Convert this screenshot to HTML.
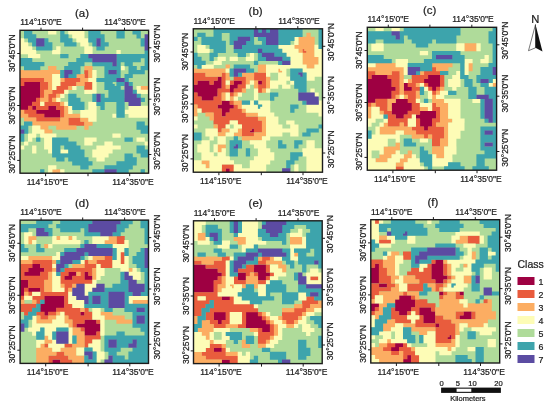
<!DOCTYPE html>
<html><head><meta charset="utf-8"><title>Class maps</title>
<style>html,body{margin:0;padding:0;background:#fff;}body{width:550px;height:406px;overflow:hidden;}svg{display:block;}text{fill:#1c1c1c;stroke:#1c1c1c;stroke-width:0.22px;}</style>
</head><body>
<svg width="550" height="406" viewBox="0 0 550 406" font-family="'Liberation Sans', Arial, sans-serif">
<defs><filter id="bl" x="-2%" y="-2%" width="104%" height="104%"><feGaussianBlur stdDeviation="0.7"/></filter></defs>
<rect width="550" height="406" fill="#fff"/>
<clipPath id="cpa"><rect x="20.00" y="30.30" width="128.60" height="142.90"/></clipPath>
<g clip-path="url(#cpa)"><g filter="url(#bl)">
<rect x="18.00" y="28.30" width="132.60" height="146.90" fill="#afdb9a"/>
<path fill="#9e0142" d="M24.0 81.9h16.3v2.2h-16.3zM24.0 83.9h16.3v2.2h-16.3zM20.0 85.9h20.3v2.2h-20.3zM20.0 87.9h20.3v2.2h-20.3zM20.0 89.8h20.3v2.2h-20.3zM20.0 91.8h20.3v2.2h-20.3zM20.0 93.8h20.3v2.2h-20.3zM20.0 95.8h20.3v2.2h-20.3zM20.0 97.8h16.3v2.2h-16.3zM20.0 99.8h16.3v2.2h-16.3zM20.0 101.7h12.3v2.2h-12.3zM20.0 103.7h12.3v2.2h-12.3zM20.0 105.7h8.3v2.2h-8.3zM32.1 105.7h4.3v2.2h-4.3zM48.1 105.7h8.3v2.2h-8.3zM20.0 107.7h8.3v2.2h-8.3zM32.1 107.7h4.3v2.2h-4.3zM48.1 107.7h8.3v2.2h-8.3zM36.1 109.7h24.4v2.2h-24.4zM36.1 111.7h24.4v2.2h-24.4zM44.1 113.7h16.3v2.2h-16.3zM44.1 115.6h16.3v2.2h-16.3z"/>
<path fill="#e95b3d" d="M84.3 70.0h4.3v2.2h-4.3zM84.3 72.0h4.3v2.2h-4.3zM84.3 74.0h4.3v2.2h-4.3zM84.3 75.9h4.3v2.2h-4.3zM20.0 77.9h24.4v2.2h-24.4zM64.2 77.9h16.3v2.2h-16.3zM20.0 79.9h24.4v2.2h-24.4zM64.2 79.9h16.3v2.2h-16.3zM20.0 81.9h4.3v2.2h-4.3zM40.1 81.9h8.3v2.2h-8.3zM60.2 81.9h16.3v2.2h-16.3zM84.3 81.9h8.3v2.2h-8.3zM20.0 83.9h4.3v2.2h-4.3zM40.1 83.9h8.3v2.2h-8.3zM60.2 83.9h16.3v2.2h-16.3zM84.3 83.9h8.3v2.2h-8.3zM40.1 85.9h8.3v2.2h-8.3zM56.2 85.9h12.3v2.2h-12.3zM84.3 85.9h8.3v2.2h-8.3zM40.1 87.9h8.3v2.2h-8.3zM56.2 87.9h12.3v2.2h-12.3zM84.3 87.9h8.3v2.2h-8.3zM40.1 89.8h4.3v2.2h-4.3zM52.1 89.8h12.3v2.2h-12.3zM40.1 91.8h4.3v2.2h-4.3zM52.1 91.8h12.3v2.2h-12.3zM40.1 93.8h4.3v2.2h-4.3zM48.1 93.8h8.3v2.2h-8.3zM40.1 95.8h4.3v2.2h-4.3zM48.1 95.8h8.3v2.2h-8.3zM36.1 97.8h4.3v2.2h-4.3zM48.1 97.8h4.3v2.2h-4.3zM36.1 99.8h4.3v2.2h-4.3zM48.1 99.8h4.3v2.2h-4.3zM32.1 101.7h8.3v2.2h-8.3zM44.1 101.7h16.3v2.2h-16.3zM32.1 103.7h8.3v2.2h-8.3zM44.1 103.7h16.3v2.2h-16.3zM28.0 105.7h4.3v2.2h-4.3zM36.1 105.7h12.3v2.2h-12.3zM56.2 105.7h8.3v2.2h-8.3zM28.0 107.7h4.3v2.2h-4.3zM36.1 107.7h12.3v2.2h-12.3zM56.2 107.7h8.3v2.2h-8.3zM24.0 109.7h12.3v2.2h-12.3zM60.2 109.7h4.3v2.2h-4.3zM24.0 111.7h12.3v2.2h-12.3zM60.2 111.7h4.3v2.2h-4.3zM28.0 113.7h16.3v2.2h-16.3zM60.2 113.7h4.3v2.2h-4.3zM28.0 115.6h16.3v2.2h-16.3zM60.2 115.6h4.3v2.2h-4.3zM36.1 117.6h24.4v2.2h-24.4zM68.2 117.6h12.3v2.2h-12.3zM36.1 119.6h24.4v2.2h-24.4zM68.2 119.6h12.3v2.2h-12.3zM68.2 121.6h16.3v2.2h-16.3zM68.2 123.6h16.3v2.2h-16.3z"/>
<path fill="#fcad62" d="M48.1 66.0h8.3v2.2h-8.3zM84.3 66.0h8.3v2.2h-8.3zM48.1 68.0h8.3v2.2h-8.3zM84.3 68.0h8.3v2.2h-8.3zM20.0 70.0h40.4v2.2h-40.4zM88.3 70.0h4.3v2.2h-4.3zM20.0 72.0h40.4v2.2h-40.4zM88.3 72.0h4.3v2.2h-4.3zM20.0 74.0h32.4v2.2h-32.4zM76.3 74.0h8.3v2.2h-8.3zM88.3 74.0h4.3v2.2h-4.3zM20.0 75.9h32.4v2.2h-32.4zM76.3 75.9h8.3v2.2h-8.3zM88.3 75.9h4.3v2.2h-4.3zM44.1 77.9h8.3v2.2h-8.3zM60.2 77.9h4.3v2.2h-4.3zM80.3 77.9h8.3v2.2h-8.3zM44.1 79.9h8.3v2.2h-8.3zM60.2 79.9h4.3v2.2h-4.3zM80.3 79.9h8.3v2.2h-8.3zM48.1 81.9h4.3v2.2h-4.3zM76.3 81.9h8.3v2.2h-8.3zM48.1 83.9h4.3v2.2h-4.3zM76.3 83.9h8.3v2.2h-8.3zM48.1 85.9h4.3v2.2h-4.3zM68.2 85.9h4.3v2.2h-4.3zM140.6 85.9h8.3v2.2h-8.3zM48.1 87.9h4.3v2.2h-4.3zM68.2 87.9h4.3v2.2h-4.3zM140.6 87.9h8.3v2.2h-8.3zM44.1 89.8h8.3v2.2h-8.3zM44.1 91.8h8.3v2.2h-8.3zM44.1 93.8h4.3v2.2h-4.3zM56.2 93.8h4.3v2.2h-4.3zM44.1 95.8h4.3v2.2h-4.3zM56.2 95.8h4.3v2.2h-4.3zM40.1 97.8h8.3v2.2h-8.3zM52.1 97.8h4.3v2.2h-4.3zM40.1 99.8h8.3v2.2h-8.3zM52.1 99.8h4.3v2.2h-4.3zM60.2 101.7h4.3v2.2h-4.3zM60.2 103.7h4.3v2.2h-4.3zM64.2 105.7h4.3v2.2h-4.3zM64.2 107.7h4.3v2.2h-4.3zM20.0 109.7h4.3v2.2h-4.3zM64.2 109.7h4.3v2.2h-4.3zM20.0 111.7h4.3v2.2h-4.3zM64.2 111.7h4.3v2.2h-4.3zM20.0 113.7h8.3v2.2h-8.3zM64.2 113.7h16.3v2.2h-16.3zM20.0 115.6h8.3v2.2h-8.3zM64.2 115.6h16.3v2.2h-16.3zM24.0 117.6h12.3v2.2h-12.3zM60.2 117.6h8.3v2.2h-8.3zM80.3 117.6h8.3v2.2h-8.3zM24.0 119.6h12.3v2.2h-12.3zM60.2 119.6h8.3v2.2h-8.3zM80.3 119.6h8.3v2.2h-8.3zM32.1 121.6h36.4v2.2h-36.4zM84.3 121.6h8.3v2.2h-8.3zM32.1 123.6h36.4v2.2h-36.4zM84.3 123.6h8.3v2.2h-8.3zM40.1 125.6h8.3v2.2h-8.3zM56.2 125.6h20.3v2.2h-20.3zM84.3 125.6h4.3v2.2h-4.3zM40.1 127.6h8.3v2.2h-8.3zM56.2 127.6h20.3v2.2h-20.3zM84.3 127.6h4.3v2.2h-4.3zM44.1 129.5h8.3v2.2h-8.3zM44.1 131.5h8.3v2.2h-8.3zM52.1 169.2h8.3v2.2h-8.3zM52.1 171.2h8.3v2.2h-8.3z"/>
<path fill="#fdfcb6" d="M48.1 30.3h8.3v2.2h-8.3zM68.2 30.3h16.3v2.2h-16.3zM48.1 32.3h8.3v2.2h-8.3zM68.2 32.3h16.3v2.2h-16.3zM72.2 34.3h12.3v2.2h-12.3zM72.2 36.3h12.3v2.2h-12.3zM20.0 38.2h4.3v2.2h-4.3zM76.3 38.2h12.3v2.2h-12.3zM20.0 40.2h4.3v2.2h-4.3zM76.3 40.2h12.3v2.2h-12.3zM20.0 42.2h8.3v2.2h-8.3zM80.3 42.2h8.3v2.2h-8.3zM20.0 44.2h8.3v2.2h-8.3zM80.3 44.2h8.3v2.2h-8.3zM20.0 46.2h12.3v2.2h-12.3zM56.2 46.2h4.3v2.2h-4.3zM84.3 46.2h8.3v2.2h-8.3zM20.0 48.2h12.3v2.2h-12.3zM56.2 48.2h4.3v2.2h-4.3zM84.3 48.2h8.3v2.2h-8.3zM20.0 50.1h16.3v2.2h-16.3zM52.1 50.1h8.3v2.2h-8.3zM84.3 50.1h8.3v2.2h-8.3zM116.4 50.1h4.3v2.2h-4.3zM20.0 52.1h16.3v2.2h-16.3zM52.1 52.1h8.3v2.2h-8.3zM84.3 52.1h8.3v2.2h-8.3zM116.4 52.1h4.3v2.2h-4.3zM28.0 54.1h12.3v2.2h-12.3zM28.0 56.1h12.3v2.2h-12.3zM120.5 66.0h4.3v2.2h-4.3zM120.5 68.0h4.3v2.2h-4.3zM92.3 70.0h4.3v2.2h-4.3zM92.3 72.0h4.3v2.2h-4.3zM52.1 74.0h8.3v2.2h-8.3zM92.3 74.0h4.3v2.2h-4.3zM52.1 75.9h8.3v2.2h-8.3zM92.3 75.9h4.3v2.2h-4.3zM52.1 77.9h8.3v2.2h-8.3zM88.3 77.9h8.3v2.2h-8.3zM52.1 79.9h8.3v2.2h-8.3zM88.3 79.9h8.3v2.2h-8.3zM52.1 81.9h8.3v2.2h-8.3zM92.3 81.9h4.3v2.2h-4.3zM52.1 83.9h8.3v2.2h-8.3zM92.3 83.9h4.3v2.2h-4.3zM52.1 85.9h4.3v2.2h-4.3zM72.2 85.9h4.3v2.2h-4.3zM92.3 85.9h4.3v2.2h-4.3zM136.5 85.9h4.3v2.2h-4.3zM52.1 87.9h4.3v2.2h-4.3zM72.2 87.9h4.3v2.2h-4.3zM92.3 87.9h4.3v2.2h-4.3zM136.5 87.9h4.3v2.2h-4.3zM64.2 89.8h4.3v2.2h-4.3zM84.3 89.8h12.3v2.2h-12.3zM136.5 89.8h12.3v2.2h-12.3zM64.2 91.8h4.3v2.2h-4.3zM84.3 91.8h12.3v2.2h-12.3zM136.5 91.8h12.3v2.2h-12.3zM60.2 93.8h4.3v2.2h-4.3zM60.2 95.8h4.3v2.2h-4.3zM56.2 97.8h4.3v2.2h-4.3zM56.2 99.8h4.3v2.2h-4.3zM40.1 101.7h4.3v2.2h-4.3zM64.2 101.7h4.3v2.2h-4.3zM88.3 101.7h8.3v2.2h-8.3zM40.1 103.7h4.3v2.2h-4.3zM64.2 103.7h4.3v2.2h-4.3zM88.3 103.7h8.3v2.2h-8.3zM68.2 105.7h4.3v2.2h-4.3zM88.3 105.7h8.3v2.2h-8.3zM128.5 105.7h20.3v2.2h-20.3zM68.2 107.7h4.3v2.2h-4.3zM88.3 107.7h8.3v2.2h-8.3zM128.5 107.7h20.3v2.2h-20.3zM68.2 109.7h4.3v2.2h-4.3zM80.3 109.7h16.3v2.2h-16.3zM124.5 109.7h24.4v2.2h-24.4zM68.2 111.7h4.3v2.2h-4.3zM80.3 111.7h16.3v2.2h-16.3zM124.5 111.7h24.4v2.2h-24.4zM80.3 113.7h16.3v2.2h-16.3zM112.4 113.7h4.3v2.2h-4.3zM128.5 113.7h20.3v2.2h-20.3zM80.3 115.6h16.3v2.2h-16.3zM112.4 115.6h4.3v2.2h-4.3zM128.5 115.6h20.3v2.2h-20.3zM88.3 117.6h8.3v2.2h-8.3zM88.3 119.6h8.3v2.2h-8.3zM32.1 125.6h8.3v2.2h-8.3zM32.1 127.6h8.3v2.2h-8.3zM32.1 129.5h12.3v2.2h-12.3zM32.1 131.5h12.3v2.2h-12.3zM28.0 133.5h8.3v2.2h-8.3zM40.1 133.5h16.3v2.2h-16.3zM112.4 133.5h8.3v2.2h-8.3zM28.0 135.5h8.3v2.2h-8.3zM40.1 135.5h16.3v2.2h-16.3zM112.4 135.5h8.3v2.2h-8.3zM28.0 137.5h4.3v2.2h-4.3zM44.1 137.5h8.3v2.2h-8.3zM84.3 137.5h12.3v2.2h-12.3zM136.5 137.5h8.3v2.2h-8.3zM28.0 139.5h4.3v2.2h-4.3zM44.1 139.5h8.3v2.2h-8.3zM84.3 139.5h12.3v2.2h-12.3zM136.5 139.5h8.3v2.2h-8.3zM24.0 141.4h4.3v2.2h-4.3zM44.1 141.4h8.3v2.2h-8.3zM84.3 141.4h8.3v2.2h-8.3zM104.4 141.4h8.3v2.2h-8.3zM144.6 141.4h4.3v2.2h-4.3zM24.0 143.4h4.3v2.2h-4.3zM44.1 143.4h8.3v2.2h-8.3zM84.3 143.4h8.3v2.2h-8.3zM104.4 143.4h8.3v2.2h-8.3zM144.6 143.4h4.3v2.2h-4.3zM20.0 145.4h4.3v2.2h-4.3zM32.1 145.4h4.3v2.2h-4.3zM44.1 145.4h8.3v2.2h-8.3zM96.4 145.4h24.4v2.2h-24.4zM20.0 147.4h4.3v2.2h-4.3zM32.1 147.4h4.3v2.2h-4.3zM44.1 147.4h8.3v2.2h-8.3zM96.4 147.4h24.4v2.2h-24.4zM32.1 149.4h4.3v2.2h-4.3zM48.1 149.4h4.3v2.2h-4.3zM60.2 149.4h8.3v2.2h-8.3zM92.3 149.4h20.3v2.2h-20.3zM32.1 151.4h4.3v2.2h-4.3zM48.1 151.4h4.3v2.2h-4.3zM60.2 151.4h8.3v2.2h-8.3zM92.3 151.4h20.3v2.2h-20.3zM92.3 153.4h16.3v2.2h-16.3zM92.3 155.3h16.3v2.2h-16.3zM96.4 157.3h8.3v2.2h-8.3zM96.4 159.3h8.3v2.2h-8.3zM48.1 165.3h8.3v2.2h-8.3zM48.1 167.2h8.3v2.2h-8.3zM48.1 169.2h4.3v2.2h-4.3zM60.2 169.2h4.3v2.2h-4.3zM48.1 171.2h4.3v2.2h-4.3zM60.2 171.2h4.3v2.2h-4.3z"/>
<path fill="#3ea4ac" d="M24.0 30.3h8.3v2.2h-8.3zM60.2 30.3h4.3v2.2h-4.3zM88.3 30.3h12.3v2.2h-12.3zM116.4 30.3h8.3v2.2h-8.3zM132.5 30.3h8.3v2.2h-8.3zM24.0 32.3h8.3v2.2h-8.3zM60.2 32.3h4.3v2.2h-4.3zM88.3 32.3h12.3v2.2h-12.3zM116.4 32.3h8.3v2.2h-8.3zM132.5 32.3h8.3v2.2h-8.3zM24.0 34.3h12.3v2.2h-12.3zM60.2 34.3h8.3v2.2h-8.3zM88.3 34.3h16.3v2.2h-16.3zM116.4 34.3h8.3v2.2h-8.3zM136.5 34.3h4.3v2.2h-4.3zM24.0 36.3h12.3v2.2h-12.3zM60.2 36.3h8.3v2.2h-8.3zM88.3 36.3h16.3v2.2h-16.3zM116.4 36.3h8.3v2.2h-8.3zM136.5 36.3h4.3v2.2h-4.3zM28.0 38.2h8.3v2.2h-8.3zM44.1 38.2h4.3v2.2h-4.3zM60.2 38.2h12.3v2.2h-12.3zM88.3 38.2h8.3v2.2h-8.3zM100.4 38.2h4.3v2.2h-4.3zM140.6 38.2h4.3v2.2h-4.3zM28.0 40.2h8.3v2.2h-8.3zM44.1 40.2h4.3v2.2h-4.3zM60.2 40.2h12.3v2.2h-12.3zM88.3 40.2h8.3v2.2h-8.3zM100.4 40.2h4.3v2.2h-4.3zM140.6 40.2h4.3v2.2h-4.3zM32.1 42.2h4.3v2.2h-4.3zM44.1 42.2h8.3v2.2h-8.3zM64.2 42.2h12.3v2.2h-12.3zM92.3 42.2h4.3v2.2h-4.3zM100.4 42.2h8.3v2.2h-8.3zM140.6 42.2h4.3v2.2h-4.3zM32.1 44.2h4.3v2.2h-4.3zM44.1 44.2h8.3v2.2h-8.3zM64.2 44.2h12.3v2.2h-12.3zM92.3 44.2h4.3v2.2h-4.3zM100.4 44.2h8.3v2.2h-8.3zM140.6 44.2h4.3v2.2h-4.3zM36.1 46.2h16.3v2.2h-16.3zM96.4 46.2h8.3v2.2h-8.3zM36.1 48.2h16.3v2.2h-16.3zM96.4 48.2h8.3v2.2h-8.3zM144.6 50.1h4.3v2.2h-4.3zM144.6 52.1h4.3v2.2h-4.3zM60.2 54.1h8.3v2.2h-8.3zM80.3 54.1h8.3v2.2h-8.3zM116.4 54.1h32.4v2.2h-32.4zM60.2 56.1h8.3v2.2h-8.3zM80.3 56.1h8.3v2.2h-8.3zM116.4 56.1h32.4v2.2h-32.4zM20.0 58.1h12.3v2.2h-12.3zM76.3 58.1h16.3v2.2h-16.3zM116.4 58.1h24.4v2.2h-24.4zM144.6 58.1h4.3v2.2h-4.3zM20.0 60.1h12.3v2.2h-12.3zM76.3 60.1h16.3v2.2h-16.3zM116.4 60.1h24.4v2.2h-24.4zM144.6 60.1h4.3v2.2h-4.3zM20.0 62.1h24.4v2.2h-24.4zM68.2 62.1h16.3v2.2h-16.3zM92.3 62.1h20.3v2.2h-20.3zM116.4 62.1h4.3v2.2h-4.3zM124.5 62.1h8.3v2.2h-8.3zM144.6 62.1h4.3v2.2h-4.3zM20.0 64.0h24.4v2.2h-24.4zM68.2 64.0h16.3v2.2h-16.3zM92.3 64.0h20.3v2.2h-20.3zM116.4 64.0h4.3v2.2h-4.3zM124.5 64.0h8.3v2.2h-8.3zM144.6 64.0h4.3v2.2h-4.3zM24.0 66.0h16.3v2.2h-16.3zM64.2 66.0h16.3v2.2h-16.3zM104.4 66.0h16.3v2.2h-16.3zM128.5 66.0h8.3v2.2h-8.3zM140.6 66.0h8.3v2.2h-8.3zM24.0 68.0h16.3v2.2h-16.3zM64.2 68.0h16.3v2.2h-16.3zM104.4 68.0h16.3v2.2h-16.3zM128.5 68.0h8.3v2.2h-8.3zM140.6 68.0h8.3v2.2h-8.3zM60.2 70.0h4.3v2.2h-4.3zM72.2 70.0h8.3v2.2h-8.3zM104.4 70.0h4.3v2.2h-4.3zM116.4 70.0h4.3v2.2h-4.3zM128.5 70.0h16.3v2.2h-16.3zM60.2 72.0h4.3v2.2h-4.3zM72.2 72.0h8.3v2.2h-8.3zM104.4 72.0h4.3v2.2h-4.3zM116.4 72.0h4.3v2.2h-4.3zM128.5 72.0h16.3v2.2h-16.3zM60.2 74.0h4.3v2.2h-4.3zM68.2 74.0h8.3v2.2h-8.3zM104.4 74.0h16.3v2.2h-16.3zM124.5 74.0h8.3v2.2h-8.3zM60.2 75.9h4.3v2.2h-4.3zM68.2 75.9h8.3v2.2h-8.3zM104.4 75.9h16.3v2.2h-16.3zM124.5 75.9h8.3v2.2h-8.3zM96.4 77.9h20.3v2.2h-20.3zM124.5 77.9h4.3v2.2h-4.3zM96.4 79.9h20.3v2.2h-20.3zM124.5 79.9h4.3v2.2h-4.3zM104.4 81.9h8.3v2.2h-8.3zM116.4 81.9h8.3v2.2h-8.3zM128.5 81.9h4.3v2.2h-4.3zM104.4 83.9h10.3v2.2h-10.3zM116.4 83.9h8.3v2.2h-8.3zM128.5 83.9h4.3v2.2h-4.3zM104.4 85.9h16.3v2.2h-16.3zM104.4 87.9h16.3v2.2h-16.3zM108.4 89.8h16.3v2.2h-16.3zM132.5 89.8h4.3v2.2h-4.3zM108.4 91.8h16.3v2.2h-16.3zM132.5 91.8h4.3v2.2h-4.3zM68.2 93.8h8.3v2.2h-8.3zM92.3 93.8h4.3v2.2h-4.3zM100.4 93.8h4.3v2.2h-4.3zM108.4 93.8h16.3v2.2h-16.3zM136.5 93.8h4.3v2.2h-4.3zM68.2 95.8h8.3v2.2h-8.3zM92.3 95.8h4.3v2.2h-4.3zM100.4 95.8h4.3v2.2h-4.3zM108.4 95.8h16.3v2.2h-16.3zM136.5 95.8h4.3v2.2h-4.3zM68.2 97.8h12.3v2.2h-12.3zM92.3 97.8h4.3v2.2h-4.3zM100.4 97.8h24.4v2.2h-24.4zM140.6 97.8h4.3v2.2h-4.3zM68.2 99.8h12.3v2.2h-12.3zM92.3 99.8h4.3v2.2h-4.3zM100.4 99.8h24.4v2.2h-24.4zM140.6 99.8h4.3v2.2h-4.3zM68.2 101.7h16.3v2.2h-16.3zM96.4 101.7h8.3v2.2h-8.3zM116.4 101.7h8.3v2.2h-8.3zM68.2 103.7h16.3v2.2h-16.3zM96.4 103.7h8.3v2.2h-8.3zM116.4 103.7h8.3v2.2h-8.3zM72.2 105.7h12.3v2.2h-12.3zM100.4 105.7h4.3v2.2h-4.3zM116.4 105.7h8.3v2.2h-8.3zM72.2 107.7h12.3v2.2h-12.3zM100.4 107.7h4.3v2.2h-4.3zM116.4 107.7h8.3v2.2h-8.3zM116.4 109.7h8.3v2.2h-8.3zM116.4 111.7h8.3v2.2h-8.3zM116.4 113.7h8.3v2.2h-8.3zM116.4 115.6h8.3v2.2h-8.3zM24.0 121.6h8.3v2.2h-8.3zM136.5 121.6h8.3v2.2h-8.3zM24.0 123.6h8.3v2.2h-8.3zM136.5 123.6h8.3v2.2h-8.3zM20.0 125.6h8.3v2.2h-8.3zM136.5 125.6h12.3v2.2h-12.3zM20.0 127.6h8.3v2.2h-8.3zM136.5 127.6h12.3v2.2h-12.3zM24.0 129.5h4.3v2.2h-4.3zM140.6 129.5h8.3v2.2h-8.3zM24.0 131.5h4.3v2.2h-4.3zM140.6 131.5h8.3v2.2h-8.3zM20.0 133.5h4.3v2.2h-4.3zM20.0 135.5h4.3v2.2h-4.3zM20.0 137.5h4.3v2.2h-4.3zM36.1 137.5h4.3v2.2h-4.3zM52.1 137.5h16.3v2.2h-16.3zM124.5 137.5h8.3v2.2h-8.3zM20.0 139.5h4.3v2.2h-4.3zM36.1 139.5h4.3v2.2h-4.3zM52.1 139.5h16.3v2.2h-16.3zM124.5 139.5h8.3v2.2h-8.3zM52.1 141.4h24.4v2.2h-24.4zM52.1 143.4h24.4v2.2h-24.4zM52.1 145.4h8.3v2.2h-8.3zM64.2 145.4h16.3v2.2h-16.3zM136.5 145.4h8.3v2.2h-8.3zM52.1 147.4h8.3v2.2h-8.3zM64.2 147.4h16.3v2.2h-16.3zM136.5 147.4h8.3v2.2h-8.3zM52.1 149.4h8.3v2.2h-8.3zM68.2 149.4h16.3v2.2h-16.3zM136.5 149.4h12.3v2.2h-12.3zM52.1 151.4h8.3v2.2h-8.3zM68.2 151.4h16.3v2.2h-16.3zM136.5 151.4h12.3v2.2h-12.3zM52.1 153.4h32.4v2.2h-32.4zM124.5 153.4h8.3v2.2h-8.3zM140.6 153.4h8.3v2.2h-8.3zM52.1 155.3h32.4v2.2h-32.4zM124.5 155.3h8.3v2.2h-8.3zM140.6 155.3h8.3v2.2h-8.3zM56.2 157.3h8.3v2.2h-8.3zM68.2 157.3h20.3v2.2h-20.3zM124.5 157.3h12.3v2.2h-12.3zM56.2 159.3h8.3v2.2h-8.3zM68.2 159.3h20.3v2.2h-20.3zM124.5 159.3h12.3v2.2h-12.3zM72.2 161.3h20.3v2.2h-20.3zM116.4 161.3h20.3v2.2h-20.3zM72.2 163.3h20.3v2.2h-20.3zM116.4 163.3h20.3v2.2h-20.3zM80.3 165.3h8.3v2.2h-8.3zM104.4 165.3h28.4v2.2h-28.4zM80.3 167.2h8.3v2.2h-8.3zM104.4 167.2h28.4v2.2h-28.4zM40.1 169.2h4.3v2.2h-4.3zM92.3 169.2h12.3v2.2h-12.3zM116.4 169.2h12.3v2.2h-12.3zM140.6 169.2h4.3v2.2h-4.3zM40.1 171.2h4.3v2.2h-4.3zM92.3 171.2h12.3v2.2h-12.3zM116.4 171.2h12.3v2.2h-12.3zM140.6 171.2h4.3v2.2h-4.3z"/>
<path fill="#5b4ca2" d="M144.6 34.3h4.3v2.2h-4.3zM144.6 36.3h4.3v2.2h-4.3zM36.1 38.2h8.3v2.2h-8.3zM96.4 38.2h4.3v2.2h-4.3zM144.6 38.2h4.3v2.2h-4.3zM36.1 40.2h8.3v2.2h-8.3zM96.4 40.2h4.3v2.2h-4.3zM144.6 40.2h4.3v2.2h-4.3zM36.1 42.2h8.3v2.2h-8.3zM96.4 42.2h4.3v2.2h-4.3zM144.6 42.2h4.3v2.2h-4.3zM36.1 44.2h8.3v2.2h-8.3zM96.4 44.2h4.3v2.2h-4.3zM144.6 44.2h4.3v2.2h-4.3zM144.6 46.2h4.3v2.2h-4.3zM144.6 48.2h4.3v2.2h-4.3zM88.3 54.1h28.4v2.2h-28.4zM88.3 56.1h28.4v2.2h-28.4zM92.3 58.1h24.4v2.2h-24.4zM92.3 60.1h24.4v2.2h-24.4zM112.4 62.1h4.3v2.2h-4.3zM112.4 64.0h4.3v2.2h-4.3zM64.2 70.0h8.3v2.2h-8.3zM108.4 70.0h8.3v2.2h-8.3zM64.2 72.0h8.3v2.2h-8.3zM108.4 72.0h8.3v2.2h-8.3zM64.2 74.0h4.3v2.2h-4.3zM64.2 75.9h4.3v2.2h-4.3zM116.4 77.9h8.3v2.2h-8.3zM116.4 79.9h8.3v2.2h-8.3zM124.5 81.9h4.3v2.2h-4.3zM124.5 83.9h4.3v2.2h-4.3zM124.5 85.9h8.3v2.2h-8.3zM124.5 87.9h8.3v2.2h-8.3zM124.5 89.8h8.3v2.2h-8.3zM124.5 91.8h8.3v2.2h-8.3zM96.4 93.8h4.3v2.2h-4.3zM124.5 93.8h12.3v2.2h-12.3zM96.4 95.8h4.3v2.2h-4.3zM124.5 95.8h12.3v2.2h-12.3zM96.4 97.8h4.3v2.2h-4.3zM124.5 97.8h16.3v2.2h-16.3zM96.4 99.8h4.3v2.2h-4.3zM124.5 99.8h16.3v2.2h-16.3zM128.5 101.7h12.3v2.2h-12.3zM128.5 103.7h12.3v2.2h-12.3zM20.0 129.5h4.3v2.2h-4.3zM20.0 131.5h4.3v2.2h-4.3zM104.4 169.2h12.3v2.2h-12.3zM104.4 171.2h12.3v2.2h-12.3z"/>
</g></g>
<rect x="20.00" y="30.30" width="128.60" height="142.90" fill="none" stroke="#1c1c1c" stroke-width="1.4"/>
<path d="M41.0 27.7V30.3 M82.6 27.7V30.3 M124.5 27.7V30.3 M45.6 173.2V176.2 M88.0 173.2V176.2 M129.7 173.2V176.2 M17.2 53.5H20.0 M17.2 105.5H20.0 M17.2 160.4H20.0 M148.6 47.8H151.4 M148.6 99.2H151.4 M148.6 154.5H151.4" stroke="#1c1c1c" stroke-width="1" fill="none"/>
<text x="40.9" y="25.4" font-size="8.5" text-anchor="middle">114°15'0&quot;E</text>
<text x="125.0" y="25.4" font-size="8.5" text-anchor="middle">114°35'0&quot;E</text>
<text x="47.5" y="184.7" font-size="8.5" text-anchor="middle">114°15'0&quot;E</text>
<text x="133.0" y="184.7" font-size="8.5" text-anchor="middle">114°35'0&quot;E</text>
<text x="0" y="0" font-size="8.5" text-anchor="middle" transform="translate(15.0,53.2) rotate(-90)">30°45'0&quot;N</text>
<text x="0" y="0" font-size="8.5" text-anchor="middle" transform="translate(15.0,105.5) rotate(-90)">30°35'0&quot;N</text>
<text x="0" y="0" font-size="8.5" text-anchor="middle" transform="translate(15.0,154.5) rotate(-90)">30°25'0&quot;N</text>
<text x="0" y="0" font-size="8.5" text-anchor="middle" transform="translate(159.8,43.6) rotate(-90)">30°45'0&quot;N</text>
<text x="0" y="0" font-size="8.5" text-anchor="middle" transform="translate(159.8,96.5) rotate(-90)">30°35'0&quot;N</text>
<text x="0" y="0" font-size="8.5" text-anchor="middle" transform="translate(159.8,150.8) rotate(-90)">30°25'0&quot;N</text>
<text x="82.0" y="16.9" font-size="11.5" text-anchor="middle">(a)</text>
<clipPath id="cpb"><rect x="193.30" y="28.80" width="129.20" height="143.40"/></clipPath>
<g clip-path="url(#cpb)"><g filter="url(#bl)">
<rect x="191.30" y="26.80" width="133.20" height="147.40" fill="#afdb9a"/>
<path fill="#9e0142" d="M217.5 76.6h4.3v2.2h-4.3zM217.5 78.6h4.3v2.2h-4.3zM197.3 80.6h12.4v2.2h-12.4zM213.5 80.6h8.3v2.2h-8.3zM233.7 80.6h8.3v2.2h-8.3zM257.9 80.6h4.3v2.2h-4.3zM197.3 82.6h12.4v2.2h-12.4zM213.5 82.6h8.3v2.2h-8.3zM233.7 82.6h8.3v2.2h-8.3zM257.9 82.6h4.3v2.2h-4.3zM193.3 84.6h28.5v2.2h-28.5zM229.6 84.6h8.3v2.2h-8.3zM193.3 86.6h28.5v2.2h-28.5zM229.6 86.6h8.3v2.2h-8.3zM193.3 88.5h24.5v2.2h-24.5zM229.6 88.5h4.3v2.2h-4.3zM193.3 90.5h24.5v2.2h-24.5zM229.6 90.5h4.3v2.2h-4.3zM197.3 92.5h20.4v2.2h-20.4zM197.3 94.5h20.4v2.2h-20.4zM201.4 96.5h12.4v2.2h-12.4zM201.4 98.5h12.4v2.2h-12.4zM221.6 100.5h8.3v2.2h-8.3zM221.6 102.5h8.3v2.2h-8.3zM217.5 104.5h16.4v2.2h-16.4zM217.5 106.5h16.4v2.2h-16.4zM221.6 108.5h8.3v2.2h-8.3zM221.6 110.5h8.3v2.2h-8.3zM221.6 112.4h4.3v2.2h-4.3zM221.6 114.4h4.3v2.2h-4.3zM251.8 128.4h2.3v2.2h-2.3zM249.8 130.4h4.3v2.2h-4.3zM225.6 168.2h4.3v2.2h-4.3zM225.6 170.2h4.3v2.2h-4.3z"/>
<path fill="#e95b3d" d="M302.3 48.7h2.3v2.2h-2.3zM302.3 50.7h4.3v2.2h-4.3zM193.3 72.6h12.4v2.2h-12.4zM221.6 72.6h4.3v2.2h-4.3zM253.9 72.6h12.4v2.2h-12.4zM193.3 74.6h12.4v2.2h-12.4zM221.6 74.6h4.3v2.2h-4.3zM253.9 74.6h12.4v2.2h-12.4zM193.3 76.6h24.5v2.2h-24.5zM221.6 76.6h4.3v2.2h-4.3zM233.7 76.6h12.4v2.2h-12.4zM253.9 76.6h12.4v2.2h-12.4zM193.3 78.6h24.5v2.2h-24.5zM221.6 78.6h4.3v2.2h-4.3zM233.7 78.6h12.4v2.2h-12.4zM253.9 78.6h12.4v2.2h-12.4zM193.3 80.6h4.3v2.2h-4.3zM209.5 80.6h4.3v2.2h-4.3zM221.6 80.6h4.3v2.2h-4.3zM229.6 80.6h4.3v2.2h-4.3zM241.8 80.6h4.3v2.2h-4.3zM261.9 80.6h4.3v2.2h-4.3zM193.3 82.6h4.3v2.2h-4.3zM209.5 82.6h4.3v2.2h-4.3zM221.6 82.6h4.3v2.2h-4.3zM229.6 82.6h4.3v2.2h-4.3zM241.8 82.6h4.3v2.2h-4.3zM261.9 82.6h4.3v2.2h-4.3zM221.6 84.6h4.3v2.2h-4.3zM237.7 84.6h8.3v2.2h-8.3zM257.9 84.6h8.3v2.2h-8.3zM221.6 86.6h4.3v2.2h-4.3zM237.7 86.6h8.3v2.2h-8.3zM257.9 86.6h8.3v2.2h-8.3zM217.5 88.5h12.4v2.2h-12.4zM233.7 88.5h8.3v2.2h-8.3zM257.9 88.5h4.3v2.2h-4.3zM217.5 90.5h12.4v2.2h-12.4zM233.7 90.5h8.3v2.2h-8.3zM257.9 90.5h4.3v2.2h-4.3zM193.3 92.5h4.3v2.2h-4.3zM217.5 92.5h4.3v2.2h-4.3zM229.6 92.5h4.3v2.2h-4.3zM193.3 94.5h4.3v2.2h-4.3zM217.5 94.5h4.3v2.2h-4.3zM229.6 94.5h4.3v2.2h-4.3zM193.3 96.5h8.3v2.2h-8.3zM213.5 96.5h8.3v2.2h-8.3zM193.3 98.5h8.3v2.2h-8.3zM213.5 98.5h8.3v2.2h-8.3zM193.3 100.5h28.5v2.2h-28.5zM229.6 100.5h4.3v2.2h-4.3zM193.3 102.5h28.5v2.2h-28.5zM229.6 102.5h4.3v2.2h-4.3zM197.3 104.5h20.4v2.2h-20.4zM233.7 104.5h4.3v2.2h-4.3zM197.3 106.5h20.4v2.2h-20.4zM233.7 106.5h4.3v2.2h-4.3zM201.4 108.5h20.4v2.2h-20.4zM229.6 108.5h12.4v2.2h-12.4zM201.4 110.5h20.4v2.2h-20.4zM229.6 110.5h12.4v2.2h-12.4zM213.5 112.4h8.3v2.2h-8.3zM225.6 112.4h20.4v2.2h-20.4zM213.5 114.4h8.3v2.2h-8.3zM225.6 114.4h20.4v2.2h-20.4zM213.5 116.4h44.7v2.2h-44.7zM213.5 118.4h44.7v2.2h-44.7zM213.5 120.4h16.4v2.2h-16.4zM237.7 120.4h24.5v2.2h-24.5zM213.5 122.4h16.4v2.2h-16.4zM237.7 122.4h24.5v2.2h-24.5zM217.5 124.4h8.3v2.2h-8.3zM241.8 124.4h20.4v2.2h-20.4zM217.5 126.4h8.3v2.2h-8.3zM241.8 126.4h20.4v2.2h-20.4zM217.5 128.4h4.3v2.2h-4.3zM241.8 128.4h10.3v2.2h-10.3zM253.9 128.4h8.3v2.2h-8.3zM217.5 130.4h4.3v2.2h-4.3zM241.8 130.4h8.3v2.2h-8.3zM253.9 130.4h8.3v2.2h-8.3zM241.8 132.4h12.4v2.2h-12.4zM241.8 134.4h12.4v2.2h-12.4zM221.6 164.2h12.4v2.2h-12.4zM221.6 166.2h12.4v2.2h-12.4zM221.6 168.2h4.3v2.2h-4.3zM229.6 168.2h4.3v2.2h-4.3zM221.6 170.2h4.3v2.2h-4.3zM229.6 170.2h4.3v2.2h-4.3z"/>
<path fill="#fcad62" d="M306.4 32.8h4.3v2.2h-4.3zM306.4 34.8h4.3v2.2h-4.3zM298.3 36.8h16.4v2.2h-16.4zM298.3 38.8h16.4v2.2h-16.4zM298.3 40.8h16.4v2.2h-16.4zM298.3 42.7h16.4v2.2h-16.4zM294.2 44.7h20.4v2.2h-20.4zM294.2 46.7h20.4v2.2h-20.4zM298.3 48.7h4.3v2.2h-4.3zM304.3 48.7h10.3v2.2h-10.3zM298.3 50.7h4.3v2.2h-4.3zM306.4 50.7h8.3v2.2h-8.3zM302.3 52.7h12.4v2.2h-12.4zM302.3 54.7h12.4v2.2h-12.4zM302.3 56.7h16.4v2.2h-16.4zM302.3 58.7h16.4v2.2h-16.4zM302.3 60.7h16.4v2.2h-16.4zM302.3 62.7h16.4v2.2h-16.4zM225.6 64.6h4.3v2.2h-4.3zM257.9 64.6h8.3v2.2h-8.3zM306.4 64.6h8.3v2.2h-8.3zM225.6 66.6h4.3v2.2h-4.3zM257.9 66.6h8.3v2.2h-8.3zM306.4 66.6h8.3v2.2h-8.3zM193.3 68.6h32.5v2.2h-32.5zM257.9 68.6h8.3v2.2h-8.3zM278.1 68.6h2.3v2.2h-2.3zM193.3 70.6h32.5v2.2h-32.5zM257.9 70.6h8.3v2.2h-8.3zM278.1 70.6h4.3v2.2h-4.3zM205.4 72.6h16.4v2.2h-16.4zM225.6 72.6h4.3v2.2h-4.3zM241.8 72.6h12.4v2.2h-12.4zM205.4 74.6h16.4v2.2h-16.4zM225.6 74.6h4.3v2.2h-4.3zM241.8 74.6h12.4v2.2h-12.4zM225.6 76.6h4.3v2.2h-4.3zM245.8 76.6h8.3v2.2h-8.3zM266.0 76.6h4.3v2.2h-4.3zM225.6 78.6h4.3v2.2h-4.3zM245.8 78.6h8.3v2.2h-8.3zM266.0 78.6h4.3v2.2h-4.3zM245.8 80.6h4.3v2.2h-4.3zM253.9 80.6h4.3v2.2h-4.3zM266.0 80.6h4.3v2.2h-4.3zM245.8 82.6h4.3v2.2h-4.3zM253.9 82.6h4.3v2.2h-4.3zM266.0 82.6h4.3v2.2h-4.3zM225.6 84.6h4.3v2.2h-4.3zM253.9 84.6h4.3v2.2h-4.3zM266.0 84.6h4.3v2.2h-4.3zM225.6 86.6h4.3v2.2h-4.3zM253.9 86.6h4.3v2.2h-4.3zM266.0 86.6h4.3v2.2h-4.3zM241.8 88.5h4.3v2.2h-4.3zM261.9 88.5h4.3v2.2h-4.3zM241.8 90.5h4.3v2.2h-4.3zM261.9 90.5h4.3v2.2h-4.3zM221.6 92.5h4.3v2.2h-4.3zM233.7 92.5h4.3v2.2h-4.3zM221.6 94.5h4.3v2.2h-4.3zM233.7 94.5h4.3v2.2h-4.3zM221.6 96.5h4.3v2.2h-4.3zM229.6 96.5h4.3v2.2h-4.3zM221.6 98.5h4.3v2.2h-4.3zM229.6 98.5h4.3v2.2h-4.3zM233.7 100.5h8.3v2.2h-8.3zM233.7 102.5h8.3v2.2h-8.3zM193.3 104.5h4.3v2.2h-4.3zM237.7 104.5h4.3v2.2h-4.3zM193.3 106.5h4.3v2.2h-4.3zM237.7 106.5h4.3v2.2h-4.3zM193.3 108.5h4.3v2.2h-4.3zM241.8 108.5h4.3v2.2h-4.3zM193.3 110.5h4.3v2.2h-4.3zM241.8 110.5h4.3v2.2h-4.3zM193.3 112.4h4.3v2.2h-4.3zM205.4 112.4h8.3v2.2h-8.3zM245.8 112.4h12.4v2.2h-12.4zM193.3 114.4h4.3v2.2h-4.3zM205.4 114.4h8.3v2.2h-8.3zM245.8 114.4h12.4v2.2h-12.4zM209.5 116.4h4.3v2.2h-4.3zM257.9 116.4h8.3v2.2h-8.3zM209.5 118.4h4.3v2.2h-4.3zM257.9 118.4h8.3v2.2h-8.3zM261.9 120.4h4.3v2.2h-4.3zM261.9 122.4h4.3v2.2h-4.3zM213.5 124.4h4.3v2.2h-4.3zM261.9 124.4h4.3v2.2h-4.3zM213.5 126.4h4.3v2.2h-4.3zM261.9 126.4h4.3v2.2h-4.3zM221.6 128.4h8.3v2.2h-8.3zM237.7 128.4h4.3v2.2h-4.3zM261.9 128.4h4.3v2.2h-4.3zM221.6 130.4h8.3v2.2h-8.3zM237.7 130.4h4.3v2.2h-4.3zM261.9 130.4h4.3v2.2h-4.3zM217.5 132.4h8.3v2.2h-8.3zM233.7 132.4h8.3v2.2h-8.3zM253.9 132.4h12.4v2.2h-12.4zM217.5 134.4h8.3v2.2h-8.3zM233.7 134.4h8.3v2.2h-8.3zM253.9 134.4h12.4v2.2h-12.4zM241.8 136.3h20.4v2.2h-20.4zM241.8 138.3h20.4v2.2h-20.4zM217.5 144.3h8.3v2.2h-8.3zM217.5 146.3h8.3v2.2h-8.3zM217.5 148.3h4.3v2.2h-4.3zM217.5 150.3h4.3v2.2h-4.3zM201.4 160.2h8.3v2.2h-8.3zM201.4 162.2h8.3v2.2h-8.3zM205.4 164.2h4.3v2.2h-4.3zM205.4 166.2h4.3v2.2h-4.3z"/>
<path fill="#fdfcb6" d="M294.2 36.8h4.3v2.2h-4.3zM294.2 38.8h4.3v2.2h-4.3zM294.2 40.8h4.3v2.2h-4.3zM294.2 42.7h4.3v2.2h-4.3zM197.3 44.7h8.3v2.2h-8.3zM278.1 44.7h16.4v2.2h-16.4zM314.4 44.7h4.3v2.2h-4.3zM197.3 46.7h8.3v2.2h-8.3zM278.1 46.7h16.4v2.2h-16.4zM314.4 46.7h4.3v2.2h-4.3zM197.3 48.7h12.4v2.2h-12.4zM282.1 48.7h16.4v2.2h-16.4zM314.4 48.7h8.3v2.2h-8.3zM197.3 50.7h12.4v2.2h-12.4zM282.1 50.7h16.4v2.2h-16.4zM314.4 50.7h8.3v2.2h-8.3zM249.8 52.7h4.3v2.2h-4.3zM286.2 52.7h16.4v2.2h-16.4zM314.4 52.7h8.3v2.2h-8.3zM249.8 54.7h4.3v2.2h-4.3zM286.2 54.7h16.4v2.2h-16.4zM314.4 54.7h8.3v2.2h-8.3zM217.5 56.7h8.3v2.2h-8.3zM229.6 56.7h8.3v2.2h-8.3zM245.8 56.7h8.3v2.2h-8.3zM290.2 56.7h12.4v2.2h-12.4zM318.5 56.7h4.3v2.2h-4.3zM217.5 58.7h8.3v2.2h-8.3zM229.6 58.7h8.3v2.2h-8.3zM245.8 58.7h8.3v2.2h-8.3zM290.2 58.7h12.4v2.2h-12.4zM318.5 58.7h4.3v2.2h-4.3zM213.5 60.7h8.3v2.2h-8.3zM290.2 60.7h12.4v2.2h-12.4zM318.5 60.7h4.3v2.2h-4.3zM213.5 62.7h8.3v2.2h-8.3zM290.2 62.7h12.4v2.2h-12.4zM318.5 62.7h4.3v2.2h-4.3zM201.4 64.6h12.4v2.2h-12.4zM266.0 64.6h40.6v2.2h-40.6zM314.4 64.6h8.3v2.2h-8.3zM201.4 66.6h12.4v2.2h-12.4zM266.0 66.6h40.6v2.2h-40.6zM314.4 66.6h8.3v2.2h-8.3zM225.6 68.6h4.3v2.2h-4.3zM266.0 68.6h12.4v2.2h-12.4zM280.1 68.6h6.3v2.2h-6.3zM302.3 68.6h20.4v2.2h-20.4zM225.6 70.6h4.3v2.2h-4.3zM266.0 70.6h12.4v2.2h-12.4zM282.1 70.6h4.3v2.2h-4.3zM302.3 70.6h20.4v2.2h-20.4zM266.0 72.6h4.3v2.2h-4.3zM278.1 72.6h8.3v2.2h-8.3zM306.4 72.6h16.4v2.2h-16.4zM266.0 74.6h4.3v2.2h-4.3zM278.1 74.6h8.3v2.2h-8.3zM306.4 74.6h16.4v2.2h-16.4zM278.1 76.6h12.4v2.2h-12.4zM306.4 76.6h8.3v2.2h-8.3zM278.1 78.6h12.4v2.2h-12.4zM306.4 78.6h8.3v2.2h-8.3zM225.6 80.6h4.3v2.2h-4.3zM249.8 80.6h4.3v2.2h-4.3zM270.0 80.6h16.4v2.2h-16.4zM290.2 80.6h4.3v2.2h-4.3zM225.6 82.6h4.3v2.2h-4.3zM249.8 82.6h4.3v2.2h-4.3zM270.0 82.6h16.4v2.2h-16.4zM290.2 82.6h4.3v2.2h-4.3zM245.8 84.6h4.3v2.2h-4.3zM270.0 84.6h8.3v2.2h-8.3zM282.1 84.6h8.3v2.2h-8.3zM245.8 86.6h4.3v2.2h-4.3zM270.0 86.6h8.3v2.2h-8.3zM282.1 86.6h8.3v2.2h-8.3zM253.9 88.5h4.3v2.2h-4.3zM266.0 88.5h4.3v2.2h-4.3zM310.4 88.5h4.3v2.2h-4.3zM253.9 90.5h4.3v2.2h-4.3zM266.0 90.5h4.3v2.2h-4.3zM310.4 90.5h4.3v2.2h-4.3zM225.6 92.5h4.3v2.2h-4.3zM237.7 92.5h4.3v2.2h-4.3zM253.9 92.5h4.3v2.2h-4.3zM314.4 92.5h4.3v2.2h-4.3zM225.6 94.5h4.3v2.2h-4.3zM237.7 94.5h4.3v2.2h-4.3zM253.9 94.5h4.3v2.2h-4.3zM314.4 94.5h4.3v2.2h-4.3zM225.6 96.5h4.3v2.2h-4.3zM233.7 96.5h4.3v2.2h-4.3zM253.9 96.5h4.3v2.2h-4.3zM225.6 98.5h4.3v2.2h-4.3zM233.7 98.5h4.3v2.2h-4.3zM253.9 98.5h4.3v2.2h-4.3zM249.8 100.5h4.3v2.2h-4.3zM257.9 100.5h12.4v2.2h-12.4zM318.5 100.5h4.3v2.2h-4.3zM249.8 102.5h4.3v2.2h-4.3zM257.9 102.5h12.4v2.2h-12.4zM318.5 102.5h4.3v2.2h-4.3zM241.8 104.5h16.4v2.2h-16.4zM261.9 104.5h8.3v2.2h-8.3zM306.4 104.5h16.4v2.2h-16.4zM241.8 106.5h16.4v2.2h-16.4zM259.9 106.5h10.3v2.2h-10.3zM306.4 106.5h16.4v2.2h-16.4zM197.3 108.5h4.3v2.2h-4.3zM245.8 108.5h24.5v2.2h-24.5zM306.4 108.5h16.4v2.2h-16.4zM197.3 110.5h4.3v2.2h-4.3zM245.8 110.5h24.5v2.2h-24.5zM306.4 110.5h16.4v2.2h-16.4zM257.9 112.4h16.4v2.2h-16.4zM318.5 112.4h4.3v2.2h-4.3zM257.9 114.4h16.4v2.2h-16.4zM318.5 114.4h4.3v2.2h-4.3zM193.3 116.4h4.3v2.2h-4.3zM266.0 116.4h12.4v2.2h-12.4zM193.3 118.4h4.3v2.2h-4.3zM266.0 118.4h12.4v2.2h-12.4zM229.6 120.4h8.3v2.2h-8.3zM266.0 120.4h12.4v2.2h-12.4zM286.2 120.4h8.3v2.2h-8.3zM229.6 122.4h8.3v2.2h-8.3zM266.0 122.4h12.4v2.2h-12.4zM286.2 122.4h8.3v2.2h-8.3zM193.3 124.4h4.3v2.2h-4.3zM225.6 124.4h4.3v2.2h-4.3zM233.7 124.4h8.3v2.2h-8.3zM266.0 124.4h16.4v2.2h-16.4zM290.2 124.4h8.3v2.2h-8.3zM193.3 126.4h4.3v2.2h-4.3zM225.6 126.4h4.3v2.2h-4.3zM233.7 126.4h8.3v2.2h-8.3zM266.0 126.4h16.4v2.2h-16.4zM290.2 126.4h8.3v2.2h-8.3zM205.4 128.4h12.4v2.2h-12.4zM229.6 128.4h8.3v2.2h-8.3zM266.0 128.4h32.5v2.2h-32.5zM205.4 130.4h12.4v2.2h-12.4zM229.6 130.4h8.3v2.2h-8.3zM266.0 130.4h32.5v2.2h-32.5zM205.4 132.4h12.4v2.2h-12.4zM225.6 132.4h8.3v2.2h-8.3zM266.0 132.4h16.4v2.2h-16.4zM290.2 132.4h8.3v2.2h-8.3zM205.4 134.4h12.4v2.2h-12.4zM225.6 134.4h8.3v2.2h-8.3zM266.0 134.4h16.4v2.2h-16.4zM290.2 134.4h8.3v2.2h-8.3zM209.5 136.3h4.3v2.2h-4.3zM217.5 136.3h8.3v2.2h-8.3zM261.9 136.3h8.3v2.2h-8.3zM209.5 138.3h4.3v2.2h-4.3zM217.5 138.3h8.3v2.2h-8.3zM261.9 138.3h8.3v2.2h-8.3zM201.4 140.3h8.3v2.2h-8.3zM217.5 140.3h8.3v2.2h-8.3zM249.8 140.3h16.4v2.2h-16.4zM306.4 140.3h8.3v2.2h-8.3zM201.4 142.3h8.3v2.2h-8.3zM217.5 142.3h8.3v2.2h-8.3zM249.8 142.3h16.4v2.2h-16.4zM306.4 142.3h8.3v2.2h-8.3zM197.3 144.3h12.4v2.2h-12.4zM213.5 144.3h4.3v2.2h-4.3zM253.9 144.3h12.4v2.2h-12.4zM306.4 144.3h8.3v2.2h-8.3zM197.3 146.3h12.4v2.2h-12.4zM213.5 146.3h4.3v2.2h-4.3zM253.9 146.3h12.4v2.2h-12.4zM306.4 146.3h8.3v2.2h-8.3zM197.3 148.3h12.4v2.2h-12.4zM213.5 148.3h4.3v2.2h-4.3zM221.6 148.3h4.3v2.2h-4.3zM257.9 148.3h12.4v2.2h-12.4zM302.3 148.3h20.4v2.2h-20.4zM197.3 150.3h12.4v2.2h-12.4zM213.5 150.3h4.3v2.2h-4.3zM221.6 150.3h4.3v2.2h-4.3zM257.9 150.3h12.4v2.2h-12.4zM302.3 150.3h20.4v2.2h-20.4zM201.4 152.3h12.4v2.2h-12.4zM217.5 152.3h8.3v2.2h-8.3zM257.9 152.3h16.4v2.2h-16.4zM302.3 152.3h20.4v2.2h-20.4zM201.4 154.3h12.4v2.2h-12.4zM217.5 154.3h8.3v2.2h-8.3zM257.9 154.3h16.4v2.2h-16.4zM302.3 154.3h20.4v2.2h-20.4zM201.4 156.3h28.5v2.2h-28.5zM253.9 156.3h20.4v2.2h-20.4zM306.4 156.3h16.4v2.2h-16.4zM201.4 158.3h28.5v2.2h-28.5zM253.9 158.3h20.4v2.2h-20.4zM306.4 158.3h16.4v2.2h-16.4zM193.3 160.2h8.3v2.2h-8.3zM209.5 160.2h24.5v2.2h-24.5zM249.8 160.2h20.4v2.2h-20.4zM306.4 160.2h16.4v2.2h-16.4zM193.3 162.2h8.3v2.2h-8.3zM209.5 162.2h24.5v2.2h-24.5zM249.8 162.2h20.4v2.2h-20.4zM306.4 162.2h16.4v2.2h-16.4zM193.3 164.2h12.4v2.2h-12.4zM209.5 164.2h12.4v2.2h-12.4zM233.7 164.2h8.3v2.2h-8.3zM249.8 164.2h16.4v2.2h-16.4zM294.2 164.2h4.3v2.2h-4.3zM306.4 164.2h16.4v2.2h-16.4zM193.3 166.2h12.4v2.2h-12.4zM209.5 166.2h12.4v2.2h-12.4zM233.7 166.2h8.3v2.2h-8.3zM249.8 166.2h16.4v2.2h-16.4zM294.2 166.2h4.3v2.2h-4.3zM306.4 166.2h16.4v2.2h-16.4zM193.3 168.2h28.5v2.2h-28.5zM233.7 168.2h32.5v2.2h-32.5zM294.2 168.2h4.3v2.2h-4.3zM306.4 168.2h16.4v2.2h-16.4zM193.3 170.2h28.5v2.2h-28.5zM233.7 170.2h32.5v2.2h-32.5zM294.2 170.2h4.3v2.2h-4.3zM306.4 170.2h16.4v2.2h-16.4z"/>
<path fill="#3ea4ac" d="M213.5 28.8h40.6v2.2h-40.6zM257.9 28.8h4.3v2.2h-4.3zM266.0 28.8h4.3v2.2h-4.3zM278.1 28.8h24.5v2.2h-24.5zM318.5 28.8h4.3v2.2h-4.3zM213.5 30.8h40.6v2.2h-40.6zM257.9 30.8h4.3v2.2h-4.3zM266.0 30.8h4.3v2.2h-4.3zM278.1 30.8h24.5v2.2h-24.5zM318.5 30.8h4.3v2.2h-4.3zM197.3 32.8h8.3v2.2h-8.3zM213.5 32.8h8.3v2.2h-8.3zM229.6 32.8h24.5v2.2h-24.5zM278.1 32.8h24.5v2.2h-24.5zM318.5 32.8h4.3v2.2h-4.3zM197.3 34.8h8.3v2.2h-8.3zM213.5 34.8h8.3v2.2h-8.3zM229.6 34.8h24.5v2.2h-24.5zM278.1 34.8h24.5v2.2h-24.5zM318.5 34.8h4.3v2.2h-4.3zM193.3 36.8h4.3v2.2h-4.3zM201.4 36.8h20.4v2.2h-20.4zM229.6 36.8h8.3v2.2h-8.3zM249.8 36.8h4.3v2.2h-4.3zM257.9 36.8h8.3v2.2h-8.3zM278.1 36.8h16.4v2.2h-16.4zM318.5 36.8h4.3v2.2h-4.3zM193.3 38.8h4.3v2.2h-4.3zM201.4 38.8h20.4v2.2h-20.4zM229.6 38.8h8.3v2.2h-8.3zM249.8 38.8h4.3v2.2h-4.3zM257.9 38.8h8.3v2.2h-8.3zM278.1 38.8h16.4v2.2h-16.4zM318.5 38.8h4.3v2.2h-4.3zM201.4 40.8h24.5v2.2h-24.5zM229.6 40.8h4.3v2.2h-4.3zM245.8 40.8h8.3v2.2h-8.3zM261.9 40.8h4.3v2.2h-4.3zM278.1 40.8h12.4v2.2h-12.4zM318.5 40.8h4.3v2.2h-4.3zM201.4 42.7h24.5v2.2h-24.5zM229.6 42.7h4.3v2.2h-4.3zM245.8 42.7h8.3v2.2h-8.3zM261.9 42.7h4.3v2.2h-4.3zM278.1 42.7h12.4v2.2h-12.4zM318.5 42.7h4.3v2.2h-4.3zM209.5 44.7h16.4v2.2h-16.4zM241.8 44.7h36.6v2.2h-36.6zM318.5 44.7h4.3v2.2h-4.3zM209.5 46.7h16.4v2.2h-16.4zM241.8 46.7h36.6v2.2h-36.6zM318.5 46.7h4.3v2.2h-4.3zM213.5 48.7h12.4v2.2h-12.4zM233.7 48.7h24.5v2.2h-24.5zM261.9 48.7h20.4v2.2h-20.4zM213.5 50.7h12.4v2.2h-12.4zM233.7 50.7h24.5v2.2h-24.5zM261.9 50.7h20.4v2.2h-20.4zM193.3 52.7h4.3v2.2h-4.3zM209.5 52.7h8.3v2.2h-8.3zM237.7 52.7h8.3v2.2h-8.3zM257.9 52.7h4.3v2.2h-4.3zM274.1 52.7h12.4v2.2h-12.4zM193.3 54.7h4.3v2.2h-4.3zM209.5 54.7h8.3v2.2h-8.3zM237.7 54.7h8.3v2.2h-8.3zM257.9 54.7h4.3v2.2h-4.3zM274.1 54.7h12.4v2.2h-12.4zM193.3 56.7h8.3v2.2h-8.3zM209.5 56.7h4.3v2.2h-4.3zM257.9 56.7h8.3v2.2h-8.3zM282.1 56.7h8.3v2.2h-8.3zM193.3 58.7h8.3v2.2h-8.3zM209.5 58.7h4.3v2.2h-4.3zM257.9 58.7h8.3v2.2h-8.3zM282.1 58.7h8.3v2.2h-8.3zM193.3 60.7h12.4v2.2h-12.4zM253.9 60.7h4.3v2.2h-4.3zM278.1 60.7h4.3v2.2h-4.3zM193.3 62.7h12.4v2.2h-12.4zM253.9 62.7h4.3v2.2h-4.3zM278.1 62.7h4.3v2.2h-4.3zM197.3 64.6h4.3v2.2h-4.3zM233.7 64.6h16.4v2.2h-16.4zM197.3 66.6h4.3v2.2h-4.3zM233.7 66.6h16.4v2.2h-16.4zM229.6 68.6h4.3v2.2h-4.3zM245.8 68.6h8.3v2.2h-8.3zM290.2 68.6h12.4v2.2h-12.4zM229.6 70.6h4.3v2.2h-4.3zM245.8 70.6h8.3v2.2h-8.3zM290.2 70.6h12.4v2.2h-12.4zM229.6 72.6h4.3v2.2h-4.3zM237.7 72.6h4.3v2.2h-4.3zM290.2 72.6h8.3v2.2h-8.3zM302.3 72.6h4.3v2.2h-4.3zM229.6 74.6h4.3v2.2h-4.3zM237.7 74.6h4.3v2.2h-4.3zM290.2 74.6h10.3v2.2h-10.3zM302.3 74.6h4.3v2.2h-4.3zM290.2 76.6h16.4v2.2h-16.4zM290.2 78.6h16.4v2.2h-16.4zM294.2 80.6h12.4v2.2h-12.4zM294.2 82.6h12.4v2.2h-12.4zM294.2 84.6h12.4v2.2h-12.4zM294.2 86.6h12.4v2.2h-12.4zM298.3 88.5h8.3v2.2h-8.3zM298.3 90.5h8.3v2.2h-8.3zM270.0 92.5h8.3v2.2h-8.3zM270.0 94.5h8.3v2.2h-8.3zM270.0 96.5h4.3v2.2h-4.3zM270.0 98.5h4.3v2.2h-4.3zM241.8 100.5h8.3v2.2h-8.3zM253.9 100.5h4.3v2.2h-4.3zM302.3 100.5h4.3v2.2h-4.3zM241.8 102.5h8.3v2.2h-8.3zM253.9 102.5h4.3v2.2h-4.3zM302.3 102.5h4.3v2.2h-4.3zM257.9 104.5h4.3v2.2h-4.3zM290.2 104.5h8.3v2.2h-8.3zM257.9 106.5h2.3v2.2h-2.3zM290.2 106.5h8.3v2.2h-8.3zM290.2 108.5h4.3v2.2h-4.3zM290.2 110.5h4.3v2.2h-4.3zM318.5 124.4h4.3v2.2h-4.3zM318.5 126.4h4.3v2.2h-4.3zM306.4 128.4h12.4v2.2h-12.4zM306.4 130.4h12.4v2.2h-12.4zM193.3 132.4h8.3v2.2h-8.3zM302.3 132.4h8.3v2.2h-8.3zM193.3 134.4h8.3v2.2h-8.3zM302.3 134.4h8.3v2.2h-8.3zM193.3 136.3h8.3v2.2h-8.3zM233.7 136.3h4.3v2.2h-4.3zM193.3 138.3h8.3v2.2h-8.3zM233.7 138.3h4.3v2.2h-4.3zM229.6 140.3h12.4v2.2h-12.4zM278.1 140.3h4.3v2.2h-4.3zM294.2 140.3h8.3v2.2h-8.3zM229.6 142.3h12.4v2.2h-12.4zM278.1 142.3h4.3v2.2h-4.3zM294.2 142.3h8.3v2.2h-8.3zM229.6 144.3h6.3v2.2h-6.3zM237.7 144.3h4.3v2.2h-4.3zM278.1 144.3h8.3v2.2h-8.3zM294.2 144.3h4.3v2.2h-4.3zM229.6 146.3h4.3v2.2h-4.3zM237.7 146.3h4.3v2.2h-4.3zM278.1 146.3h8.3v2.2h-8.3zM294.2 146.3h4.3v2.2h-4.3zM229.6 148.3h8.3v2.2h-8.3zM245.8 148.3h4.3v2.2h-4.3zM229.6 150.3h8.3v2.2h-8.3zM245.8 150.3h4.3v2.2h-4.3zM229.6 152.3h8.3v2.2h-8.3zM245.8 152.3h4.3v2.2h-4.3zM290.2 152.3h12.4v2.2h-12.4zM229.6 154.3h8.3v2.2h-8.3zM245.8 154.3h4.3v2.2h-4.3zM290.2 154.3h12.4v2.2h-12.4zM290.2 156.3h8.3v2.2h-8.3zM290.2 158.3h8.3v2.2h-8.3zM286.2 160.2h8.3v2.2h-8.3zM286.2 162.2h8.3v2.2h-8.3zM286.2 164.2h4.3v2.2h-4.3zM286.2 166.2h4.3v2.2h-4.3z"/>
<path fill="#5b4ca2" d="M253.9 28.8h4.3v2.2h-4.3zM261.9 28.8h4.3v2.2h-4.3zM270.0 28.8h8.3v2.2h-8.3zM253.9 30.8h4.3v2.2h-4.3zM261.9 30.8h4.3v2.2h-4.3zM270.0 30.8h8.3v2.2h-8.3zM253.9 32.8h24.5v2.2h-24.5zM253.9 34.8h24.5v2.2h-24.5zM237.7 36.8h12.4v2.2h-12.4zM266.0 36.8h12.4v2.2h-12.4zM237.7 38.8h12.4v2.2h-12.4zM266.0 38.8h12.4v2.2h-12.4zM233.7 40.8h12.4v2.2h-12.4zM266.0 40.8h12.4v2.2h-12.4zM233.7 42.7h12.4v2.2h-12.4zM266.0 42.7h12.4v2.2h-12.4zM233.7 44.7h8.3v2.2h-8.3zM233.7 46.7h8.3v2.2h-8.3zM257.9 48.7h4.3v2.2h-4.3zM257.9 50.7h4.3v2.2h-4.3zM261.9 52.7h12.4v2.2h-12.4zM261.9 54.7h12.4v2.2h-12.4zM266.0 56.7h16.4v2.2h-16.4zM266.0 58.7h16.4v2.2h-16.4zM282.1 60.7h8.3v2.2h-8.3zM282.1 62.7h8.3v2.2h-8.3zM233.7 68.6h12.4v2.2h-12.4zM233.7 70.6h12.4v2.2h-12.4zM233.7 72.6h4.3v2.2h-4.3zM298.3 72.6h4.3v2.2h-4.3zM233.7 74.6h4.3v2.2h-4.3zM300.3 74.6h2.3v2.2h-2.3zM298.3 92.5h16.4v2.2h-16.4zM298.3 94.5h16.4v2.2h-16.4zM298.3 96.5h20.4v2.2h-20.4zM298.3 98.5h20.4v2.2h-20.4zM306.4 100.5h12.4v2.2h-12.4zM306.4 102.5h12.4v2.2h-12.4zM235.7 144.3h2.3v2.2h-2.3zM233.7 146.3h4.3v2.2h-4.3zM282.1 168.2h8.3v2.2h-8.3zM282.1 170.2h8.3v2.2h-8.3z"/>
</g></g>
<rect x="193.30" y="28.80" width="129.20" height="143.40" fill="none" stroke="#1c1c1c" stroke-width="1.4"/>
<path d="M214.3 26.2V28.8 M255.9 26.2V28.8 M297.8 26.2V28.8 M218.9 172.2V175.2 M261.3 172.2V175.2 M303.0 172.2V175.2 M190.5 52.0H193.3 M190.5 104.0H193.3 M190.5 158.9H193.3 M322.5 46.3H325.3 M322.5 97.7H325.3 M322.5 153.0H325.3" stroke="#1c1c1c" stroke-width="1" fill="none"/>
<text x="214.2" y="23.9" font-size="8.5" text-anchor="middle">114°15'0&quot;E</text>
<text x="298.9" y="23.9" font-size="8.5" text-anchor="middle">114°35'0&quot;E</text>
<text x="220.8" y="183.7" font-size="8.5" text-anchor="middle">114°15'0&quot;E</text>
<text x="306.9" y="183.7" font-size="8.5" text-anchor="middle">114°35'0&quot;E</text>
<text x="0" y="0" font-size="8.5" text-anchor="middle" transform="translate(188.3,51.7) rotate(-90)">30°45'0&quot;N</text>
<text x="0" y="0" font-size="8.5" text-anchor="middle" transform="translate(188.3,104.0) rotate(-90)">30°35'0&quot;N</text>
<text x="0" y="0" font-size="8.5" text-anchor="middle" transform="translate(188.3,153.0) rotate(-90)">30°25'0&quot;N</text>
<text x="0" y="0" font-size="8.5" text-anchor="middle" transform="translate(333.7,42.1) rotate(-90)">30°45'0&quot;N</text>
<text x="0" y="0" font-size="8.5" text-anchor="middle" transform="translate(333.7,95.0) rotate(-90)">30°35'0&quot;N</text>
<text x="0" y="0" font-size="8.5" text-anchor="middle" transform="translate(333.7,149.3) rotate(-90)">30°25'0&quot;N</text>
<text x="255.6" y="15.4" font-size="11.5" text-anchor="middle">(b)</text>
<clipPath id="cpc"><rect x="367.30" y="27.30" width="129.30" height="142.90"/></clipPath>
<g clip-path="url(#cpc)"><g filter="url(#bl)">
<rect x="365.30" y="25.30" width="133.30" height="146.90" fill="#afdb9a"/>
<path fill="#9e0142" d="M371.3 74.9h16.4v2.2h-16.4zM427.9 74.9h12.4v2.2h-12.4zM371.3 76.9h16.4v2.2h-16.4zM427.9 76.9h12.4v2.2h-12.4zM367.3 78.9h24.5v2.2h-24.5zM423.9 78.9h16.4v2.2h-16.4zM367.3 80.9h24.5v2.2h-24.5zM423.9 80.9h16.4v2.2h-16.4zM367.3 82.9h24.5v2.2h-24.5zM403.7 82.9h4.3v2.2h-4.3zM427.9 82.9h12.4v2.2h-12.4zM367.3 84.9h24.5v2.2h-24.5zM403.7 84.9h4.3v2.2h-4.3zM427.9 84.9h12.4v2.2h-12.4zM367.3 86.8h28.5v2.2h-28.5zM403.7 86.8h8.3v2.2h-8.3zM432.0 86.8h4.3v2.2h-4.3zM367.3 88.8h28.5v2.2h-28.5zM403.7 88.8h8.3v2.2h-8.3zM432.0 88.8h4.3v2.2h-4.3zM367.3 90.8h24.5v2.2h-24.5zM367.3 92.8h24.5v2.2h-24.5zM367.3 94.8h24.5v2.2h-24.5zM367.3 96.8h24.5v2.2h-24.5zM367.3 98.7h8.3v2.2h-8.3zM395.6 98.7h12.4v2.2h-12.4zM367.3 100.7h8.3v2.2h-8.3zM395.6 100.7h12.4v2.2h-12.4zM391.5 102.7h20.5v2.2h-20.5zM391.5 104.7h20.5v2.2h-20.5zM391.5 106.7h20.5v2.2h-20.5zM391.5 108.7h20.5v2.2h-20.5zM391.5 110.7h16.4v2.2h-16.4zM419.8 110.7h16.4v2.2h-16.4zM391.5 112.6h16.4v2.2h-16.4zM419.8 112.6h16.4v2.2h-16.4zM395.6 114.6h8.3v2.2h-8.3zM415.8 114.6h20.5v2.2h-20.5zM395.6 116.6h8.3v2.2h-8.3zM415.8 116.6h20.5v2.2h-20.5zM419.8 118.6h12.4v2.2h-12.4zM419.8 120.6h12.4v2.2h-12.4zM419.8 122.6h12.4v2.2h-12.4zM419.8 124.6h12.4v2.2h-12.4zM423.9 126.5h4.3v2.2h-4.3zM423.9 128.5h4.3v2.2h-4.3z"/>
<path fill="#e95b3d" d="M432.0 67.0h4.3v2.2h-4.3zM432.0 69.0h4.3v2.2h-4.3zM367.3 71.0h8.3v2.2h-8.3zM391.5 71.0h8.3v2.2h-8.3zM423.9 71.0h16.4v2.2h-16.4zM367.3 72.9h8.3v2.2h-8.3zM391.5 72.9h8.3v2.2h-8.3zM423.9 72.9h16.4v2.2h-16.4zM367.3 74.9h4.3v2.2h-4.3zM387.5 74.9h12.4v2.2h-12.4zM411.7 74.9h16.4v2.2h-16.4zM440.0 74.9h4.3v2.2h-4.3zM367.3 76.9h4.3v2.2h-4.3zM387.5 76.9h12.4v2.2h-12.4zM411.7 76.9h16.4v2.2h-16.4zM440.0 76.9h4.3v2.2h-4.3zM391.5 78.9h8.3v2.2h-8.3zM411.7 78.9h12.4v2.2h-12.4zM440.0 78.9h4.3v2.2h-4.3zM391.5 80.9h8.3v2.2h-8.3zM411.7 80.9h12.4v2.2h-12.4zM440.0 80.9h4.3v2.2h-4.3zM391.5 82.9h8.3v2.2h-8.3zM407.7 82.9h8.3v2.2h-8.3zM423.9 82.9h4.3v2.2h-4.3zM440.0 82.9h4.3v2.2h-4.3zM391.5 84.9h8.3v2.2h-8.3zM407.7 84.9h8.3v2.2h-8.3zM423.9 84.9h4.3v2.2h-4.3zM440.0 84.9h4.3v2.2h-4.3zM395.6 86.8h4.3v2.2h-4.3zM411.7 86.8h8.3v2.2h-8.3zM427.9 86.8h4.3v2.2h-4.3zM436.0 86.8h4.3v2.2h-4.3zM395.6 88.8h4.3v2.2h-4.3zM411.7 88.8h8.3v2.2h-8.3zM427.9 88.8h4.3v2.2h-4.3zM436.0 88.8h4.3v2.2h-4.3zM391.5 90.8h8.3v2.2h-8.3zM403.7 90.8h12.4v2.2h-12.4zM432.0 90.8h4.3v2.2h-4.3zM391.5 92.8h8.3v2.2h-8.3zM403.7 92.8h12.4v2.2h-12.4zM432.0 92.8h4.3v2.2h-4.3zM391.5 94.8h4.3v2.2h-4.3zM407.7 94.8h8.3v2.2h-8.3zM391.5 96.8h4.3v2.2h-4.3zM407.7 96.8h8.3v2.2h-8.3zM375.4 98.7h12.4v2.2h-12.4zM407.7 98.7h8.3v2.2h-8.3zM375.4 100.7h12.4v2.2h-12.4zM407.7 100.7h8.3v2.2h-8.3zM367.3 102.7h4.3v2.2h-4.3zM375.4 102.7h12.4v2.2h-12.4zM411.7 102.7h8.3v2.2h-8.3zM432.0 102.7h4.3v2.2h-4.3zM367.3 104.7h4.3v2.2h-4.3zM375.4 104.7h12.4v2.2h-12.4zM411.7 104.7h8.3v2.2h-8.3zM432.0 104.7h4.3v2.2h-4.3zM379.4 106.7h8.3v2.2h-8.3zM411.7 106.7h8.3v2.2h-8.3zM432.0 106.7h8.3v2.2h-8.3zM379.4 108.7h8.3v2.2h-8.3zM411.7 108.7h8.3v2.2h-8.3zM432.0 108.7h8.3v2.2h-8.3zM383.5 110.7h8.3v2.2h-8.3zM407.7 110.7h12.4v2.2h-12.4zM436.0 110.7h4.3v2.2h-4.3zM383.5 112.6h8.3v2.2h-8.3zM407.7 112.6h12.4v2.2h-12.4zM436.0 112.6h4.3v2.2h-4.3zM387.5 114.6h8.3v2.2h-8.3zM403.7 114.6h8.3v2.2h-8.3zM436.0 114.6h4.3v2.2h-4.3zM387.5 116.6h8.3v2.2h-8.3zM403.7 116.6h8.3v2.2h-8.3zM436.0 116.6h4.3v2.2h-4.3zM387.5 118.6h20.5v2.2h-20.5zM415.8 118.6h4.3v2.2h-4.3zM432.0 118.6h8.3v2.2h-8.3zM387.5 120.6h20.5v2.2h-20.5zM415.8 120.6h4.3v2.2h-4.3zM432.0 120.6h8.3v2.2h-8.3zM387.5 122.6h12.4v2.2h-12.4zM403.7 122.6h4.3v2.2h-4.3zM415.8 122.6h4.3v2.2h-4.3zM432.0 122.6h4.3v2.2h-4.3zM387.5 124.6h12.4v2.2h-12.4zM403.7 124.6h4.3v2.2h-4.3zM415.8 124.6h4.3v2.2h-4.3zM432.0 124.6h4.3v2.2h-4.3zM411.7 126.5h12.4v2.2h-12.4zM427.9 126.5h16.4v2.2h-16.4zM411.7 128.5h12.4v2.2h-12.4zM427.9 128.5h16.4v2.2h-16.4zM415.8 130.5h28.5v2.2h-28.5zM415.8 132.5h28.5v2.2h-28.5zM423.9 134.5h4.3v2.2h-4.3zM432.0 134.5h12.4v2.2h-12.4zM423.9 136.5h4.3v2.2h-4.3zM432.0 136.5h12.4v2.2h-12.4zM432.0 138.4h8.3v2.2h-8.3zM432.0 140.4h8.3v2.2h-8.3zM432.0 142.4h8.3v2.2h-8.3zM432.0 144.4h8.3v2.2h-8.3zM395.6 166.2h8.3v2.2h-8.3zM395.6 168.2h8.3v2.2h-8.3z"/>
<path fill="#fcad62" d="M464.3 43.2h12.4v2.2h-12.4zM464.3 45.2h12.4v2.2h-12.4zM464.3 47.1h12.4v2.2h-12.4zM464.3 49.1h12.4v2.2h-12.4zM375.4 63.0h20.5v2.2h-20.5zM432.0 63.0h20.5v2.2h-20.5zM468.3 63.0h4.3v2.2h-4.3zM375.4 65.0h20.5v2.2h-20.5zM432.0 65.0h20.5v2.2h-20.5zM468.3 65.0h4.3v2.2h-4.3zM367.3 67.0h36.6v2.2h-36.6zM436.0 67.0h12.4v2.2h-12.4zM468.3 67.0h4.3v2.2h-4.3zM367.3 69.0h36.6v2.2h-36.6zM436.0 69.0h12.4v2.2h-12.4zM468.3 69.0h4.3v2.2h-4.3zM375.4 71.0h16.4v2.2h-16.4zM399.6 71.0h4.3v2.2h-4.3zM419.8 71.0h4.3v2.2h-4.3zM375.4 72.9h16.4v2.2h-16.4zM399.6 72.9h4.3v2.2h-4.3zM419.8 72.9h4.3v2.2h-4.3zM399.6 74.9h4.3v2.2h-4.3zM399.6 76.9h4.3v2.2h-4.3zM399.6 78.9h4.3v2.2h-4.3zM407.7 78.9h4.3v2.2h-4.3zM399.6 80.9h4.3v2.2h-4.3zM407.7 80.9h4.3v2.2h-4.3zM399.6 82.9h4.3v2.2h-4.3zM415.8 82.9h4.3v2.2h-4.3zM492.6 82.9h4.3v2.2h-4.3zM399.6 84.9h4.3v2.2h-4.3zM415.8 84.9h4.3v2.2h-4.3zM492.6 84.9h4.3v2.2h-4.3zM399.6 86.8h4.3v2.2h-4.3zM440.0 86.8h4.3v2.2h-4.3zM399.6 88.8h4.3v2.2h-4.3zM440.0 88.8h4.3v2.2h-4.3zM399.6 90.8h4.3v2.2h-4.3zM415.8 90.8h4.3v2.2h-4.3zM436.0 90.8h4.3v2.2h-4.3zM399.6 92.8h4.3v2.2h-4.3zM415.8 92.8h4.3v2.2h-4.3zM436.0 92.8h4.3v2.2h-4.3zM395.6 94.8h4.3v2.2h-4.3zM403.7 94.8h4.3v2.2h-4.3zM415.8 94.8h4.3v2.2h-4.3zM432.0 94.8h4.3v2.2h-4.3zM395.6 96.8h4.3v2.2h-4.3zM403.7 96.8h4.3v2.2h-4.3zM415.8 96.8h4.3v2.2h-4.3zM432.0 96.8h4.3v2.2h-4.3zM387.5 98.7h8.3v2.2h-8.3zM432.0 98.7h12.4v2.2h-12.4zM387.5 100.7h8.3v2.2h-8.3zM432.0 100.7h12.4v2.2h-12.4zM371.3 102.7h4.3v2.2h-4.3zM387.5 102.7h4.3v2.2h-4.3zM436.0 102.7h12.4v2.2h-12.4zM371.3 104.7h4.3v2.2h-4.3zM387.5 104.7h4.3v2.2h-4.3zM436.0 104.7h12.4v2.2h-12.4zM367.3 106.7h4.3v2.2h-4.3zM387.5 106.7h4.3v2.2h-4.3zM419.8 106.7h8.3v2.2h-8.3zM440.0 106.7h8.3v2.2h-8.3zM367.3 108.7h4.3v2.2h-4.3zM387.5 108.7h4.3v2.2h-4.3zM419.8 108.7h8.3v2.2h-8.3zM440.0 108.7h8.3v2.2h-8.3zM367.3 110.7h4.3v2.2h-4.3zM379.4 110.7h4.3v2.2h-4.3zM440.0 110.7h8.3v2.2h-8.3zM367.3 112.6h4.3v2.2h-4.3zM379.4 112.6h4.3v2.2h-4.3zM440.0 112.6h8.3v2.2h-8.3zM367.3 114.6h4.3v2.2h-4.3zM440.0 114.6h8.3v2.2h-8.3zM367.3 116.6h4.3v2.2h-4.3zM440.0 116.6h8.3v2.2h-8.3zM440.0 118.6h12.4v2.2h-12.4zM440.0 120.6h12.4v2.2h-12.4zM383.5 122.6h4.3v2.2h-4.3zM399.6 122.6h4.3v2.2h-4.3zM436.0 122.6h12.4v2.2h-12.4zM383.5 124.6h4.3v2.2h-4.3zM399.6 124.6h4.3v2.2h-4.3zM436.0 124.6h12.4v2.2h-12.4zM379.4 126.5h32.6v2.2h-32.6zM444.1 126.5h4.3v2.2h-4.3zM379.4 128.5h32.6v2.2h-32.6zM444.1 128.5h4.3v2.2h-4.3zM379.4 130.5h16.4v2.2h-16.4zM403.7 130.5h12.4v2.2h-12.4zM444.1 130.5h4.3v2.2h-4.3zM379.4 132.5h16.4v2.2h-16.4zM403.7 132.5h12.4v2.2h-12.4zM444.1 132.5h4.3v2.2h-4.3zM411.7 134.5h12.4v2.2h-12.4zM427.9 134.5h4.3v2.2h-4.3zM444.1 134.5h4.3v2.2h-4.3zM411.7 136.5h12.4v2.2h-12.4zM427.9 136.5h4.3v2.2h-4.3zM444.1 136.5h4.3v2.2h-4.3zM440.0 138.4h8.3v2.2h-8.3zM440.0 140.4h8.3v2.2h-8.3zM395.6 142.4h4.3v2.2h-4.3zM440.0 142.4h8.3v2.2h-8.3zM395.6 144.4h4.3v2.2h-4.3zM440.0 144.4h8.3v2.2h-8.3zM383.5 146.4h16.4v2.2h-16.4zM432.0 146.4h12.4v2.2h-12.4zM383.5 148.4h16.4v2.2h-16.4zM432.0 148.4h12.4v2.2h-12.4zM383.5 150.4h12.4v2.2h-12.4zM407.7 150.4h4.3v2.2h-4.3zM432.0 150.4h12.4v2.2h-12.4zM383.5 152.3h12.4v2.2h-12.4zM407.7 152.3h4.3v2.2h-4.3zM432.0 152.3h12.4v2.2h-12.4zM379.4 154.3h12.4v2.2h-12.4zM403.7 154.3h8.3v2.2h-8.3zM436.0 154.3h8.3v2.2h-8.3zM379.4 156.3h12.4v2.2h-12.4zM403.7 156.3h8.3v2.2h-8.3zM436.0 156.3h8.3v2.2h-8.3zM375.4 158.3h12.4v2.2h-12.4zM399.6 158.3h8.3v2.2h-8.3zM375.4 160.3h12.4v2.2h-12.4zM399.6 160.3h8.3v2.2h-8.3zM395.6 162.3h8.3v2.2h-8.3zM395.6 164.2h8.3v2.2h-8.3z"/>
<path fill="#fdfcb6" d="M375.4 27.3h8.3v2.2h-8.3zM391.5 27.3h8.3v2.2h-8.3zM375.4 29.3h8.3v2.2h-8.3zM391.5 29.3h8.3v2.2h-8.3zM371.3 43.2h12.4v2.2h-12.4zM456.2 43.2h8.3v2.2h-8.3zM476.4 43.2h4.3v2.2h-4.3zM371.3 45.2h12.4v2.2h-12.4zM456.2 45.2h8.3v2.2h-8.3zM476.4 45.2h4.3v2.2h-4.3zM371.3 47.1h12.4v2.2h-12.4zM456.2 47.1h8.3v2.2h-8.3zM476.4 47.1h4.3v2.2h-4.3zM371.3 49.1h12.4v2.2h-12.4zM456.2 49.1h8.3v2.2h-8.3zM476.4 49.1h4.3v2.2h-4.3zM419.8 51.1h8.3v2.2h-8.3zM419.8 53.1h8.3v2.2h-8.3zM484.5 55.1h4.3v2.2h-4.3zM484.5 57.1h4.3v2.2h-4.3zM395.6 59.1h12.4v2.2h-12.4zM464.3 59.1h8.3v2.2h-8.3zM480.4 59.1h8.3v2.2h-8.3zM395.6 61.0h12.4v2.2h-12.4zM464.3 61.0h8.3v2.2h-8.3zM480.4 61.0h8.3v2.2h-8.3zM367.3 63.0h8.3v2.2h-8.3zM395.6 63.0h12.4v2.2h-12.4zM464.3 63.0h4.3v2.2h-4.3zM367.3 65.0h8.3v2.2h-8.3zM395.6 65.0h12.4v2.2h-12.4zM464.3 65.0h4.3v2.2h-4.3zM403.7 67.0h4.3v2.2h-4.3zM464.3 67.0h4.3v2.2h-4.3zM403.7 69.0h4.3v2.2h-4.3zM464.3 69.0h4.3v2.2h-4.3zM403.7 71.0h4.3v2.2h-4.3zM456.2 71.0h4.3v2.2h-4.3zM464.3 71.0h4.3v2.2h-4.3zM403.7 72.9h4.3v2.2h-4.3zM456.2 72.9h4.3v2.2h-4.3zM464.3 72.9h4.3v2.2h-4.3zM452.2 74.9h8.3v2.2h-8.3zM452.2 76.9h8.3v2.2h-8.3zM403.7 78.9h4.3v2.2h-4.3zM448.1 78.9h12.4v2.2h-12.4zM492.6 78.9h4.3v2.2h-4.3zM403.7 80.9h4.3v2.2h-4.3zM448.1 80.9h12.4v2.2h-12.4zM492.6 80.9h4.3v2.2h-4.3zM419.8 82.9h4.3v2.2h-4.3zM448.1 82.9h12.4v2.2h-12.4zM488.5 82.9h4.3v2.2h-4.3zM419.8 84.9h4.3v2.2h-4.3zM448.1 84.9h12.4v2.2h-12.4zM488.5 84.9h4.3v2.2h-4.3zM423.9 86.8h4.3v2.2h-4.3zM452.2 86.8h4.3v2.2h-4.3zM423.9 88.8h4.3v2.2h-4.3zM452.2 88.8h4.3v2.2h-4.3zM427.9 90.8h4.3v2.2h-4.3zM440.0 90.8h8.3v2.2h-8.3zM427.9 92.8h4.3v2.2h-4.3zM440.0 92.8h8.3v2.2h-8.3zM399.6 94.8h4.3v2.2h-4.3zM427.9 94.8h4.3v2.2h-4.3zM436.0 94.8h8.3v2.2h-8.3zM399.6 96.8h4.3v2.2h-4.3zM427.9 96.8h4.3v2.2h-4.3zM436.0 96.8h8.3v2.2h-8.3zM415.8 98.7h4.3v2.2h-4.3zM444.1 98.7h16.4v2.2h-16.4zM472.4 98.7h8.3v2.2h-8.3zM415.8 100.7h4.3v2.2h-4.3zM444.1 100.7h16.4v2.2h-16.4zM472.4 100.7h8.3v2.2h-8.3zM419.8 102.7h12.4v2.2h-12.4zM448.1 102.7h12.4v2.2h-12.4zM419.8 104.7h12.4v2.2h-12.4zM448.1 104.7h12.4v2.2h-12.4zM371.3 106.7h8.3v2.2h-8.3zM427.9 106.7h4.3v2.2h-4.3zM448.1 106.7h12.4v2.2h-12.4zM371.3 108.7h8.3v2.2h-8.3zM427.9 108.7h4.3v2.2h-4.3zM448.1 108.7h12.4v2.2h-12.4zM371.3 110.7h8.3v2.2h-8.3zM448.1 110.7h12.4v2.2h-12.4zM371.3 112.6h8.3v2.2h-8.3zM448.1 112.6h12.4v2.2h-12.4zM371.3 114.6h12.4v2.2h-12.4zM411.7 114.6h4.3v2.2h-4.3zM448.1 114.6h12.4v2.2h-12.4zM371.3 116.6h12.4v2.2h-12.4zM411.7 116.6h4.3v2.2h-4.3zM448.1 116.6h12.4v2.2h-12.4zM367.3 118.6h8.3v2.2h-8.3zM383.5 118.6h4.3v2.2h-4.3zM407.7 118.6h8.3v2.2h-8.3zM452.2 118.6h12.4v2.2h-12.4zM367.3 120.6h8.3v2.2h-8.3zM383.5 120.6h4.3v2.2h-4.3zM407.7 120.6h8.3v2.2h-8.3zM452.2 120.6h12.4v2.2h-12.4zM367.3 122.6h4.3v2.2h-4.3zM379.4 122.6h4.3v2.2h-4.3zM407.7 122.6h8.3v2.2h-8.3zM448.1 122.6h16.4v2.2h-16.4zM367.3 124.6h4.3v2.2h-4.3zM379.4 124.6h4.3v2.2h-4.3zM407.7 124.6h8.3v2.2h-8.3zM448.1 124.6h16.4v2.2h-16.4zM375.4 126.5h4.3v2.2h-4.3zM448.1 126.5h16.4v2.2h-16.4zM375.4 128.5h4.3v2.2h-4.3zM448.1 128.5h16.4v2.2h-16.4zM375.4 130.5h4.3v2.2h-4.3zM395.6 130.5h8.3v2.2h-8.3zM448.1 130.5h12.4v2.2h-12.4zM375.4 132.5h4.3v2.2h-4.3zM395.6 132.5h8.3v2.2h-8.3zM448.1 132.5h12.4v2.2h-12.4zM371.3 134.5h28.5v2.2h-28.5zM448.1 134.5h12.4v2.2h-12.4zM371.3 136.5h28.5v2.2h-28.5zM448.1 136.5h12.4v2.2h-12.4zM367.3 138.4h20.5v2.2h-20.5zM395.6 138.4h4.3v2.2h-4.3zM419.8 138.4h8.3v2.2h-8.3zM448.1 138.4h8.3v2.2h-8.3zM367.3 140.4h20.5v2.2h-20.5zM395.6 140.4h4.3v2.2h-4.3zM419.8 140.4h8.3v2.2h-8.3zM448.1 140.4h8.3v2.2h-8.3zM367.3 142.4h20.5v2.2h-20.5zM448.1 142.4h8.3v2.2h-8.3zM367.3 144.4h20.5v2.2h-20.5zM448.1 144.4h8.3v2.2h-8.3zM367.3 146.4h16.4v2.2h-16.4zM444.1 146.4h12.4v2.2h-12.4zM367.3 148.4h16.4v2.2h-16.4zM444.1 148.4h12.4v2.2h-12.4zM367.3 150.4h4.3v2.2h-4.3zM379.4 150.4h4.3v2.2h-4.3zM395.6 150.4h4.3v2.2h-4.3zM444.1 150.4h12.4v2.2h-12.4zM367.3 152.3h4.3v2.2h-4.3zM379.4 152.3h4.3v2.2h-4.3zM395.6 152.3h4.3v2.2h-4.3zM444.1 152.3h12.4v2.2h-12.4zM367.3 154.3h4.3v2.2h-4.3zM391.5 154.3h12.4v2.2h-12.4zM411.7 154.3h4.3v2.2h-4.3zM432.0 154.3h4.3v2.2h-4.3zM444.1 154.3h8.3v2.2h-8.3zM367.3 156.3h4.3v2.2h-4.3zM391.5 156.3h12.4v2.2h-12.4zM411.7 156.3h4.3v2.2h-4.3zM432.0 156.3h4.3v2.2h-4.3zM444.1 156.3h8.3v2.2h-8.3zM367.3 158.3h8.3v2.2h-8.3zM387.5 158.3h12.4v2.2h-12.4zM407.7 158.3h12.4v2.2h-12.4zM432.0 158.3h20.5v2.2h-20.5zM367.3 160.3h8.3v2.2h-8.3zM387.5 160.3h12.4v2.2h-12.4zM407.7 160.3h12.4v2.2h-12.4zM432.0 160.3h20.5v2.2h-20.5zM367.3 162.3h28.5v2.2h-28.5zM403.7 162.3h16.4v2.2h-16.4zM432.0 162.3h16.4v2.2h-16.4zM367.3 164.2h28.5v2.2h-28.5zM403.7 164.2h16.4v2.2h-16.4zM432.0 164.2h16.4v2.2h-16.4zM367.3 166.2h28.5v2.2h-28.5zM403.7 166.2h20.5v2.2h-20.5zM367.3 168.2h28.5v2.2h-28.5zM403.7 168.2h20.5v2.2h-20.5z"/>
<path fill="#3ea4ac" d="M403.7 27.3h56.8v2.2h-56.8zM492.6 27.3h4.3v2.2h-4.3zM403.7 29.3h56.8v2.2h-56.8zM492.6 29.3h4.3v2.2h-4.3zM367.3 31.3h24.5v2.2h-24.5zM399.6 31.3h60.9v2.2h-60.9zM488.5 31.3h8.3v2.2h-8.3zM367.3 33.3h24.5v2.2h-24.5zM399.6 33.3h60.9v2.2h-60.9zM488.5 33.3h8.3v2.2h-8.3zM367.3 35.2h28.5v2.2h-28.5zM399.6 35.2h4.3v2.2h-4.3zM407.7 35.2h48.7v2.2h-48.7zM488.5 35.2h8.3v2.2h-8.3zM367.3 37.2h28.5v2.2h-28.5zM399.6 37.2h4.3v2.2h-4.3zM407.7 37.2h48.7v2.2h-48.7zM488.5 37.2h8.3v2.2h-8.3zM367.3 39.2h8.3v2.2h-8.3zM383.5 39.2h20.5v2.2h-20.5zM411.7 39.2h20.5v2.2h-20.5zM436.0 39.2h20.5v2.2h-20.5zM488.5 39.2h8.3v2.2h-8.3zM367.3 41.2h8.3v2.2h-8.3zM383.5 41.2h20.5v2.2h-20.5zM411.7 41.2h20.5v2.2h-20.5zM436.0 41.2h20.5v2.2h-20.5zM488.5 41.2h8.3v2.2h-8.3zM415.8 43.2h12.4v2.2h-12.4zM492.6 43.2h4.3v2.2h-4.3zM415.8 45.2h12.4v2.2h-12.4zM492.6 45.2h4.3v2.2h-4.3zM492.6 47.1h4.3v2.2h-4.3zM492.6 49.1h4.3v2.2h-4.3zM432.0 51.1h28.5v2.2h-28.5zM492.6 51.1h4.3v2.2h-4.3zM432.0 53.1h28.5v2.2h-28.5zM492.6 53.1h4.3v2.2h-4.3zM367.3 55.1h16.4v2.2h-16.4zM432.0 55.1h4.3v2.2h-4.3zM452.2 55.1h12.4v2.2h-12.4zM492.6 55.1h4.3v2.2h-4.3zM367.3 57.1h16.4v2.2h-16.4zM432.0 57.1h4.3v2.2h-4.3zM452.2 57.1h12.4v2.2h-12.4zM492.6 57.1h4.3v2.2h-4.3zM367.3 59.1h24.5v2.2h-24.5zM423.9 59.1h40.7v2.2h-40.7zM492.6 59.1h4.3v2.2h-4.3zM367.3 61.0h24.5v2.2h-24.5zM423.9 61.0h40.7v2.2h-40.7zM492.6 61.0h4.3v2.2h-4.3zM407.7 63.0h24.5v2.2h-24.5zM460.2 63.0h4.3v2.2h-4.3zM488.5 63.0h8.3v2.2h-8.3zM407.7 65.0h24.5v2.2h-24.5zM460.2 65.0h4.3v2.2h-4.3zM488.5 65.0h8.3v2.2h-8.3zM419.8 67.0h12.4v2.2h-12.4zM460.2 67.0h4.3v2.2h-4.3zM480.4 67.0h12.4v2.2h-12.4zM419.8 69.0h12.4v2.2h-12.4zM460.2 69.0h4.3v2.2h-4.3zM480.4 69.0h12.4v2.2h-12.4zM415.8 71.0h4.3v2.2h-4.3zM440.0 71.0h8.3v2.2h-8.3zM460.2 71.0h4.3v2.2h-4.3zM480.4 71.0h12.4v2.2h-12.4zM415.8 72.9h4.3v2.2h-4.3zM440.0 72.9h8.3v2.2h-8.3zM460.2 72.9h4.3v2.2h-4.3zM480.4 72.9h12.4v2.2h-12.4zM460.2 74.9h8.3v2.2h-8.3zM476.4 74.9h20.5v2.2h-20.5zM460.2 76.9h8.3v2.2h-8.3zM476.4 76.9h20.5v2.2h-20.5zM464.3 78.9h8.3v2.2h-8.3zM476.4 78.9h4.3v2.2h-4.3zM488.5 78.9h4.3v2.2h-4.3zM464.3 80.9h8.3v2.2h-8.3zM476.4 80.9h4.3v2.2h-4.3zM488.5 80.9h4.3v2.2h-4.3zM464.3 82.9h8.3v2.2h-8.3zM480.4 82.9h8.3v2.2h-8.3zM464.3 84.9h8.3v2.2h-8.3zM480.4 84.9h8.3v2.2h-8.3zM419.8 86.8h4.3v2.2h-4.3zM468.3 86.8h8.3v2.2h-8.3zM484.5 86.8h12.4v2.2h-12.4zM419.8 88.8h4.3v2.2h-4.3zM468.3 88.8h8.3v2.2h-8.3zM484.5 88.8h12.4v2.2h-12.4zM419.8 90.8h4.3v2.2h-4.3zM448.1 90.8h8.3v2.2h-8.3zM468.3 90.8h8.3v2.2h-8.3zM484.5 90.8h12.4v2.2h-12.4zM419.8 92.8h4.3v2.2h-4.3zM448.1 92.8h8.3v2.2h-8.3zM468.3 92.8h8.3v2.2h-8.3zM484.5 92.8h12.4v2.2h-12.4zM468.3 94.8h8.3v2.2h-8.3zM488.5 94.8h8.3v2.2h-8.3zM468.3 96.8h8.3v2.2h-8.3zM488.5 96.8h8.3v2.2h-8.3zM423.9 98.7h4.3v2.2h-4.3zM480.4 98.7h4.3v2.2h-4.3zM492.6 98.7h4.3v2.2h-4.3zM423.9 100.7h4.3v2.2h-4.3zM480.4 100.7h4.3v2.2h-4.3zM492.6 100.7h4.3v2.2h-4.3zM480.4 102.7h4.3v2.2h-4.3zM492.6 102.7h4.3v2.2h-4.3zM480.4 104.7h4.3v2.2h-4.3zM492.6 104.7h4.3v2.2h-4.3zM480.4 106.7h4.3v2.2h-4.3zM492.6 106.7h4.3v2.2h-4.3zM480.4 108.7h4.3v2.2h-4.3zM492.6 108.7h4.3v2.2h-4.3zM480.4 110.7h4.3v2.2h-4.3zM492.6 110.7h4.3v2.2h-4.3zM480.4 112.6h4.3v2.2h-4.3zM492.6 112.6h4.3v2.2h-4.3zM383.5 114.6h4.3v2.2h-4.3zM480.4 114.6h4.3v2.2h-4.3zM492.6 114.6h4.3v2.2h-4.3zM383.5 116.6h4.3v2.2h-4.3zM480.4 116.6h4.3v2.2h-4.3zM492.6 116.6h4.3v2.2h-4.3zM484.5 118.6h4.3v2.2h-4.3zM492.6 118.6h4.3v2.2h-4.3zM484.5 120.6h4.3v2.2h-4.3zM492.6 120.6h4.3v2.2h-4.3zM480.4 126.5h16.4v2.2h-16.4zM480.4 128.5h16.4v2.2h-16.4zM367.3 130.5h4.3v2.2h-4.3zM480.4 130.5h4.3v2.2h-4.3zM492.6 130.5h4.3v2.2h-4.3zM367.3 132.5h4.3v2.2h-4.3zM480.4 132.5h4.3v2.2h-4.3zM492.6 132.5h4.3v2.2h-4.3zM367.3 134.5h4.3v2.2h-4.3zM480.4 134.5h16.4v2.2h-16.4zM367.3 136.5h4.3v2.2h-4.3zM480.4 136.5h16.4v2.2h-16.4zM403.7 138.4h8.3v2.2h-8.3zM480.4 138.4h16.4v2.2h-16.4zM403.7 140.4h8.3v2.2h-8.3zM480.4 140.4h16.4v2.2h-16.4zM403.7 142.4h12.4v2.2h-12.4zM480.4 142.4h4.3v2.2h-4.3zM492.6 142.4h4.3v2.2h-4.3zM403.7 144.4h12.4v2.2h-12.4zM480.4 144.4h4.3v2.2h-4.3zM492.6 144.4h4.3v2.2h-4.3zM419.8 146.4h4.3v2.2h-4.3zM480.4 146.4h16.4v2.2h-16.4zM419.8 148.4h4.3v2.2h-4.3zM480.4 148.4h16.4v2.2h-16.4zM419.8 150.4h8.3v2.2h-8.3zM484.5 150.4h12.4v2.2h-12.4zM419.8 152.3h8.3v2.2h-8.3zM484.5 152.3h12.4v2.2h-12.4zM419.8 154.3h12.4v2.2h-12.4zM476.4 154.3h20.5v2.2h-20.5zM419.8 156.3h12.4v2.2h-12.4zM476.4 156.3h20.5v2.2h-20.5zM419.8 158.3h12.4v2.2h-12.4zM476.4 158.3h8.3v2.2h-8.3zM419.8 160.3h12.4v2.2h-12.4zM476.4 160.3h8.3v2.2h-8.3zM423.9 162.3h8.3v2.2h-8.3zM448.1 162.3h12.4v2.2h-12.4zM476.4 162.3h8.3v2.2h-8.3zM423.9 164.2h8.3v2.2h-8.3zM448.1 164.2h12.4v2.2h-12.4zM476.4 164.2h8.3v2.2h-8.3zM427.9 166.2h4.3v2.2h-4.3zM444.1 166.2h20.5v2.2h-20.5zM472.4 166.2h16.4v2.2h-16.4zM427.9 168.2h4.3v2.2h-4.3zM444.1 168.2h20.5v2.2h-20.5zM472.4 168.2h16.4v2.2h-16.4z"/>
<path fill="#5b4ca2" d="M391.5 31.3h8.3v2.2h-8.3zM391.5 33.3h8.3v2.2h-8.3zM395.6 35.2h4.3v2.2h-4.3zM395.6 37.2h4.3v2.2h-4.3zM436.0 55.1h16.4v2.2h-16.4zM436.0 57.1h16.4v2.2h-16.4zM407.7 67.0h12.4v2.2h-12.4zM492.6 67.0h4.3v2.2h-4.3zM407.7 69.0h12.4v2.2h-12.4zM492.6 69.0h4.3v2.2h-4.3zM407.7 71.0h8.3v2.2h-8.3zM492.6 71.0h4.3v2.2h-4.3zM407.7 72.9h8.3v2.2h-8.3zM492.6 72.9h4.3v2.2h-4.3zM480.4 78.9h8.3v2.2h-8.3zM480.4 80.9h8.3v2.2h-8.3zM476.4 94.8h12.4v2.2h-12.4zM476.4 96.8h12.4v2.2h-12.4zM484.5 98.7h8.3v2.2h-8.3zM484.5 100.7h8.3v2.2h-8.3zM484.5 102.7h8.3v2.2h-8.3zM484.5 104.7h8.3v2.2h-8.3zM484.5 106.7h8.3v2.2h-8.3zM484.5 108.7h8.3v2.2h-8.3zM484.5 110.7h8.3v2.2h-8.3zM484.5 112.6h8.3v2.2h-8.3zM484.5 114.6h8.3v2.2h-8.3zM484.5 116.6h8.3v2.2h-8.3zM488.5 118.6h4.3v2.2h-4.3zM488.5 120.6h4.3v2.2h-4.3zM484.5 130.5h8.3v2.2h-8.3zM484.5 132.5h8.3v2.2h-8.3zM484.5 142.4h8.3v2.2h-8.3zM484.5 144.4h8.3v2.2h-8.3z"/>
</g></g>
<rect x="367.30" y="27.30" width="129.30" height="142.90" fill="none" stroke="#1c1c1c" stroke-width="1.4"/>
<path d="M388.3 24.7V27.3 M429.9 24.7V27.3 M471.8 24.7V27.3 M392.9 170.2V173.2 M435.3 170.2V173.2 M477.0 170.2V173.2 M364.5 50.5H367.3 M364.5 102.5H367.3 M364.5 157.4H367.3 M496.6 44.8H499.4 M496.6 96.2H499.4 M496.6 151.5H499.4" stroke="#1c1c1c" stroke-width="1" fill="none"/>
<text x="388.2" y="22.4" font-size="8.5" text-anchor="middle">114°15'0&quot;E</text>
<text x="473.0" y="22.4" font-size="8.5" text-anchor="middle">114°35'0&quot;E</text>
<text x="394.8" y="181.7" font-size="8.5" text-anchor="middle">114°15'0&quot;E</text>
<text x="481.0" y="181.7" font-size="8.5" text-anchor="middle">114°35'0&quot;E</text>
<text x="0" y="0" font-size="8.5" text-anchor="middle" transform="translate(362.3,50.2) rotate(-90)">30°45'0&quot;N</text>
<text x="0" y="0" font-size="8.5" text-anchor="middle" transform="translate(362.3,102.5) rotate(-90)">30°35'0&quot;N</text>
<text x="0" y="0" font-size="8.5" text-anchor="middle" transform="translate(362.3,151.5) rotate(-90)">30°25'0&quot;N</text>
<text x="0" y="0" font-size="8.5" text-anchor="middle" transform="translate(507.8,40.6) rotate(-90)">30°45'0&quot;N</text>
<text x="0" y="0" font-size="8.5" text-anchor="middle" transform="translate(507.8,93.5) rotate(-90)">30°35'0&quot;N</text>
<text x="0" y="0" font-size="8.5" text-anchor="middle" transform="translate(507.8,147.8) rotate(-90)">30°25'0&quot;N</text>
<text x="429.7" y="13.9" font-size="11.5" text-anchor="middle">(c)</text>
<clipPath id="cpd"><rect x="20.10" y="220.10" width="128.40" height="143.30"/></clipPath>
<g clip-path="url(#cpd)"><g filter="url(#bl)">
<rect x="18.10" y="218.10" width="132.40" height="147.30" fill="#afdb9a"/>
<path fill="#9e0142" d="M32.1 263.9h8.3v2.2h-8.3zM32.1 265.9h8.3v2.2h-8.3zM28.1 267.9h16.3v2.2h-16.3zM28.1 269.9h16.3v2.2h-16.3zM24.1 271.8h16.3v2.2h-16.3zM68.2 271.8h8.3v2.2h-8.3zM84.3 271.8h4.3v2.2h-4.3zM24.1 273.8h16.3v2.2h-16.3zM68.2 273.8h8.3v2.2h-8.3zM84.3 273.8h4.3v2.2h-4.3zM64.2 275.8h8.3v2.2h-8.3zM84.3 275.8h8.3v2.2h-8.3zM64.2 277.8h8.3v2.2h-8.3zM84.3 277.8h8.3v2.2h-8.3zM20.1 279.8h8.3v2.2h-8.3zM20.1 281.8h8.3v2.2h-8.3zM20.1 283.8h8.3v2.2h-8.3zM20.1 285.8h8.3v2.2h-8.3zM20.1 287.8h4.3v2.2h-4.3zM28.1 287.8h12.3v2.2h-12.3zM20.1 289.8h4.3v2.2h-4.3zM28.1 289.8h12.3v2.2h-12.3zM20.1 291.8h4.3v2.2h-4.3zM20.1 293.7h4.3v2.2h-4.3zM44.2 295.7h20.3v2.2h-20.3zM44.2 297.7h20.3v2.2h-20.3zM44.2 299.7h20.3v2.2h-20.3zM44.2 301.7h20.3v2.2h-20.3zM40.2 303.7h24.3v2.2h-24.3zM40.2 305.7h24.3v2.2h-24.3zM40.2 307.7h16.3v2.2h-16.3zM40.2 309.7h16.3v2.2h-16.3zM44.2 311.7h4.3v2.2h-4.3zM80.3 311.7h4.3v2.2h-4.3zM44.2 313.6h4.3v2.2h-4.3zM80.3 313.6h4.3v2.2h-4.3zM84.3 319.6h12.3v2.2h-12.3zM84.3 321.6h12.3v2.2h-12.3zM76.3 323.6h24.3v2.2h-24.3zM76.3 325.6h24.3v2.2h-24.3zM84.3 327.6h16.3v2.2h-16.3zM84.3 329.6h16.3v2.2h-16.3zM84.3 331.6h12.3v2.2h-12.3zM84.3 333.5h12.3v2.2h-12.3zM52.2 359.4h8.3v2.2h-8.3zM52.2 361.4h8.3v2.2h-8.3z"/>
<path fill="#e95b3d" d="M116.4 236.0h8.3v2.2h-8.3zM116.4 238.0h8.3v2.2h-8.3zM116.4 240.0h8.3v2.2h-8.3zM116.4 242.0h8.3v2.2h-8.3zM120.4 251.9h4.3v2.2h-4.3zM120.4 253.9h4.3v2.2h-4.3zM104.4 255.9h8.3v2.2h-8.3zM120.4 255.9h4.3v2.2h-4.3zM104.4 257.9h8.3v2.2h-8.3zM120.4 257.9h4.3v2.2h-4.3zM32.1 259.9h20.3v2.2h-20.3zM84.3 259.9h4.3v2.2h-4.3zM96.3 259.9h16.3v2.2h-16.3zM120.4 259.9h4.3v2.2h-4.3zM32.1 261.9h20.3v2.2h-20.3zM84.3 261.9h4.3v2.2h-4.3zM96.3 261.9h16.3v2.2h-16.3zM120.4 261.9h4.3v2.2h-4.3zM20.1 263.9h12.3v2.2h-12.3zM40.2 263.9h12.3v2.2h-12.3zM84.3 263.9h12.3v2.2h-12.3zM100.3 263.9h12.3v2.2h-12.3zM20.1 265.9h12.3v2.2h-12.3zM40.2 265.9h12.3v2.2h-12.3zM84.3 265.9h12.3v2.2h-12.3zM100.3 265.9h12.3v2.2h-12.3zM20.1 267.9h8.3v2.2h-8.3zM44.2 267.9h8.3v2.2h-8.3zM64.2 267.9h28.3v2.2h-28.3zM20.1 269.9h8.3v2.2h-8.3zM44.2 269.9h8.3v2.2h-8.3zM64.2 269.9h28.3v2.2h-28.3zM20.1 271.8h4.3v2.2h-4.3zM40.2 271.8h8.3v2.2h-8.3zM60.2 271.8h8.3v2.2h-8.3zM80.3 271.8h4.3v2.2h-4.3zM88.3 271.8h4.3v2.2h-4.3zM20.1 273.8h4.3v2.2h-4.3zM40.2 273.8h8.3v2.2h-8.3zM60.2 273.8h8.3v2.2h-8.3zM80.3 273.8h4.3v2.2h-4.3zM88.3 273.8h4.3v2.2h-4.3zM20.1 275.8h28.3v2.2h-28.3zM60.2 275.8h4.3v2.2h-4.3zM72.3 275.8h12.3v2.2h-12.3zM20.1 277.8h28.3v2.2h-28.3zM60.2 277.8h4.3v2.2h-4.3zM72.3 277.8h12.3v2.2h-12.3zM28.1 279.8h16.3v2.2h-16.3zM60.2 279.8h32.4v2.2h-32.4zM28.1 281.8h16.3v2.2h-16.3zM60.2 281.8h32.4v2.2h-32.4zM28.1 283.8h16.3v2.2h-16.3zM64.2 283.8h8.3v2.2h-8.3zM28.1 285.8h16.3v2.2h-16.3zM64.2 285.8h8.3v2.2h-8.3zM24.1 287.8h4.3v2.2h-4.3zM40.2 287.8h4.3v2.2h-4.3zM64.2 287.8h4.3v2.2h-4.3zM24.1 289.8h4.3v2.2h-4.3zM40.2 289.8h4.3v2.2h-4.3zM64.2 289.8h4.3v2.2h-4.3zM28.1 291.8h4.3v2.2h-4.3zM40.2 291.8h28.3v2.2h-28.3zM28.1 293.7h4.3v2.2h-4.3zM40.2 293.7h28.3v2.2h-28.3zM20.1 295.7h4.3v2.2h-4.3zM32.1 295.7h12.3v2.2h-12.3zM64.2 295.7h4.3v2.2h-4.3zM20.1 297.7h4.3v2.2h-4.3zM32.1 297.7h12.3v2.2h-12.3zM64.2 297.7h4.3v2.2h-4.3zM36.2 299.7h4.3v2.2h-4.3zM64.2 299.7h4.3v2.2h-4.3zM36.2 301.7h4.3v2.2h-4.3zM64.2 301.7h4.3v2.2h-4.3zM20.1 303.7h16.3v2.2h-16.3zM64.2 303.7h8.3v2.2h-8.3zM20.1 305.7h16.3v2.2h-16.3zM64.2 305.7h8.3v2.2h-8.3zM20.1 307.7h12.3v2.2h-12.3zM56.2 307.7h24.3v2.2h-24.3zM84.3 307.7h4.3v2.2h-4.3zM20.1 309.7h12.3v2.2h-12.3zM56.2 309.7h24.3v2.2h-24.3zM84.3 309.7h4.3v2.2h-4.3zM24.1 311.7h4.3v2.2h-4.3zM36.2 311.7h8.3v2.2h-8.3zM48.2 311.7h8.3v2.2h-8.3zM64.2 311.7h16.3v2.2h-16.3zM84.3 311.7h8.3v2.2h-8.3zM24.1 313.6h4.3v2.2h-4.3zM36.2 313.6h8.3v2.2h-8.3zM48.2 313.6h8.3v2.2h-8.3zM64.2 313.6h16.3v2.2h-16.3zM84.3 313.6h8.3v2.2h-8.3zM40.2 315.6h8.3v2.2h-8.3zM68.2 315.6h24.3v2.2h-24.3zM40.2 317.6h8.3v2.2h-8.3zM68.2 317.6h24.3v2.2h-24.3zM72.3 319.6h12.3v2.2h-12.3zM96.3 319.6h4.3v2.2h-4.3zM72.3 321.6h12.3v2.2h-12.3zM96.3 321.6h4.3v2.2h-4.3zM72.3 323.6h4.3v2.2h-4.3zM72.3 325.6h4.3v2.2h-4.3zM80.3 327.6h4.3v2.2h-4.3zM80.3 329.6h4.3v2.2h-4.3zM96.3 331.6h4.3v2.2h-4.3zM96.3 333.5h4.3v2.2h-4.3zM84.3 335.5h16.3v2.2h-16.3zM84.3 337.5h16.3v2.2h-16.3zM84.3 339.5h8.3v2.2h-8.3zM84.3 341.5h8.3v2.2h-8.3zM44.2 343.5h4.3v2.2h-4.3zM64.2 343.5h8.3v2.2h-8.3zM84.3 343.5h4.3v2.2h-4.3zM44.2 345.5h4.3v2.2h-4.3zM64.2 345.5h8.3v2.2h-8.3zM84.3 345.5h4.3v2.2h-4.3zM56.2 351.5h8.3v2.2h-8.3zM56.2 353.4h8.3v2.2h-8.3zM48.2 355.4h20.3v2.2h-20.3zM48.2 357.4h20.3v2.2h-20.3zM48.2 359.4h4.3v2.2h-4.3zM60.2 359.4h12.3v2.2h-12.3zM48.2 361.4h4.3v2.2h-4.3zM60.2 361.4h12.3v2.2h-12.3z"/>
<path fill="#fcad62" d="M28.1 236.0h8.3v2.2h-8.3zM56.2 236.0h4.3v2.2h-4.3zM68.2 236.0h4.3v2.2h-4.3zM108.4 236.0h8.3v2.2h-8.3zM28.1 238.0h8.3v2.2h-8.3zM56.2 238.0h4.3v2.2h-4.3zM68.2 238.0h4.3v2.2h-4.3zM108.4 238.0h8.3v2.2h-8.3zM28.1 240.0h4.3v2.2h-4.3zM104.4 240.0h12.3v2.2h-12.3zM28.1 242.0h4.3v2.2h-4.3zM104.4 242.0h12.3v2.2h-12.3zM44.2 244.0h4.3v2.2h-4.3zM44.2 246.0h4.3v2.2h-4.3zM28.1 255.9h24.3v2.2h-24.3zM92.3 255.9h12.3v2.2h-12.3zM28.1 257.9h24.3v2.2h-24.3zM92.3 257.9h12.3v2.2h-12.3zM20.1 259.9h12.3v2.2h-12.3zM52.2 259.9h4.3v2.2h-4.3zM88.3 259.9h8.3v2.2h-8.3zM20.1 261.9h12.3v2.2h-12.3zM52.2 261.9h4.3v2.2h-4.3zM88.3 261.9h8.3v2.2h-8.3zM72.3 263.9h12.3v2.2h-12.3zM72.3 265.9h12.3v2.2h-12.3zM52.2 267.9h4.3v2.2h-4.3zM92.3 267.9h4.3v2.2h-4.3zM128.4 267.9h4.3v2.2h-4.3zM52.2 269.9h4.3v2.2h-4.3zM92.3 269.9h4.3v2.2h-4.3zM128.4 269.9h4.3v2.2h-4.3zM48.2 271.8h4.3v2.2h-4.3zM76.3 271.8h4.3v2.2h-4.3zM92.3 271.8h4.3v2.2h-4.3zM48.2 273.8h4.3v2.2h-4.3zM76.3 273.8h4.3v2.2h-4.3zM92.3 273.8h4.3v2.2h-4.3zM48.2 275.8h4.3v2.2h-4.3zM92.3 275.8h4.3v2.2h-4.3zM48.2 277.8h4.3v2.2h-4.3zM92.3 277.8h4.3v2.2h-4.3zM44.2 279.8h8.3v2.2h-8.3zM44.2 281.8h8.3v2.2h-8.3zM44.2 283.8h8.3v2.2h-8.3zM60.2 283.8h4.3v2.2h-4.3zM72.3 283.8h4.3v2.2h-4.3zM44.2 285.8h8.3v2.2h-8.3zM60.2 285.8h4.3v2.2h-4.3zM72.3 285.8h4.3v2.2h-4.3zM44.2 287.8h8.3v2.2h-8.3zM68.2 287.8h4.3v2.2h-4.3zM44.2 289.8h8.3v2.2h-8.3zM68.2 289.8h4.3v2.2h-4.3zM24.1 291.8h4.3v2.2h-4.3zM24.1 293.7h4.3v2.2h-4.3zM20.1 299.7h4.3v2.2h-4.3zM32.1 299.7h4.3v2.2h-4.3zM132.5 299.7h16.3v2.2h-16.3zM20.1 301.7h4.3v2.2h-4.3zM32.1 301.7h4.3v2.2h-4.3zM132.5 301.7h16.3v2.2h-16.3zM80.3 307.7h4.3v2.2h-4.3zM80.3 309.7h4.3v2.2h-4.3zM56.2 311.7h4.3v2.2h-4.3zM100.3 311.7h12.3v2.2h-12.3zM56.2 313.6h4.3v2.2h-4.3zM100.3 313.6h12.3v2.2h-12.3zM36.2 315.6h4.3v2.2h-4.3zM48.2 315.6h8.3v2.2h-8.3zM64.2 315.6h4.3v2.2h-4.3zM104.4 315.6h20.3v2.2h-20.3zM36.2 317.6h4.3v2.2h-4.3zM48.2 317.6h8.3v2.2h-8.3zM64.2 317.6h4.3v2.2h-4.3zM104.4 317.6h20.3v2.2h-20.3zM36.2 319.6h16.3v2.2h-16.3zM64.2 319.6h8.3v2.2h-8.3zM116.4 319.6h16.3v2.2h-16.3zM36.2 321.6h16.3v2.2h-16.3zM64.2 321.6h8.3v2.2h-8.3zM116.4 321.6h16.3v2.2h-16.3zM68.2 323.6h4.3v2.2h-4.3zM68.2 325.6h4.3v2.2h-4.3zM72.3 327.6h8.3v2.2h-8.3zM72.3 329.6h8.3v2.2h-8.3zM72.3 331.6h12.3v2.2h-12.3zM72.3 333.5h12.3v2.2h-12.3zM44.2 335.5h4.3v2.2h-4.3zM76.3 335.5h8.3v2.2h-8.3zM44.2 337.5h4.3v2.2h-4.3zM76.3 337.5h8.3v2.2h-8.3zM44.2 339.5h8.3v2.2h-8.3zM76.3 339.5h8.3v2.2h-8.3zM44.2 341.5h8.3v2.2h-8.3zM76.3 341.5h8.3v2.2h-8.3zM40.2 343.5h4.3v2.2h-4.3zM72.3 343.5h12.3v2.2h-12.3zM40.2 345.5h4.3v2.2h-4.3zM72.3 345.5h12.3v2.2h-12.3zM36.2 347.5h16.3v2.2h-16.3zM60.2 347.5h16.3v2.2h-16.3zM36.2 349.5h16.3v2.2h-16.3zM60.2 349.5h16.3v2.2h-16.3zM36.2 351.5h20.3v2.2h-20.3zM64.2 351.5h12.3v2.2h-12.3zM36.2 353.4h20.3v2.2h-20.3zM64.2 353.4h12.3v2.2h-12.3zM36.2 355.4h12.3v2.2h-12.3zM68.2 355.4h16.3v2.2h-16.3zM36.2 357.4h12.3v2.2h-12.3zM68.2 357.4h16.3v2.2h-16.3zM36.2 359.4h12.3v2.2h-12.3zM72.3 359.4h12.3v2.2h-12.3zM36.2 361.4h12.3v2.2h-12.3zM72.3 361.4h12.3v2.2h-12.3z"/>
<path fill="#fdfcb6" d="M24.1 232.0h8.3v2.2h-8.3zM24.1 234.0h8.3v2.2h-8.3zM24.1 236.0h4.3v2.2h-4.3zM52.2 236.0h4.3v2.2h-4.3zM60.2 236.0h8.3v2.2h-8.3zM72.3 236.0h4.3v2.2h-4.3zM92.3 236.0h16.3v2.2h-16.3zM24.1 238.0h4.3v2.2h-4.3zM52.2 238.0h4.3v2.2h-4.3zM60.2 238.0h8.3v2.2h-8.3zM72.3 238.0h4.3v2.2h-4.3zM92.3 238.0h16.3v2.2h-16.3zM24.1 240.0h4.3v2.2h-4.3zM32.1 240.0h4.3v2.2h-4.3zM52.2 240.0h28.3v2.2h-28.3zM92.3 240.0h12.3v2.2h-12.3zM124.4 240.0h4.3v2.2h-4.3zM24.1 242.0h4.3v2.2h-4.3zM32.1 242.0h4.3v2.2h-4.3zM52.2 242.0h28.3v2.2h-28.3zM92.3 242.0h12.3v2.2h-12.3zM124.4 242.0h4.3v2.2h-4.3zM48.2 244.0h4.3v2.2h-4.3zM112.4 244.0h16.3v2.2h-16.3zM48.2 246.0h4.3v2.2h-4.3zM112.4 246.0h16.3v2.2h-16.3zM116.4 248.0h8.3v2.2h-8.3zM116.4 250.0h8.3v2.2h-8.3zM56.2 251.9h4.3v2.2h-4.3zM116.4 251.9h4.3v2.2h-4.3zM56.2 253.9h4.3v2.2h-4.3zM116.4 253.9h4.3v2.2h-4.3zM20.1 255.9h8.3v2.2h-8.3zM52.2 255.9h8.3v2.2h-8.3zM88.3 255.9h4.3v2.2h-4.3zM116.4 255.9h4.3v2.2h-4.3zM124.4 255.9h4.3v2.2h-4.3zM20.1 257.9h8.3v2.2h-8.3zM52.2 257.9h8.3v2.2h-8.3zM88.3 257.9h4.3v2.2h-4.3zM116.4 257.9h4.3v2.2h-4.3zM124.4 257.9h4.3v2.2h-4.3zM80.3 259.9h4.3v2.2h-4.3zM112.4 259.9h8.3v2.2h-8.3zM124.4 259.9h4.3v2.2h-4.3zM80.3 261.9h4.3v2.2h-4.3zM112.4 261.9h8.3v2.2h-8.3zM124.4 261.9h4.3v2.2h-4.3zM52.2 263.9h4.3v2.2h-4.3zM96.3 263.9h4.3v2.2h-4.3zM112.4 263.9h16.3v2.2h-16.3zM52.2 265.9h4.3v2.2h-4.3zM96.3 265.9h4.3v2.2h-4.3zM112.4 265.9h16.3v2.2h-16.3zM96.3 267.9h8.3v2.2h-8.3zM120.4 267.9h8.3v2.2h-8.3zM132.5 267.9h4.3v2.2h-4.3zM96.3 269.9h8.3v2.2h-8.3zM120.4 269.9h8.3v2.2h-8.3zM132.5 269.9h4.3v2.2h-4.3zM52.2 271.8h4.3v2.2h-4.3zM96.3 271.8h8.3v2.2h-8.3zM128.4 271.8h12.3v2.2h-12.3zM52.2 273.8h4.3v2.2h-4.3zM96.3 273.8h8.3v2.2h-8.3zM128.4 273.8h12.3v2.2h-12.3zM52.2 275.8h8.3v2.2h-8.3zM96.3 275.8h4.3v2.2h-4.3zM132.5 275.8h8.3v2.2h-8.3zM52.2 277.8h8.3v2.2h-8.3zM96.3 277.8h4.3v2.2h-4.3zM132.5 277.8h8.3v2.2h-8.3zM52.2 279.8h8.3v2.2h-8.3zM92.3 279.8h4.3v2.2h-4.3zM52.2 281.8h8.3v2.2h-8.3zM92.3 281.8h4.3v2.2h-4.3zM52.2 283.8h8.3v2.2h-8.3zM84.3 283.8h12.3v2.2h-12.3zM52.2 285.8h8.3v2.2h-8.3zM84.3 285.8h12.3v2.2h-12.3zM52.2 287.8h12.3v2.2h-12.3zM84.3 287.8h8.3v2.2h-8.3zM52.2 289.8h12.3v2.2h-12.3zM84.3 289.8h8.3v2.2h-8.3zM32.1 291.8h8.3v2.2h-8.3zM68.2 291.8h4.3v2.2h-4.3zM84.3 291.8h4.3v2.2h-4.3zM32.1 293.7h8.3v2.2h-8.3zM68.2 293.7h4.3v2.2h-4.3zM84.3 293.7h4.3v2.2h-4.3zM24.1 295.7h8.3v2.2h-8.3zM68.2 295.7h8.3v2.2h-8.3zM128.4 295.7h20.3v2.2h-20.3zM24.1 297.7h8.3v2.2h-8.3zM68.2 297.7h8.3v2.2h-8.3zM128.4 297.7h20.3v2.2h-20.3zM68.2 299.7h16.3v2.2h-16.3zM128.4 299.7h4.3v2.2h-4.3zM68.2 301.7h16.3v2.2h-16.3zM128.4 301.7h4.3v2.2h-4.3zM72.3 303.7h12.3v2.2h-12.3zM72.3 305.7h12.3v2.2h-12.3zM92.3 307.7h8.3v2.2h-8.3zM92.3 309.7h8.3v2.2h-8.3zM60.2 311.7h4.3v2.2h-4.3zM92.3 311.7h8.3v2.2h-8.3zM60.2 313.6h4.3v2.2h-4.3zM92.3 313.6h8.3v2.2h-8.3zM32.1 315.6h4.3v2.2h-4.3zM56.2 315.6h8.3v2.2h-8.3zM92.3 315.6h12.3v2.2h-12.3zM32.1 317.6h4.3v2.2h-4.3zM56.2 317.6h8.3v2.2h-8.3zM92.3 317.6h12.3v2.2h-12.3zM32.1 319.6h4.3v2.2h-4.3zM52.2 319.6h12.3v2.2h-12.3zM100.3 319.6h4.3v2.2h-4.3zM32.1 321.6h4.3v2.2h-4.3zM52.2 321.6h12.3v2.2h-12.3zM100.3 321.6h4.3v2.2h-4.3zM32.1 323.6h36.4v2.2h-36.4zM100.3 323.6h4.3v2.2h-4.3zM32.1 325.6h36.4v2.2h-36.4zM100.3 325.6h4.3v2.2h-4.3zM28.1 327.6h12.3v2.2h-12.3zM44.2 327.6h12.3v2.2h-12.3zM68.2 327.6h4.3v2.2h-4.3zM100.3 327.6h4.3v2.2h-4.3zM28.1 329.6h12.3v2.2h-12.3zM44.2 329.6h12.3v2.2h-12.3zM68.2 329.6h4.3v2.2h-4.3zM100.3 329.6h4.3v2.2h-4.3zM32.1 331.6h4.3v2.2h-4.3zM44.2 331.6h8.3v2.2h-8.3zM68.2 331.6h4.3v2.2h-4.3zM100.3 331.6h4.3v2.2h-4.3zM32.1 333.5h4.3v2.2h-4.3zM44.2 333.5h8.3v2.2h-8.3zM68.2 333.5h4.3v2.2h-4.3zM100.3 333.5h4.3v2.2h-4.3zM48.2 335.5h4.3v2.2h-4.3zM68.2 335.5h4.3v2.2h-4.3zM48.2 337.5h4.3v2.2h-4.3zM68.2 337.5h4.3v2.2h-4.3zM36.2 339.5h8.3v2.2h-8.3zM52.2 339.5h4.3v2.2h-4.3zM68.2 339.5h4.3v2.2h-4.3zM92.3 339.5h8.3v2.2h-8.3zM36.2 341.5h8.3v2.2h-8.3zM52.2 341.5h4.3v2.2h-4.3zM68.2 341.5h4.3v2.2h-4.3zM92.3 341.5h8.3v2.2h-8.3zM36.2 343.5h4.3v2.2h-4.3zM48.2 343.5h16.3v2.2h-16.3zM88.3 343.5h12.3v2.2h-12.3zM36.2 345.5h4.3v2.2h-4.3zM48.2 345.5h16.3v2.2h-16.3zM88.3 345.5h12.3v2.2h-12.3zM52.2 347.5h8.3v2.2h-8.3zM76.3 347.5h8.3v2.2h-8.3zM92.3 347.5h8.3v2.2h-8.3zM52.2 349.5h8.3v2.2h-8.3zM76.3 349.5h8.3v2.2h-8.3zM92.3 349.5h8.3v2.2h-8.3zM76.3 351.5h8.3v2.2h-8.3zM96.3 351.5h8.3v2.2h-8.3zM76.3 353.4h8.3v2.2h-8.3zM96.3 353.4h8.3v2.2h-8.3zM96.3 355.4h8.3v2.2h-8.3zM96.3 357.4h8.3v2.2h-8.3zM96.3 359.4h4.3v2.2h-4.3zM96.3 361.4h4.3v2.2h-4.3z"/>
<path fill="#3ea4ac" d="M36.2 220.1h16.3v2.2h-16.3zM60.2 220.1h32.4v2.2h-32.4zM120.4 220.1h12.3v2.2h-12.3zM140.5 220.1h8.3v2.2h-8.3zM36.2 222.1h16.3v2.2h-16.3zM60.2 222.1h32.4v2.2h-32.4zM120.4 222.1h12.3v2.2h-12.3zM140.5 222.1h8.3v2.2h-8.3zM20.1 224.1h28.3v2.2h-28.3zM56.2 224.1h32.4v2.2h-32.4zM116.4 224.1h12.3v2.2h-12.3zM140.5 224.1h8.3v2.2h-8.3zM20.1 226.1h28.3v2.2h-28.3zM56.2 226.1h32.4v2.2h-32.4zM116.4 226.1h12.3v2.2h-12.3zM140.5 226.1h8.3v2.2h-8.3zM20.1 228.1h8.3v2.2h-8.3zM44.2 228.1h8.3v2.2h-8.3zM60.2 228.1h20.3v2.2h-20.3zM84.3 228.1h4.3v2.2h-4.3zM116.4 228.1h8.3v2.2h-8.3zM144.5 228.1h4.3v2.2h-4.3zM20.1 230.1h8.3v2.2h-8.3zM44.2 230.1h8.3v2.2h-8.3zM60.2 230.1h20.3v2.2h-20.3zM84.3 230.1h4.3v2.2h-4.3zM116.4 230.1h8.3v2.2h-8.3zM144.5 230.1h4.3v2.2h-4.3zM48.2 232.0h4.3v2.2h-4.3zM84.3 232.0h16.3v2.2h-16.3zM112.4 232.0h8.3v2.2h-8.3zM144.5 232.0h4.3v2.2h-4.3zM48.2 234.0h4.3v2.2h-4.3zM84.3 234.0h16.3v2.2h-16.3zM112.4 234.0h8.3v2.2h-8.3zM144.5 234.0h4.3v2.2h-4.3zM144.5 236.0h4.3v2.2h-4.3zM144.5 238.0h4.3v2.2h-4.3zM84.3 240.0h4.3v2.2h-4.3zM144.5 240.0h4.3v2.2h-4.3zM84.3 242.0h4.3v2.2h-4.3zM144.5 242.0h4.3v2.2h-4.3zM20.1 244.0h4.3v2.2h-4.3zM36.2 244.0h4.3v2.2h-4.3zM80.3 244.0h4.3v2.2h-4.3zM96.3 244.0h16.3v2.2h-16.3zM20.1 246.0h4.3v2.2h-4.3zM36.2 246.0h4.3v2.2h-4.3zM80.3 246.0h4.3v2.2h-4.3zM96.3 246.0h16.3v2.2h-16.3zM20.1 248.0h8.3v2.2h-8.3zM36.2 248.0h8.3v2.2h-8.3zM64.2 248.0h12.3v2.2h-12.3zM112.4 248.0h4.3v2.2h-4.3zM124.4 248.0h4.3v2.2h-4.3zM140.5 248.0h4.3v2.2h-4.3zM20.1 250.0h8.3v2.2h-8.3zM36.2 250.0h8.3v2.2h-8.3zM64.2 250.0h12.3v2.2h-12.3zM112.4 250.0h4.3v2.2h-4.3zM124.4 250.0h4.3v2.2h-4.3zM140.5 250.0h4.3v2.2h-4.3zM60.2 251.9h4.3v2.2h-4.3zM84.3 251.9h4.3v2.2h-4.3zM112.4 251.9h4.3v2.2h-4.3zM124.4 251.9h4.3v2.2h-4.3zM136.5 251.9h8.3v2.2h-8.3zM60.2 253.9h4.3v2.2h-4.3zM84.3 253.9h4.3v2.2h-4.3zM112.4 253.9h4.3v2.2h-4.3zM124.4 253.9h4.3v2.2h-4.3zM136.5 253.9h8.3v2.2h-8.3zM80.3 255.9h4.3v2.2h-4.3zM112.4 255.9h4.3v2.2h-4.3zM132.5 255.9h12.3v2.2h-12.3zM80.3 257.9h4.3v2.2h-4.3zM112.4 257.9h4.3v2.2h-4.3zM132.5 257.9h12.3v2.2h-12.3zM56.2 259.9h4.3v2.2h-4.3zM72.3 259.9h8.3v2.2h-8.3zM132.5 259.9h12.3v2.2h-12.3zM56.2 261.9h4.3v2.2h-4.3zM72.3 261.9h8.3v2.2h-8.3zM132.5 261.9h12.3v2.2h-12.3zM64.2 263.9h4.3v2.2h-4.3zM136.5 263.9h8.3v2.2h-8.3zM64.2 265.9h4.3v2.2h-4.3zM136.5 265.9h8.3v2.2h-8.3zM60.2 267.9h4.3v2.2h-4.3zM140.5 267.9h8.3v2.2h-8.3zM60.2 269.9h4.3v2.2h-4.3zM140.5 269.9h8.3v2.2h-8.3zM56.2 271.8h4.3v2.2h-4.3zM120.4 271.8h4.3v2.2h-4.3zM144.5 271.8h4.3v2.2h-4.3zM56.2 273.8h4.3v2.2h-4.3zM120.4 273.8h4.3v2.2h-4.3zM144.5 273.8h4.3v2.2h-4.3zM120.4 275.8h4.3v2.2h-4.3zM144.5 275.8h4.3v2.2h-4.3zM120.4 277.8h4.3v2.2h-4.3zM144.5 277.8h4.3v2.2h-4.3zM120.4 279.8h8.3v2.2h-8.3zM144.5 279.8h4.3v2.2h-4.3zM120.4 281.8h8.3v2.2h-8.3zM144.5 281.8h4.3v2.2h-4.3zM112.4 283.8h16.3v2.2h-16.3zM144.5 283.8h4.3v2.2h-4.3zM112.4 285.8h16.3v2.2h-16.3zM144.5 285.8h4.3v2.2h-4.3zM104.4 287.8h24.3v2.2h-24.3zM144.5 287.8h4.3v2.2h-4.3zM104.4 289.8h24.3v2.2h-24.3zM144.5 289.8h4.3v2.2h-4.3zM88.3 291.8h20.3v2.2h-20.3zM124.4 291.8h8.3v2.2h-8.3zM140.5 291.8h8.3v2.2h-8.3zM88.3 293.7h20.3v2.2h-20.3zM124.4 293.7h8.3v2.2h-8.3zM140.5 293.7h8.3v2.2h-8.3zM88.3 295.7h4.3v2.2h-4.3zM100.3 295.7h8.3v2.2h-8.3zM124.4 295.7h4.3v2.2h-4.3zM88.3 297.7h4.3v2.2h-4.3zM100.3 297.7h8.3v2.2h-8.3zM124.4 297.7h4.3v2.2h-4.3zM40.2 299.7h4.3v2.2h-4.3zM88.3 299.7h4.3v2.2h-4.3zM100.3 299.7h8.3v2.2h-8.3zM124.4 299.7h4.3v2.2h-4.3zM40.2 301.7h4.3v2.2h-4.3zM88.3 301.7h4.3v2.2h-4.3zM100.3 301.7h8.3v2.2h-8.3zM124.4 301.7h4.3v2.2h-4.3zM36.2 303.7h4.3v2.2h-4.3zM84.3 303.7h24.3v2.2h-24.3zM124.4 303.7h24.3v2.2h-24.3zM36.2 305.7h4.3v2.2h-4.3zM84.3 305.7h24.3v2.2h-24.3zM124.4 305.7h24.3v2.2h-24.3zM32.1 307.7h8.3v2.2h-8.3zM104.4 307.7h8.3v2.2h-8.3zM124.4 307.7h12.3v2.2h-12.3zM144.5 307.7h4.3v2.2h-4.3zM32.1 309.7h8.3v2.2h-8.3zM104.4 309.7h8.3v2.2h-8.3zM124.4 309.7h12.3v2.2h-12.3zM144.5 309.7h4.3v2.2h-4.3zM28.1 311.7h8.3v2.2h-8.3zM132.5 311.7h16.3v2.2h-16.3zM28.1 313.6h8.3v2.2h-8.3zM132.5 313.6h16.3v2.2h-16.3zM24.1 315.6h8.3v2.2h-8.3zM132.5 315.6h4.3v2.2h-4.3zM144.5 315.6h4.3v2.2h-4.3zM24.1 317.6h8.3v2.2h-8.3zM132.5 317.6h4.3v2.2h-4.3zM144.5 317.6h4.3v2.2h-4.3zM20.1 319.6h8.3v2.2h-8.3zM132.5 319.6h4.3v2.2h-4.3zM144.5 319.6h4.3v2.2h-4.3zM20.1 321.6h8.3v2.2h-8.3zM132.5 321.6h4.3v2.2h-4.3zM144.5 321.6h4.3v2.2h-4.3zM24.1 323.6h4.3v2.2h-4.3zM132.5 323.6h16.3v2.2h-16.3zM24.1 325.6h4.3v2.2h-4.3zM132.5 325.6h16.3v2.2h-16.3zM40.2 327.6h4.3v2.2h-4.3zM56.2 327.6h12.3v2.2h-12.3zM140.5 327.6h8.3v2.2h-8.3zM40.2 329.6h4.3v2.2h-4.3zM56.2 329.6h12.3v2.2h-12.3zM140.5 329.6h8.3v2.2h-8.3zM36.2 331.6h8.3v2.2h-8.3zM52.2 331.6h4.3v2.2h-4.3zM116.4 331.6h8.3v2.2h-8.3zM144.5 331.6h4.3v2.2h-4.3zM36.2 333.5h8.3v2.2h-8.3zM52.2 333.5h4.3v2.2h-4.3zM116.4 333.5h8.3v2.2h-8.3zM144.5 333.5h4.3v2.2h-4.3zM36.2 335.5h8.3v2.2h-8.3zM52.2 335.5h4.3v2.2h-4.3zM72.3 335.5h4.3v2.2h-4.3zM104.4 335.5h44.4v2.2h-44.4zM36.2 337.5h8.3v2.2h-8.3zM52.2 337.5h4.3v2.2h-4.3zM72.3 337.5h4.3v2.2h-4.3zM104.4 337.5h44.4v2.2h-44.4zM72.3 339.5h4.3v2.2h-4.3zM104.4 339.5h4.3v2.2h-4.3zM116.4 339.5h16.3v2.2h-16.3zM136.5 339.5h12.3v2.2h-12.3zM72.3 341.5h4.3v2.2h-4.3zM104.4 341.5h4.3v2.2h-4.3zM116.4 341.5h16.3v2.2h-16.3zM136.5 341.5h12.3v2.2h-12.3zM104.4 343.5h4.3v2.2h-4.3zM116.4 343.5h12.3v2.2h-12.3zM136.5 343.5h12.3v2.2h-12.3zM104.4 345.5h4.3v2.2h-4.3zM116.4 345.5h12.3v2.2h-12.3zM136.5 345.5h12.3v2.2h-12.3zM84.3 347.5h8.3v2.2h-8.3zM104.4 347.5h16.3v2.2h-16.3zM132.5 347.5h16.3v2.2h-16.3zM84.3 349.5h8.3v2.2h-8.3zM104.4 349.5h16.3v2.2h-16.3zM132.5 349.5h16.3v2.2h-16.3zM92.3 351.5h4.3v2.2h-4.3zM108.4 351.5h8.3v2.2h-8.3zM128.4 351.5h20.3v2.2h-20.3zM92.3 353.4h4.3v2.2h-4.3zM108.4 353.4h8.3v2.2h-8.3zM128.4 353.4h20.3v2.2h-20.3zM84.3 355.4h4.3v2.2h-4.3zM92.3 355.4h4.3v2.2h-4.3zM112.4 355.4h12.3v2.2h-12.3zM128.4 355.4h20.3v2.2h-20.3zM84.3 357.4h4.3v2.2h-4.3zM92.3 357.4h4.3v2.2h-4.3zM112.4 357.4h12.3v2.2h-12.3zM128.4 357.4h20.3v2.2h-20.3zM84.3 359.4h12.3v2.2h-12.3zM112.4 359.4h36.4v2.2h-36.4zM84.3 361.4h12.3v2.2h-12.3zM112.4 361.4h36.4v2.2h-36.4z"/>
<path fill="#5b4ca2" d="M92.3 220.1h28.3v2.2h-28.3zM92.3 222.1h28.3v2.2h-28.3zM88.3 224.1h28.3v2.2h-28.3zM88.3 226.1h28.3v2.2h-28.3zM36.2 228.1h8.3v2.2h-8.3zM88.3 228.1h28.3v2.2h-28.3zM36.2 230.1h8.3v2.2h-8.3zM88.3 230.1h28.3v2.2h-28.3zM36.2 232.0h12.3v2.2h-12.3zM100.3 232.0h12.3v2.2h-12.3zM36.2 234.0h12.3v2.2h-12.3zM100.3 234.0h12.3v2.2h-12.3zM84.3 244.0h12.3v2.2h-12.3zM84.3 246.0h12.3v2.2h-12.3zM76.3 248.0h36.4v2.2h-36.4zM144.5 248.0h4.3v2.2h-4.3zM76.3 250.0h36.4v2.2h-36.4zM144.5 250.0h4.3v2.2h-4.3zM64.2 251.9h20.3v2.2h-20.3zM88.3 251.9h24.3v2.2h-24.3zM144.5 251.9h4.3v2.2h-4.3zM64.2 253.9h20.3v2.2h-20.3zM88.3 253.9h24.3v2.2h-24.3zM144.5 253.9h4.3v2.2h-4.3zM60.2 255.9h20.3v2.2h-20.3zM144.5 255.9h4.3v2.2h-4.3zM60.2 257.9h20.3v2.2h-20.3zM144.5 257.9h4.3v2.2h-4.3zM60.2 259.9h12.3v2.2h-12.3zM144.5 259.9h4.3v2.2h-4.3zM60.2 261.9h12.3v2.2h-12.3zM144.5 261.9h4.3v2.2h-4.3zM56.2 263.9h8.3v2.2h-8.3zM144.5 263.9h4.3v2.2h-4.3zM56.2 265.9h8.3v2.2h-8.3zM144.5 265.9h4.3v2.2h-4.3zM56.2 267.9h4.3v2.2h-4.3zM56.2 269.9h4.3v2.2h-4.3zM124.4 271.8h4.3v2.2h-4.3zM124.4 273.8h4.3v2.2h-4.3zM124.4 275.8h8.3v2.2h-8.3zM124.4 277.8h8.3v2.2h-8.3zM128.4 279.8h8.3v2.2h-8.3zM128.4 281.8h8.3v2.2h-8.3zM76.3 283.8h8.3v2.2h-8.3zM96.3 283.8h8.3v2.2h-8.3zM128.4 283.8h16.3v2.2h-16.3zM76.3 285.8h8.3v2.2h-8.3zM96.3 285.8h8.3v2.2h-8.3zM128.4 285.8h16.3v2.2h-16.3zM72.3 287.8h12.3v2.2h-12.3zM92.3 287.8h12.3v2.2h-12.3zM128.4 287.8h16.3v2.2h-16.3zM72.3 289.8h12.3v2.2h-12.3zM92.3 289.8h12.3v2.2h-12.3zM128.4 289.8h16.3v2.2h-16.3zM72.3 291.8h12.3v2.2h-12.3zM108.4 291.8h16.3v2.2h-16.3zM132.5 291.8h8.3v2.2h-8.3zM72.3 293.7h12.3v2.2h-12.3zM108.4 293.7h16.3v2.2h-16.3zM132.5 293.7h8.3v2.2h-8.3zM76.3 295.7h12.3v2.2h-12.3zM92.3 295.7h8.3v2.2h-8.3zM108.4 295.7h16.3v2.2h-16.3zM76.3 297.7h12.3v2.2h-12.3zM92.3 297.7h8.3v2.2h-8.3zM108.4 297.7h16.3v2.2h-16.3zM84.3 299.7h4.3v2.2h-4.3zM92.3 299.7h8.3v2.2h-8.3zM108.4 299.7h16.3v2.2h-16.3zM84.3 301.7h4.3v2.2h-4.3zM92.3 301.7h8.3v2.2h-8.3zM108.4 301.7h16.3v2.2h-16.3zM108.4 303.7h16.3v2.2h-16.3zM108.4 305.7h16.3v2.2h-16.3zM136.5 307.7h8.3v2.2h-8.3zM136.5 309.7h8.3v2.2h-8.3zM136.5 315.6h8.3v2.2h-8.3zM136.5 317.6h8.3v2.2h-8.3zM136.5 319.6h8.3v2.2h-8.3zM136.5 321.6h8.3v2.2h-8.3zM20.1 323.6h4.3v2.2h-4.3zM20.1 325.6h4.3v2.2h-4.3zM20.1 327.6h4.3v2.2h-4.3zM20.1 329.6h4.3v2.2h-4.3zM56.2 331.6h12.3v2.2h-12.3zM56.2 333.5h12.3v2.2h-12.3zM56.2 335.5h12.3v2.2h-12.3zM56.2 337.5h12.3v2.2h-12.3zM56.2 339.5h12.3v2.2h-12.3zM108.4 339.5h8.3v2.2h-8.3zM132.5 339.5h4.3v2.2h-4.3zM56.2 341.5h12.3v2.2h-12.3zM108.4 341.5h8.3v2.2h-8.3zM132.5 341.5h4.3v2.2h-4.3zM108.4 343.5h8.3v2.2h-8.3zM128.4 343.5h8.3v2.2h-8.3zM108.4 345.5h8.3v2.2h-8.3zM128.4 345.5h8.3v2.2h-8.3zM84.3 351.5h8.3v2.2h-8.3zM84.3 353.4h8.3v2.2h-8.3zM88.3 355.4h4.3v2.2h-4.3zM108.4 355.4h4.3v2.2h-4.3zM88.3 357.4h4.3v2.2h-4.3zM108.4 357.4h4.3v2.2h-4.3zM104.4 359.4h8.3v2.2h-8.3zM104.4 361.4h8.3v2.2h-8.3z"/>
</g></g>
<rect x="20.10" y="220.10" width="128.40" height="143.30" fill="none" stroke="#1c1c1c" stroke-width="1.4"/>
<path d="M41.1 217.5V220.1 M82.7 217.5V220.1 M124.6 217.5V220.1 M45.7 363.4V366.4 M88.1 363.4V366.4 M129.8 363.4V366.4 M17.3 243.3H20.1 M17.3 295.3H20.1 M17.3 350.2H20.1 M148.5 237.6H151.3 M148.5 289.0H151.3 M148.5 344.3H151.3" stroke="#1c1c1c" stroke-width="1" fill="none"/>
<text x="41.0" y="215.2" font-size="8.5" text-anchor="middle">114°15'0&quot;E</text>
<text x="124.9" y="215.2" font-size="8.5" text-anchor="middle">114°35'0&quot;E</text>
<text x="47.6" y="374.9" font-size="8.5" text-anchor="middle">114°15'0&quot;E</text>
<text x="132.9" y="374.9" font-size="8.5" text-anchor="middle">114°35'0&quot;E</text>
<text x="0" y="0" font-size="8.5" text-anchor="middle" transform="translate(15.1,243.0) rotate(-90)">30°45'0&quot;N</text>
<text x="0" y="0" font-size="8.5" text-anchor="middle" transform="translate(15.1,295.3) rotate(-90)">30°35'0&quot;N</text>
<text x="0" y="0" font-size="8.5" text-anchor="middle" transform="translate(15.1,344.3) rotate(-90)">30°25'0&quot;N</text>
<text x="0" y="0" font-size="8.5" text-anchor="middle" transform="translate(159.7,233.4) rotate(-90)">30°45'0&quot;N</text>
<text x="0" y="0" font-size="8.5" text-anchor="middle" transform="translate(159.7,286.3) rotate(-90)">30°35'0&quot;N</text>
<text x="0" y="0" font-size="8.5" text-anchor="middle" transform="translate(159.7,340.6) rotate(-90)">30°25'0&quot;N</text>
<text x="82.0" y="206.7" font-size="11.5" text-anchor="middle">(d)</text>
<clipPath id="cpe"><rect x="193.50" y="220.80" width="128.70" height="142.80"/></clipPath>
<g clip-path="url(#cpe)"><g filter="url(#bl)">
<rect x="191.50" y="218.80" width="132.70" height="146.80" fill="#afdb9a"/>
<path fill="#9e0142" d="M193.5 264.4h12.3v2.2h-12.3zM253.8 264.4h12.3v2.2h-12.3zM193.5 266.4h12.3v2.2h-12.3zM253.8 266.4h12.3v2.2h-12.3zM193.5 268.4h24.4v2.2h-24.4zM253.8 268.4h12.3v2.2h-12.3zM193.5 270.4h24.4v2.2h-24.4zM253.8 270.4h12.3v2.2h-12.3zM193.5 272.4h28.4v2.2h-28.4zM237.7 272.4h8.3v2.2h-8.3zM257.9 272.4h12.3v2.2h-12.3zM193.5 274.4h28.4v2.2h-28.4zM237.7 274.4h8.3v2.2h-8.3zM257.9 274.4h12.3v2.2h-12.3zM193.5 276.3h24.4v2.2h-24.4zM237.7 276.3h8.3v2.2h-8.3zM257.9 276.3h8.3v2.2h-8.3zM193.5 278.3h24.4v2.2h-24.4zM237.7 278.3h8.3v2.2h-8.3zM257.9 278.3h8.3v2.2h-8.3zM193.5 280.3h20.4v2.2h-20.4zM193.5 282.3h20.4v2.2h-20.4zM193.5 284.3h20.4v2.2h-20.4zM193.5 286.2h20.4v2.2h-20.4zM193.5 288.2h20.4v2.2h-20.4zM193.5 290.2h20.4v2.2h-20.4zM221.7 296.2h8.3v2.2h-8.3zM221.7 298.2h8.3v2.2h-8.3zM213.6 312.0h12.3v2.2h-12.3zM245.8 312.0h12.3v2.2h-12.3zM213.6 314.0h12.3v2.2h-12.3zM245.8 314.0h12.3v2.2h-12.3zM213.6 316.0h12.3v2.2h-12.3zM245.8 316.0h16.3v2.2h-16.3zM213.6 318.0h12.3v2.2h-12.3zM245.8 318.0h16.3v2.2h-16.3zM217.6 320.0h4.3v2.2h-4.3zM245.8 320.0h20.4v2.2h-20.4zM217.6 322.0h4.3v2.2h-4.3zM245.8 322.0h20.4v2.2h-20.4zM245.8 323.9h24.4v2.2h-24.4zM245.8 325.9h24.4v2.2h-24.4zM261.9 327.9h8.3v2.2h-8.3zM261.9 329.9h8.3v2.2h-8.3zM213.6 347.7h8.3v2.2h-8.3zM213.6 349.7h8.3v2.2h-8.3zM221.7 359.6h8.3v2.2h-8.3zM221.7 361.6h8.3v2.2h-8.3z"/>
<path fill="#e95b3d" d="M221.7 256.5h8.3v2.2h-8.3zM261.9 256.5h8.3v2.2h-8.3zM221.7 258.5h8.3v2.2h-8.3zM261.9 258.5h8.3v2.2h-8.3zM193.5 260.5h8.3v2.2h-8.3zM213.6 260.5h12.3v2.2h-12.3zM257.9 260.5h8.3v2.2h-8.3zM193.5 262.4h8.3v2.2h-8.3zM213.6 262.4h12.3v2.2h-12.3zM257.9 262.4h8.3v2.2h-8.3zM205.6 264.4h20.4v2.2h-20.4zM245.8 264.4h8.3v2.2h-8.3zM265.9 264.4h4.3v2.2h-4.3zM205.6 266.4h20.4v2.2h-20.4zM245.8 266.4h8.3v2.2h-8.3zM265.9 266.4h4.3v2.2h-4.3zM217.6 268.4h8.3v2.2h-8.3zM237.7 268.4h16.3v2.2h-16.3zM265.9 268.4h4.3v2.2h-4.3zM217.6 270.4h8.3v2.2h-8.3zM237.7 270.4h16.3v2.2h-16.3zM265.9 270.4h4.3v2.2h-4.3zM221.7 272.4h4.3v2.2h-4.3zM245.8 272.4h4.3v2.2h-4.3zM253.8 272.4h4.3v2.2h-4.3zM269.9 272.4h4.3v2.2h-4.3zM221.7 274.4h4.3v2.2h-4.3zM245.8 274.4h4.3v2.2h-4.3zM253.8 274.4h4.3v2.2h-4.3zM269.9 274.4h4.3v2.2h-4.3zM217.6 276.3h4.3v2.2h-4.3zM233.7 276.3h4.3v2.2h-4.3zM265.9 276.3h4.3v2.2h-4.3zM310.1 276.3h8.3v2.2h-8.3zM217.6 278.3h4.3v2.2h-4.3zM233.7 278.3h4.3v2.2h-4.3zM265.9 278.3h4.3v2.2h-4.3zM310.1 278.3h8.3v2.2h-8.3zM213.6 280.3h8.3v2.2h-8.3zM233.7 280.3h12.3v2.2h-12.3zM257.9 280.3h8.3v2.2h-8.3zM213.6 282.3h8.3v2.2h-8.3zM233.7 282.3h12.3v2.2h-12.3zM257.9 282.3h8.3v2.2h-8.3zM213.6 284.3h4.3v2.2h-4.3zM213.6 286.2h4.3v2.2h-4.3zM213.6 288.2h4.3v2.2h-4.3zM213.6 290.2h4.3v2.2h-4.3zM193.5 292.2h24.4v2.2h-24.4zM193.5 294.2h24.4v2.2h-24.4zM193.5 296.2h4.3v2.2h-4.3zM205.6 296.2h16.3v2.2h-16.3zM229.7 296.2h4.3v2.2h-4.3zM306.1 296.2h8.3v2.2h-8.3zM193.5 298.2h4.3v2.2h-4.3zM205.6 298.2h16.3v2.2h-16.3zM229.7 298.2h4.3v2.2h-4.3zM306.1 298.2h8.3v2.2h-8.3zM193.5 300.1h16.3v2.2h-16.3zM213.6 300.1h20.4v2.2h-20.4zM302.1 300.1h16.3v2.2h-16.3zM193.5 302.1h16.3v2.2h-16.3zM213.6 302.1h20.4v2.2h-20.4zM302.1 302.1h16.3v2.2h-16.3zM193.5 304.1h12.3v2.2h-12.3zM213.6 304.1h40.5v2.2h-40.5zM302.1 304.1h8.3v2.2h-8.3zM193.5 306.1h12.3v2.2h-12.3zM213.6 306.1h40.5v2.2h-40.5zM302.1 306.1h8.3v2.2h-8.3zM193.5 308.1h8.3v2.2h-8.3zM209.6 308.1h48.5v2.2h-48.5zM294.0 308.1h12.3v2.2h-12.3zM193.5 310.1h8.3v2.2h-8.3zM209.6 310.1h48.5v2.2h-48.5zM294.0 310.1h12.3v2.2h-12.3zM193.5 312.0h8.3v2.2h-8.3zM205.6 312.0h8.3v2.2h-8.3zM225.7 312.0h4.3v2.2h-4.3zM241.8 312.0h4.3v2.2h-4.3zM257.9 312.0h4.3v2.2h-4.3zM282.0 312.0h20.4v2.2h-20.4zM193.5 314.0h8.3v2.2h-8.3zM205.6 314.0h8.3v2.2h-8.3zM225.7 314.0h4.3v2.2h-4.3zM241.8 314.0h4.3v2.2h-4.3zM257.9 314.0h4.3v2.2h-4.3zM282.0 314.0h20.4v2.2h-20.4zM205.6 316.0h8.3v2.2h-8.3zM225.7 316.0h4.3v2.2h-4.3zM241.8 316.0h4.3v2.2h-4.3zM261.9 316.0h4.3v2.2h-4.3zM282.0 316.0h16.3v2.2h-16.3zM205.6 318.0h8.3v2.2h-8.3zM225.7 318.0h4.3v2.2h-4.3zM241.8 318.0h4.3v2.2h-4.3zM261.9 318.0h4.3v2.2h-4.3zM282.0 318.0h16.3v2.2h-16.3zM209.6 320.0h8.3v2.2h-8.3zM221.7 320.0h8.3v2.2h-8.3zM241.8 320.0h4.3v2.2h-4.3zM265.9 320.0h4.3v2.2h-4.3zM286.0 320.0h8.3v2.2h-8.3zM209.6 322.0h8.3v2.2h-8.3zM221.7 322.0h8.3v2.2h-8.3zM241.8 322.0h4.3v2.2h-4.3zM265.9 322.0h4.3v2.2h-4.3zM286.0 322.0h8.3v2.2h-8.3zM213.6 323.9h12.3v2.2h-12.3zM237.7 323.9h8.3v2.2h-8.3zM269.9 323.9h4.3v2.2h-4.3zM213.6 325.9h12.3v2.2h-12.3zM237.7 325.9h8.3v2.2h-8.3zM269.9 325.9h4.3v2.2h-4.3zM257.9 327.9h4.3v2.2h-4.3zM269.9 327.9h4.3v2.2h-4.3zM257.9 329.9h4.3v2.2h-4.3zM269.9 329.9h4.3v2.2h-4.3zM257.9 331.9h16.3v2.2h-16.3zM257.9 333.9h16.3v2.2h-16.3zM257.9 335.8h12.3v2.2h-12.3zM257.9 337.8h12.3v2.2h-12.3zM257.9 339.8h8.3v2.2h-8.3zM257.9 341.8h8.3v2.2h-8.3zM209.6 343.8h12.3v2.2h-12.3zM209.6 345.8h12.3v2.2h-12.3zM205.6 347.7h8.3v2.2h-8.3zM221.7 347.7h4.3v2.2h-4.3zM205.6 349.7h8.3v2.2h-8.3zM221.7 349.7h4.3v2.2h-4.3zM201.5 351.7h24.4v2.2h-24.4zM201.5 353.7h24.4v2.2h-24.4zM205.6 355.7h32.4v2.2h-32.4zM205.6 357.6h32.4v2.2h-32.4zM229.7 359.6h8.3v2.2h-8.3zM229.7 361.6h8.3v2.2h-8.3z"/>
<path fill="#fcad62" d="M197.5 232.7h8.3v2.2h-8.3zM197.5 234.7h8.3v2.2h-8.3zM197.5 236.7h8.3v2.2h-8.3zM233.7 236.7h12.3v2.2h-12.3zM290.0 236.7h12.3v2.2h-12.3zM197.5 238.7h8.3v2.2h-8.3zM233.7 238.7h12.3v2.2h-12.3zM290.0 238.7h12.3v2.2h-12.3zM237.7 240.6h8.3v2.2h-8.3zM290.0 240.6h12.3v2.2h-12.3zM237.7 242.6h8.3v2.2h-8.3zM290.0 242.6h12.3v2.2h-12.3zM294.0 252.5h4.3v2.2h-4.3zM294.0 254.5h4.3v2.2h-4.3zM193.5 256.5h28.4v2.2h-28.4zM257.9 256.5h4.3v2.2h-4.3zM269.9 256.5h4.3v2.2h-4.3zM193.5 258.5h28.4v2.2h-28.4zM257.9 258.5h4.3v2.2h-4.3zM269.9 258.5h4.3v2.2h-4.3zM201.5 260.5h12.3v2.2h-12.3zM265.9 260.5h16.3v2.2h-16.3zM201.5 262.4h12.3v2.2h-12.3zM265.9 262.4h16.3v2.2h-16.3zM278.0 264.4h8.3v2.2h-8.3zM278.0 266.4h8.3v2.2h-8.3zM282.0 268.4h4.3v2.2h-4.3zM282.0 270.4h4.3v2.2h-4.3zM249.8 272.4h4.3v2.2h-4.3zM249.8 274.4h4.3v2.2h-4.3zM221.7 276.3h4.3v2.2h-4.3zM245.8 276.3h12.3v2.2h-12.3zM221.7 278.3h4.3v2.2h-4.3zM245.8 278.3h12.3v2.2h-12.3zM221.7 280.3h4.3v2.2h-4.3zM245.8 280.3h12.3v2.2h-12.3zM221.7 282.3h4.3v2.2h-4.3zM245.8 282.3h12.3v2.2h-12.3zM217.6 284.3h8.3v2.2h-8.3zM229.7 284.3h4.3v2.2h-4.3zM241.8 284.3h4.3v2.2h-4.3zM253.8 284.3h4.3v2.2h-4.3zM217.6 286.2h8.3v2.2h-8.3zM231.7 286.2h2.3v2.2h-2.3zM241.8 286.2h4.3v2.2h-4.3zM253.8 286.2h4.3v2.2h-4.3zM217.6 288.2h4.3v2.2h-4.3zM217.6 290.2h4.3v2.2h-4.3zM318.2 300.1h4.3v2.2h-4.3zM318.2 302.1h4.3v2.2h-4.3zM294.0 304.1h8.3v2.2h-8.3zM310.1 304.1h12.3v2.2h-12.3zM294.0 306.1h8.3v2.2h-8.3zM310.1 306.1h12.3v2.2h-12.3zM282.0 308.1h12.3v2.2h-12.3zM306.1 308.1h8.3v2.2h-8.3zM282.0 310.1h12.3v2.2h-12.3zM306.1 310.1h8.3v2.2h-8.3zM261.9 312.0h4.3v2.2h-4.3zM302.1 312.0h4.3v2.2h-4.3zM261.9 314.0h4.3v2.2h-4.3zM302.1 314.0h4.3v2.2h-4.3zM193.5 316.0h4.3v2.2h-4.3zM265.9 316.0h4.3v2.2h-4.3zM278.0 316.0h4.3v2.2h-4.3zM298.1 316.0h4.3v2.2h-4.3zM193.5 318.0h4.3v2.2h-4.3zM265.9 318.0h4.3v2.2h-4.3zM278.0 318.0h4.3v2.2h-4.3zM298.1 318.0h4.3v2.2h-4.3zM193.5 320.0h4.3v2.2h-4.3zM201.5 320.0h8.3v2.2h-8.3zM269.9 320.0h4.3v2.2h-4.3zM282.0 320.0h4.3v2.2h-4.3zM294.0 320.0h4.3v2.2h-4.3zM193.5 322.0h4.3v2.2h-4.3zM201.5 322.0h8.3v2.2h-8.3zM269.9 322.0h4.3v2.2h-4.3zM282.0 322.0h4.3v2.2h-4.3zM294.0 322.0h4.3v2.2h-4.3zM201.5 323.9h12.3v2.2h-12.3zM225.7 323.9h12.3v2.2h-12.3zM273.9 323.9h4.3v2.2h-4.3zM286.0 323.9h8.3v2.2h-8.3zM201.5 325.9h12.3v2.2h-12.3zM225.7 325.9h12.3v2.2h-12.3zM273.9 325.9h4.3v2.2h-4.3zM286.0 325.9h8.3v2.2h-8.3zM197.5 327.9h16.3v2.2h-16.3zM249.8 327.9h8.3v2.2h-8.3zM273.9 327.9h4.3v2.2h-4.3zM197.5 329.9h16.3v2.2h-16.3zM249.8 329.9h8.3v2.2h-8.3zM273.9 329.9h4.3v2.2h-4.3zM201.5 331.9h8.3v2.2h-8.3zM273.9 331.9h4.3v2.2h-4.3zM201.5 333.9h8.3v2.2h-8.3zM273.9 333.9h4.3v2.2h-4.3zM205.6 335.8h4.3v2.2h-4.3zM269.9 335.8h4.3v2.2h-4.3zM205.6 337.8h4.3v2.2h-4.3zM269.9 337.8h4.3v2.2h-4.3zM209.6 339.8h4.3v2.2h-4.3zM241.8 339.8h4.3v2.2h-4.3zM265.9 339.8h4.3v2.2h-4.3zM209.6 341.8h4.3v2.2h-4.3zM241.8 341.8h4.3v2.2h-4.3zM265.9 341.8h4.3v2.2h-4.3zM221.7 343.8h4.3v2.2h-4.3zM241.8 343.8h8.3v2.2h-8.3zM257.9 343.8h8.3v2.2h-8.3zM221.7 345.8h4.3v2.2h-4.3zM241.8 345.8h8.3v2.2h-8.3zM257.9 345.8h8.3v2.2h-8.3zM193.5 351.7h8.3v2.2h-8.3zM225.7 351.7h12.3v2.2h-12.3zM193.5 353.7h8.3v2.2h-8.3zM225.7 353.7h12.3v2.2h-12.3zM193.5 355.7h12.3v2.2h-12.3zM193.5 357.6h12.3v2.2h-12.3zM193.5 359.6h28.4v2.2h-28.4zM193.5 361.6h28.4v2.2h-28.4z"/>
<path fill="#fdfcb6" d="M193.5 220.8h12.3v2.2h-12.3zM241.8 220.8h16.3v2.2h-16.3zM193.5 222.8h12.3v2.2h-12.3zM241.8 222.8h16.3v2.2h-16.3zM193.5 224.8h8.3v2.2h-8.3zM241.8 224.8h16.3v2.2h-16.3zM193.5 226.8h8.3v2.2h-8.3zM241.8 226.8h16.3v2.2h-16.3zM193.5 228.7h8.3v2.2h-8.3zM241.8 228.7h16.3v2.2h-16.3zM298.1 228.7h4.3v2.2h-4.3zM193.5 230.7h8.3v2.2h-8.3zM241.8 230.7h16.3v2.2h-16.3zM298.1 230.7h4.3v2.2h-4.3zM193.5 232.7h4.3v2.2h-4.3zM237.7 232.7h20.4v2.2h-20.4zM290.0 232.7h12.3v2.2h-12.3zM193.5 234.7h4.3v2.2h-4.3zM237.7 234.7h20.4v2.2h-20.4zM290.0 234.7h12.3v2.2h-12.3zM193.5 236.7h4.3v2.2h-4.3zM205.6 236.7h4.3v2.2h-4.3zM245.8 236.7h12.3v2.2h-12.3zM302.1 236.7h4.3v2.2h-4.3zM193.5 238.7h4.3v2.2h-4.3zM205.6 238.7h4.3v2.2h-4.3zM245.8 238.7h12.3v2.2h-12.3zM302.1 238.7h4.3v2.2h-4.3zM197.5 240.6h12.3v2.2h-12.3zM221.7 240.6h8.3v2.2h-8.3zM245.8 240.6h20.4v2.2h-20.4zM302.1 240.6h4.3v2.2h-4.3zM197.5 242.6h12.3v2.2h-12.3zM221.7 242.6h8.3v2.2h-8.3zM245.8 242.6h20.4v2.2h-20.4zM302.1 242.6h4.3v2.2h-4.3zM217.6 244.6h12.3v2.2h-12.3zM241.8 244.6h12.3v2.2h-12.3zM290.0 244.6h16.3v2.2h-16.3zM217.6 246.6h12.3v2.2h-12.3zM241.8 246.6h12.3v2.2h-12.3zM290.0 246.6h16.3v2.2h-16.3zM241.8 248.6h4.3v2.2h-4.3zM290.0 248.6h4.3v2.2h-4.3zM241.8 250.6h4.3v2.2h-4.3zM290.0 250.6h4.3v2.2h-4.3zM290.0 252.5h4.3v2.2h-4.3zM290.0 254.5h4.3v2.2h-4.3zM229.7 256.5h4.3v2.2h-4.3zM273.9 256.5h8.3v2.2h-8.3zM290.0 256.5h8.3v2.2h-8.3zM229.7 258.5h4.3v2.2h-4.3zM273.9 258.5h8.3v2.2h-8.3zM290.0 258.5h8.3v2.2h-8.3zM225.7 260.5h4.3v2.2h-4.3zM225.7 262.4h4.3v2.2h-4.3zM225.7 264.4h4.3v2.2h-4.3zM269.9 264.4h8.3v2.2h-8.3zM225.7 266.4h4.3v2.2h-4.3zM269.9 266.4h8.3v2.2h-8.3zM225.7 268.4h4.3v2.2h-4.3zM269.9 268.4h12.3v2.2h-12.3zM310.1 268.4h8.3v2.2h-8.3zM225.7 270.4h4.3v2.2h-4.3zM269.9 270.4h12.3v2.2h-12.3zM310.1 270.4h8.3v2.2h-8.3zM225.7 272.4h4.3v2.2h-4.3zM273.9 272.4h12.3v2.2h-12.3zM306.1 272.4h16.3v2.2h-16.3zM225.7 274.4h4.3v2.2h-4.3zM273.9 274.4h12.3v2.2h-12.3zM306.1 274.4h16.3v2.2h-16.3zM225.7 276.3h8.3v2.2h-8.3zM269.9 276.3h8.3v2.2h-8.3zM306.1 276.3h4.3v2.2h-4.3zM318.2 276.3h4.3v2.2h-4.3zM225.7 278.3h8.3v2.2h-8.3zM269.9 278.3h8.3v2.2h-8.3zM306.1 278.3h4.3v2.2h-4.3zM318.2 278.3h4.3v2.2h-4.3zM225.7 280.3h8.3v2.2h-8.3zM265.9 280.3h4.3v2.2h-4.3zM306.1 280.3h16.3v2.2h-16.3zM225.7 282.3h8.3v2.2h-8.3zM265.9 282.3h4.3v2.2h-4.3zM306.1 282.3h16.3v2.2h-16.3zM225.7 284.3h4.3v2.2h-4.3zM233.7 284.3h8.3v2.2h-8.3zM257.9 284.3h8.3v2.2h-8.3zM225.7 286.2h6.3v2.2h-6.3zM233.7 286.2h8.3v2.2h-8.3zM257.9 286.2h8.3v2.2h-8.3zM221.7 288.2h20.4v2.2h-20.4zM257.9 288.2h8.3v2.2h-8.3zM221.7 290.2h20.4v2.2h-20.4zM257.9 290.2h8.3v2.2h-8.3zM217.6 292.2h20.4v2.2h-20.4zM257.9 292.2h8.3v2.2h-8.3zM298.1 292.2h8.3v2.2h-8.3zM217.6 294.2h20.4v2.2h-20.4zM257.9 294.2h8.3v2.2h-8.3zM298.1 294.2h8.3v2.2h-8.3zM197.5 296.2h8.3v2.2h-8.3zM233.7 296.2h8.3v2.2h-8.3zM298.1 296.2h8.3v2.2h-8.3zM197.5 298.2h8.3v2.2h-8.3zM233.7 298.2h8.3v2.2h-8.3zM298.1 298.2h8.3v2.2h-8.3zM233.7 300.1h16.3v2.2h-16.3zM233.7 302.1h16.3v2.2h-16.3zM253.8 304.1h4.3v2.2h-4.3zM253.8 306.1h4.3v2.2h-4.3zM314.2 308.1h8.3v2.2h-8.3zM314.2 310.1h8.3v2.2h-8.3zM229.7 312.0h12.3v2.2h-12.3zM265.9 312.0h4.3v2.2h-4.3zM306.1 312.0h8.3v2.2h-8.3zM229.7 314.0h12.3v2.2h-12.3zM265.9 314.0h4.3v2.2h-4.3zM306.1 314.0h8.3v2.2h-8.3zM229.7 316.0h12.3v2.2h-12.3zM269.9 316.0h8.3v2.2h-8.3zM302.1 316.0h4.3v2.2h-4.3zM229.7 318.0h12.3v2.2h-12.3zM269.9 318.0h8.3v2.2h-8.3zM302.1 318.0h4.3v2.2h-4.3zM229.7 320.0h12.3v2.2h-12.3zM273.9 320.0h8.3v2.2h-8.3zM298.1 320.0h8.3v2.2h-8.3zM229.7 322.0h12.3v2.2h-12.3zM273.9 322.0h8.3v2.2h-8.3zM298.1 322.0h8.3v2.2h-8.3zM278.0 323.9h8.3v2.2h-8.3zM294.0 323.9h4.3v2.2h-4.3zM302.1 323.9h8.3v2.2h-8.3zM278.0 325.9h8.3v2.2h-8.3zM294.0 325.9h4.3v2.2h-4.3zM302.1 325.9h8.3v2.2h-8.3zM213.6 327.9h16.3v2.2h-16.3zM278.0 327.9h4.3v2.2h-4.3zM302.1 327.9h12.3v2.2h-12.3zM213.6 329.9h16.3v2.2h-16.3zM278.0 329.9h4.3v2.2h-4.3zM302.1 329.9h12.3v2.2h-12.3zM193.5 331.9h8.3v2.2h-8.3zM209.6 331.9h4.3v2.2h-4.3zM221.7 331.9h4.3v2.2h-4.3zM253.8 331.9h4.3v2.2h-4.3zM278.0 331.9h4.3v2.2h-4.3zM306.1 331.9h4.3v2.2h-4.3zM193.5 333.9h8.3v2.2h-8.3zM209.6 333.9h4.3v2.2h-4.3zM221.7 333.9h4.3v2.2h-4.3zM253.8 333.9h4.3v2.2h-4.3zM278.0 333.9h4.3v2.2h-4.3zM306.1 333.9h4.3v2.2h-4.3zM193.5 335.8h12.3v2.2h-12.3zM209.6 335.8h4.3v2.2h-4.3zM221.7 335.8h8.3v2.2h-8.3zM273.9 335.8h8.3v2.2h-8.3zM193.5 337.8h12.3v2.2h-12.3zM209.6 337.8h4.3v2.2h-4.3zM221.7 337.8h8.3v2.2h-8.3zM273.9 337.8h8.3v2.2h-8.3zM193.5 339.8h16.3v2.2h-16.3zM213.6 339.8h12.3v2.2h-12.3zM269.9 339.8h8.3v2.2h-8.3zM193.5 341.8h16.3v2.2h-16.3zM213.6 341.8h12.3v2.2h-12.3zM269.9 341.8h8.3v2.2h-8.3zM193.5 343.8h16.3v2.2h-16.3zM265.9 343.8h8.3v2.2h-8.3zM193.5 345.8h16.3v2.2h-16.3zM265.9 345.8h8.3v2.2h-8.3zM193.5 347.7h12.3v2.2h-12.3zM225.7 347.7h4.3v2.2h-4.3zM193.5 349.7h12.3v2.2h-12.3zM225.7 349.7h4.3v2.2h-4.3zM237.7 351.7h4.3v2.2h-4.3zM245.8 351.7h4.3v2.2h-4.3zM237.7 353.7h4.3v2.2h-4.3zM245.8 353.7h4.3v2.2h-4.3zM237.7 355.7h12.3v2.2h-12.3zM237.7 357.6h12.3v2.2h-12.3zM237.7 359.6h12.3v2.2h-12.3zM237.7 361.6h12.3v2.2h-12.3z"/>
<path fill="#3ea4ac" d="M229.7 220.8h4.3v2.2h-4.3zM237.7 220.8h4.3v2.2h-4.3zM261.9 220.8h4.3v2.2h-4.3zM286.0 220.8h36.4v2.2h-36.4zM229.7 222.8h4.3v2.2h-4.3zM237.7 222.8h4.3v2.2h-4.3zM261.9 222.8h4.3v2.2h-4.3zM286.0 222.8h36.4v2.2h-36.4zM205.6 224.8h12.3v2.2h-12.3zM229.7 224.8h4.3v2.2h-4.3zM237.7 224.8h4.3v2.2h-4.3zM282.0 224.8h12.3v2.2h-12.3zM306.1 224.8h16.3v2.2h-16.3zM205.6 226.8h12.3v2.2h-12.3zM229.7 226.8h4.3v2.2h-4.3zM237.7 226.8h4.3v2.2h-4.3zM282.0 226.8h12.3v2.2h-12.3zM306.1 226.8h16.3v2.2h-16.3zM205.6 228.7h16.3v2.2h-16.3zM229.7 228.7h4.3v2.2h-4.3zM237.7 228.7h4.3v2.2h-4.3zM257.9 228.7h8.3v2.2h-8.3zM282.0 228.7h8.3v2.2h-8.3zM310.1 228.7h12.3v2.2h-12.3zM205.6 230.7h16.3v2.2h-16.3zM229.7 230.7h4.3v2.2h-4.3zM237.7 230.7h4.3v2.2h-4.3zM257.9 230.7h8.3v2.2h-8.3zM282.0 230.7h8.3v2.2h-8.3zM310.1 230.7h12.3v2.2h-12.3zM205.6 232.7h4.3v2.2h-4.3zM217.6 232.7h4.3v2.2h-4.3zM233.7 232.7h4.3v2.2h-4.3zM257.9 232.7h12.3v2.2h-12.3zM278.0 232.7h8.3v2.2h-8.3zM306.1 232.7h16.3v2.2h-16.3zM205.6 234.7h4.3v2.2h-4.3zM217.6 234.7h4.3v2.2h-4.3zM233.7 234.7h4.3v2.2h-4.3zM257.9 234.7h12.3v2.2h-12.3zM278.0 234.7h8.3v2.2h-8.3zM306.1 234.7h16.3v2.2h-16.3zM209.6 236.7h4.3v2.2h-4.3zM217.6 236.7h4.3v2.2h-4.3zM261.9 236.7h24.4v2.2h-24.4zM306.1 236.7h16.3v2.2h-16.3zM209.6 238.7h4.3v2.2h-4.3zM217.6 238.7h4.3v2.2h-4.3zM261.9 238.7h24.4v2.2h-24.4zM306.1 238.7h16.3v2.2h-16.3zM213.6 240.6h8.3v2.2h-8.3zM282.0 240.6h4.3v2.2h-4.3zM306.1 240.6h16.3v2.2h-16.3zM213.6 242.6h8.3v2.2h-8.3zM282.0 242.6h4.3v2.2h-4.3zM306.1 242.6h16.3v2.2h-16.3zM229.7 244.6h8.3v2.2h-8.3zM253.8 244.6h4.3v2.2h-4.3zM306.1 244.6h16.3v2.2h-16.3zM229.7 246.6h8.3v2.2h-8.3zM253.8 246.6h4.3v2.2h-4.3zM306.1 246.6h16.3v2.2h-16.3zM213.6 248.6h8.3v2.2h-8.3zM245.8 248.6h12.3v2.2h-12.3zM282.0 248.6h8.3v2.2h-8.3zM294.0 248.6h16.3v2.2h-16.3zM314.2 248.6h8.3v2.2h-8.3zM213.6 250.6h8.3v2.2h-8.3zM245.8 250.6h12.3v2.2h-12.3zM282.0 250.6h8.3v2.2h-8.3zM294.0 250.6h16.3v2.2h-16.3zM314.2 250.6h8.3v2.2h-8.3zM197.5 252.5h8.3v2.2h-8.3zM217.6 252.5h8.3v2.2h-8.3zM233.7 252.5h12.3v2.2h-12.3zM257.9 252.5h4.3v2.2h-4.3zM286.0 252.5h4.3v2.2h-4.3zM298.1 252.5h8.3v2.2h-8.3zM314.2 252.5h8.3v2.2h-8.3zM197.5 254.5h8.3v2.2h-8.3zM217.6 254.5h8.3v2.2h-8.3zM233.7 254.5h12.3v2.2h-12.3zM257.9 254.5h4.3v2.2h-4.3zM286.0 254.5h4.3v2.2h-4.3zM298.1 254.5h8.3v2.2h-8.3zM314.2 254.5h8.3v2.2h-8.3zM233.7 256.5h4.3v2.2h-4.3zM253.8 256.5h4.3v2.2h-4.3zM282.0 256.5h8.3v2.2h-8.3zM298.1 256.5h24.4v2.2h-24.4zM233.7 258.5h4.3v2.2h-4.3zM253.8 258.5h4.3v2.2h-4.3zM282.0 258.5h8.3v2.2h-8.3zM298.1 258.5h24.4v2.2h-24.4zM229.7 260.5h4.3v2.2h-4.3zM245.8 260.5h12.3v2.2h-12.3zM286.0 260.5h8.3v2.2h-8.3zM298.1 260.5h16.3v2.2h-16.3zM318.2 260.5h4.3v2.2h-4.3zM229.7 262.4h4.3v2.2h-4.3zM245.8 262.4h12.3v2.2h-12.3zM286.0 262.4h8.3v2.2h-8.3zM298.1 262.4h16.3v2.2h-16.3zM318.2 262.4h4.3v2.2h-4.3zM229.7 264.4h4.3v2.2h-4.3zM241.8 264.4h4.3v2.2h-4.3zM290.0 264.4h4.3v2.2h-4.3zM302.1 264.4h4.3v2.2h-4.3zM318.2 264.4h4.3v2.2h-4.3zM229.7 266.4h4.3v2.2h-4.3zM241.8 266.4h4.3v2.2h-4.3zM290.0 266.4h4.3v2.2h-4.3zM302.1 266.4h4.3v2.2h-4.3zM318.2 266.4h4.3v2.2h-4.3zM229.7 268.4h4.3v2.2h-4.3zM302.1 268.4h4.3v2.2h-4.3zM229.7 270.4h4.3v2.2h-4.3zM302.1 270.4h4.3v2.2h-4.3zM229.7 272.4h8.3v2.2h-8.3zM294.0 272.4h4.3v2.2h-4.3zM229.7 274.4h8.3v2.2h-8.3zM294.0 274.4h4.3v2.2h-4.3zM294.0 276.3h4.3v2.2h-4.3zM294.0 278.3h4.3v2.2h-4.3zM269.9 280.3h12.3v2.2h-12.3zM269.9 282.3h12.3v2.2h-12.3zM245.8 284.3h8.3v2.2h-8.3zM265.9 284.3h20.4v2.2h-20.4zM298.1 284.3h8.3v2.2h-8.3zM245.8 286.2h8.3v2.2h-8.3zM265.9 286.2h20.4v2.2h-20.4zM298.1 286.2h8.3v2.2h-8.3zM241.8 288.2h12.3v2.2h-12.3zM265.9 288.2h20.4v2.2h-20.4zM298.1 288.2h24.4v2.2h-24.4zM241.8 290.2h12.3v2.2h-12.3zM265.9 290.2h20.4v2.2h-20.4zM298.1 290.2h24.4v2.2h-24.4zM237.7 292.2h20.4v2.2h-20.4zM265.9 292.2h4.3v2.2h-4.3zM282.0 292.2h16.3v2.2h-16.3zM306.1 292.2h4.3v2.2h-4.3zM318.2 292.2h4.3v2.2h-4.3zM237.7 294.2h20.4v2.2h-20.4zM265.9 294.2h4.3v2.2h-4.3zM282.0 294.2h16.3v2.2h-16.3zM306.1 294.2h4.3v2.2h-4.3zM318.2 294.2h4.3v2.2h-4.3zM241.8 296.2h32.4v2.2h-32.4zM282.0 296.2h16.3v2.2h-16.3zM314.2 296.2h8.3v2.2h-8.3zM241.8 298.2h32.4v2.2h-32.4zM282.0 298.2h16.3v2.2h-16.3zM314.2 298.2h8.3v2.2h-8.3zM209.6 300.1h4.3v2.2h-4.3zM249.8 300.1h12.3v2.2h-12.3zM282.0 300.1h12.3v2.2h-12.3zM209.6 302.1h4.3v2.2h-4.3zM249.8 302.1h12.3v2.2h-12.3zM282.0 302.1h12.3v2.2h-12.3zM205.6 304.1h8.3v2.2h-8.3zM205.6 306.1h8.3v2.2h-8.3zM201.5 308.1h8.3v2.2h-8.3zM201.5 310.1h8.3v2.2h-8.3zM201.5 312.0h4.3v2.2h-4.3zM201.5 314.0h4.3v2.2h-4.3zM197.5 316.0h8.3v2.2h-8.3zM310.1 316.0h12.3v2.2h-12.3zM197.5 318.0h8.3v2.2h-8.3zM310.1 318.0h12.3v2.2h-12.3zM197.5 320.0h4.3v2.2h-4.3zM314.2 320.0h8.3v2.2h-8.3zM197.5 322.0h4.3v2.2h-4.3zM314.2 322.0h8.3v2.2h-8.3zM193.5 323.9h8.3v2.2h-8.3zM318.2 323.9h4.3v2.2h-4.3zM193.5 325.9h8.3v2.2h-8.3zM318.2 325.9h4.3v2.2h-4.3zM193.5 327.9h4.3v2.2h-4.3zM193.5 329.9h4.3v2.2h-4.3zM225.7 331.9h16.3v2.2h-16.3zM225.7 333.9h16.3v2.2h-16.3zM229.7 335.8h12.3v2.2h-12.3zM245.8 335.8h8.3v2.2h-8.3zM318.2 335.8h4.3v2.2h-4.3zM229.7 337.8h12.3v2.2h-12.3zM245.8 337.8h8.3v2.2h-8.3zM318.2 337.8h4.3v2.2h-4.3zM233.7 339.8h4.3v2.2h-4.3zM245.8 339.8h8.3v2.2h-8.3zM298.1 339.8h8.3v2.2h-8.3zM318.2 339.8h4.3v2.2h-4.3zM233.7 341.8h4.3v2.2h-4.3zM245.8 341.8h8.3v2.2h-8.3zM298.1 341.8h8.3v2.2h-8.3zM318.2 341.8h4.3v2.2h-4.3zM298.1 343.8h8.3v2.2h-8.3zM318.2 343.8h4.3v2.2h-4.3zM298.1 345.8h8.3v2.2h-8.3zM318.2 345.8h4.3v2.2h-4.3zM261.9 347.7h8.3v2.2h-8.3zM298.1 347.7h12.3v2.2h-12.3zM261.9 349.7h8.3v2.2h-8.3zM298.1 349.7h12.3v2.2h-12.3zM269.9 351.7h16.3v2.2h-16.3zM298.1 351.7h12.3v2.2h-12.3zM269.9 353.7h16.3v2.2h-16.3zM298.1 353.7h12.3v2.2h-12.3zM253.8 355.7h4.3v2.2h-4.3zM269.9 355.7h16.3v2.2h-16.3zM298.1 355.7h8.3v2.2h-8.3zM253.8 357.6h4.3v2.2h-4.3zM269.9 357.6h16.3v2.2h-16.3zM298.1 357.6h8.3v2.2h-8.3zM249.8 359.6h8.3v2.2h-8.3zM278.0 359.6h4.3v2.2h-4.3zM249.8 361.6h8.3v2.2h-8.3zM278.0 361.6h4.3v2.2h-4.3z"/>
<path fill="#5b4ca2" d="M233.7 220.8h4.3v2.2h-4.3zM265.9 220.8h20.4v2.2h-20.4zM233.7 222.8h4.3v2.2h-4.3zM265.9 222.8h20.4v2.2h-20.4zM233.7 224.8h4.3v2.2h-4.3zM261.9 224.8h20.4v2.2h-20.4zM233.7 226.8h4.3v2.2h-4.3zM261.9 226.8h20.4v2.2h-20.4zM233.7 228.7h4.3v2.2h-4.3zM265.9 228.7h16.3v2.2h-16.3zM233.7 230.7h4.3v2.2h-4.3zM265.9 230.7h16.3v2.2h-16.3zM209.6 232.7h8.3v2.2h-8.3zM269.9 232.7h8.3v2.2h-8.3zM209.6 234.7h8.3v2.2h-8.3zM269.9 234.7h8.3v2.2h-8.3zM213.6 236.7h4.3v2.2h-4.3zM213.6 238.7h4.3v2.2h-4.3zM257.9 248.6h24.4v2.2h-24.4zM257.9 250.6h24.4v2.2h-24.4zM245.8 252.5h12.3v2.2h-12.3zM261.9 252.5h24.4v2.2h-24.4zM245.8 254.5h12.3v2.2h-12.3zM261.9 254.5h24.4v2.2h-24.4zM237.7 256.5h16.3v2.2h-16.3zM237.7 258.5h16.3v2.2h-16.3zM233.7 260.5h12.3v2.2h-12.3zM314.2 260.5h4.3v2.2h-4.3zM233.7 262.4h12.3v2.2h-12.3zM314.2 262.4h4.3v2.2h-4.3zM233.7 264.4h8.3v2.2h-8.3zM233.7 266.4h8.3v2.2h-8.3zM233.7 268.4h4.3v2.2h-4.3zM233.7 270.4h4.3v2.2h-4.3zM298.1 272.4h4.3v2.2h-4.3zM298.1 274.4h4.3v2.2h-4.3zM298.1 276.3h8.3v2.2h-8.3zM298.1 278.3h8.3v2.2h-8.3zM298.1 280.3h8.3v2.2h-8.3zM298.1 282.3h8.3v2.2h-8.3zM306.1 284.3h16.3v2.2h-16.3zM306.1 286.2h16.3v2.2h-16.3zM310.1 292.2h8.3v2.2h-8.3zM310.1 294.2h8.3v2.2h-8.3zM282.0 359.6h8.3v2.2h-8.3zM282.0 361.6h8.3v2.2h-8.3z"/>
</g></g>
<rect x="193.50" y="220.80" width="128.70" height="142.80" fill="none" stroke="#1c1c1c" stroke-width="1.4"/>
<path d="M214.5 218.2V220.8 M256.1 218.2V220.8 M298.0 218.2V220.8 M219.1 363.6V366.6 M261.5 363.6V366.6 M303.2 363.6V366.6 M190.7 244.0H193.5 M190.7 296.0H193.5 M190.7 350.9H193.5 M322.2 238.3H325.0 M322.2 289.7H325.0 M322.2 345.0H325.0" stroke="#1c1c1c" stroke-width="1" fill="none"/>
<text x="214.4" y="215.9" font-size="8.5" text-anchor="middle">114°15'0&quot;E</text>
<text x="298.6" y="215.9" font-size="8.5" text-anchor="middle">114°35'0&quot;E</text>
<text x="221.0" y="375.1" font-size="8.5" text-anchor="middle">114°15'0&quot;E</text>
<text x="306.6" y="375.1" font-size="8.5" text-anchor="middle">114°35'0&quot;E</text>
<text x="0" y="0" font-size="8.5" text-anchor="middle" transform="translate(188.5,243.7) rotate(-90)">30°45'0&quot;N</text>
<text x="0" y="0" font-size="8.5" text-anchor="middle" transform="translate(188.5,296.0) rotate(-90)">30°35'0&quot;N</text>
<text x="0" y="0" font-size="8.5" text-anchor="middle" transform="translate(188.5,345.0) rotate(-90)">30°25'0&quot;N</text>
<text x="0" y="0" font-size="8.5" text-anchor="middle" transform="translate(333.4,234.1) rotate(-90)">30°45'0&quot;N</text>
<text x="0" y="0" font-size="8.5" text-anchor="middle" transform="translate(333.4,287.0) rotate(-90)">30°35'0&quot;N</text>
<text x="0" y="0" font-size="8.5" text-anchor="middle" transform="translate(333.4,341.3) rotate(-90)">30°25'0&quot;N</text>
<text x="255.6" y="207.4" font-size="11.5" text-anchor="middle">(e)</text>
<clipPath id="cpf"><rect x="370.80" y="219.70" width="128.90" height="143.30"/></clipPath>
<g clip-path="url(#cpf)"><g filter="url(#bl)">
<rect x="368.80" y="217.70" width="132.90" height="147.30" fill="#afdb9a"/>
<path fill="#9e0142" d="M435.2 259.5h8.3v2.2h-8.3zM435.2 261.5h8.3v2.2h-8.3zM374.8 263.5h4.3v2.2h-4.3zM431.2 263.5h12.3v2.2h-12.3zM374.8 265.5h4.3v2.2h-4.3zM431.2 265.5h12.3v2.2h-12.3zM370.8 267.5h8.3v2.2h-8.3zM431.2 267.5h12.3v2.2h-12.3zM370.8 269.5h8.3v2.2h-8.3zM431.2 269.5h12.3v2.2h-12.3zM370.8 271.4h8.3v2.2h-8.3zM431.2 271.4h12.3v2.2h-12.3zM370.8 273.4h8.3v2.2h-8.3zM431.2 273.4h12.3v2.2h-12.3zM370.8 275.4h8.3v2.2h-8.3zM431.2 275.4h16.4v2.2h-16.4zM370.8 277.4h8.3v2.2h-8.3zM431.2 277.4h16.4v2.2h-16.4zM370.8 279.4h8.3v2.2h-8.3zM435.2 279.4h8.3v2.2h-8.3zM370.8 281.4h8.3v2.2h-8.3zM435.2 281.4h8.3v2.2h-8.3zM378.9 283.4h8.3v2.2h-8.3zM378.9 285.4h8.3v2.2h-8.3zM439.3 291.4h4.3v2.2h-4.3zM459.4 291.4h4.3v2.2h-4.3zM439.3 293.3h4.3v2.2h-4.3zM459.4 293.3h4.3v2.2h-4.3zM399.0 295.3h12.3v2.2h-12.3zM399.0 297.3h12.3v2.2h-12.3zM395.0 299.3h20.4v2.2h-20.4zM395.0 301.3h20.4v2.2h-20.4zM370.8 303.3h8.3v2.2h-8.3zM395.0 303.3h20.4v2.2h-20.4zM370.8 305.3h8.3v2.2h-8.3zM395.0 305.3h20.4v2.2h-20.4zM370.8 307.3h4.3v2.2h-4.3zM395.0 307.3h16.4v2.2h-16.4zM419.1 307.3h12.3v2.2h-12.3zM370.8 309.3h4.3v2.2h-4.3zM395.0 309.3h16.4v2.2h-16.4zM419.1 309.3h12.3v2.2h-12.3zM399.0 311.3h8.3v2.2h-8.3zM419.1 311.3h16.4v2.2h-16.4zM463.4 311.3h8.3v2.2h-8.3zM399.0 313.2h8.3v2.2h-8.3zM419.1 313.2h16.4v2.2h-16.4zM463.4 313.2h8.3v2.2h-8.3zM423.2 315.2h12.3v2.2h-12.3zM459.4 315.2h12.3v2.2h-12.3zM423.2 317.2h12.3v2.2h-12.3zM459.4 317.2h12.3v2.2h-12.3zM423.2 319.2h12.3v2.2h-12.3zM423.2 321.2h12.3v2.2h-12.3zM435.2 323.2h4.3v2.2h-4.3zM435.2 325.2h4.3v2.2h-4.3zM449.3 335.1h2.3v2.2h-2.3zM447.3 337.1h4.3v2.2h-4.3zM395.0 343.1h8.3v2.2h-8.3zM395.0 345.1h8.3v2.2h-8.3zM390.9 347.1h8.3v2.2h-8.3zM390.9 349.1h8.3v2.2h-8.3zM407.1 355.0h4.3v2.2h-4.3zM407.1 357.0h4.3v2.2h-4.3zM403.0 359.0h8.3v2.2h-8.3zM403.0 361.0h8.3v2.2h-8.3z"/>
<path fill="#e95b3d" d="M374.8 219.7h4.3v2.2h-4.3zM374.8 221.7h4.3v2.2h-4.3zM467.5 235.6h12.3v2.2h-12.3zM467.5 237.6h12.3v2.2h-12.3zM378.9 239.6h12.3v2.2h-12.3zM467.5 239.6h12.3v2.2h-12.3zM378.9 241.6h12.3v2.2h-12.3zM467.5 241.6h12.3v2.2h-12.3zM403.0 251.5h8.3v2.2h-8.3zM403.0 253.5h8.3v2.2h-8.3zM403.0 255.5h8.3v2.2h-8.3zM403.0 257.5h8.3v2.2h-8.3zM370.8 259.5h12.3v2.2h-12.3zM431.2 259.5h4.3v2.2h-4.3zM370.8 261.5h12.3v2.2h-12.3zM431.2 261.5h4.3v2.2h-4.3zM370.8 263.5h4.3v2.2h-4.3zM378.9 263.5h4.3v2.2h-4.3zM427.2 263.5h4.3v2.2h-4.3zM443.3 263.5h4.3v2.2h-4.3zM370.8 265.5h4.3v2.2h-4.3zM378.9 265.5h4.3v2.2h-4.3zM427.2 265.5h4.3v2.2h-4.3zM443.3 265.5h4.3v2.2h-4.3zM378.9 267.5h8.3v2.2h-8.3zM411.1 267.5h8.3v2.2h-8.3zM423.2 267.5h8.3v2.2h-8.3zM443.3 267.5h4.3v2.2h-4.3zM378.9 269.5h8.3v2.2h-8.3zM411.1 269.5h8.3v2.2h-8.3zM423.2 269.5h8.3v2.2h-8.3zM443.3 269.5h4.3v2.2h-4.3zM378.9 271.4h8.3v2.2h-8.3zM407.1 271.4h24.4v2.2h-24.4zM443.3 271.4h4.3v2.2h-4.3zM378.9 273.4h8.3v2.2h-8.3zM407.1 273.4h24.4v2.2h-24.4zM443.3 273.4h4.3v2.2h-4.3zM378.9 275.4h12.3v2.2h-12.3zM415.1 275.4h16.4v2.2h-16.4zM447.3 275.4h4.3v2.2h-4.3zM378.9 277.4h12.3v2.2h-12.3zM415.1 277.4h16.4v2.2h-16.4zM447.3 277.4h4.3v2.2h-4.3zM378.9 279.4h12.3v2.2h-12.3zM419.1 279.4h16.4v2.2h-16.4zM443.3 279.4h4.3v2.2h-4.3zM378.9 281.4h12.3v2.2h-12.3zM419.1 281.4h16.4v2.2h-16.4zM443.3 281.4h4.3v2.2h-4.3zM370.8 283.4h8.3v2.2h-8.3zM386.9 283.4h8.3v2.2h-8.3zM407.1 283.4h16.4v2.2h-16.4zM435.2 283.4h8.3v2.2h-8.3zM370.8 285.4h8.3v2.2h-8.3zM386.9 285.4h8.3v2.2h-8.3zM407.1 285.4h16.4v2.2h-16.4zM435.2 285.4h8.3v2.2h-8.3zM370.8 287.4h20.4v2.2h-20.4zM407.1 287.4h16.4v2.2h-16.4zM435.2 287.4h4.3v2.2h-4.3zM370.8 289.4h20.4v2.2h-20.4zM407.1 289.4h16.4v2.2h-16.4zM435.2 289.4h4.3v2.2h-4.3zM370.8 291.4h8.3v2.2h-8.3zM403.0 291.4h4.3v2.2h-4.3zM443.3 291.4h4.3v2.2h-4.3zM455.4 291.4h4.3v2.2h-4.3zM370.8 293.3h8.3v2.2h-8.3zM403.0 293.3h4.3v2.2h-4.3zM443.3 293.3h4.3v2.2h-4.3zM455.4 293.3h4.3v2.2h-4.3zM370.8 295.3h4.3v2.2h-4.3zM411.1 295.3h4.3v2.2h-4.3zM439.3 295.3h4.3v2.2h-4.3zM455.4 295.3h8.3v2.2h-8.3zM370.8 297.3h4.3v2.2h-4.3zM411.1 297.3h4.3v2.2h-4.3zM439.3 297.3h4.3v2.2h-4.3zM455.4 297.3h8.3v2.2h-8.3zM415.1 299.3h12.3v2.2h-12.3zM483.6 299.3h4.3v2.2h-4.3zM415.1 301.3h12.3v2.2h-12.3zM483.6 301.3h4.3v2.2h-4.3zM415.1 303.3h20.4v2.2h-20.4zM415.1 305.3h20.4v2.2h-20.4zM374.8 307.3h4.3v2.2h-4.3zM390.9 307.3h4.3v2.2h-4.3zM411.1 307.3h8.3v2.2h-8.3zM431.2 307.3h4.3v2.2h-4.3zM374.8 309.3h4.3v2.2h-4.3zM390.9 309.3h4.3v2.2h-4.3zM411.1 309.3h8.3v2.2h-8.3zM431.2 309.3h4.3v2.2h-4.3zM370.8 311.3h4.3v2.2h-4.3zM390.9 311.3h8.3v2.2h-8.3zM407.1 311.3h4.3v2.2h-4.3zM415.1 311.3h4.3v2.2h-4.3zM455.4 311.3h8.3v2.2h-8.3zM471.5 311.3h4.3v2.2h-4.3zM370.8 313.2h4.3v2.2h-4.3zM390.9 313.2h8.3v2.2h-8.3zM407.1 313.2h4.3v2.2h-4.3zM415.1 313.2h4.3v2.2h-4.3zM455.4 313.2h8.3v2.2h-8.3zM471.5 313.2h4.3v2.2h-4.3zM390.9 315.2h16.4v2.2h-16.4zM419.1 315.2h4.3v2.2h-4.3zM435.2 315.2h8.3v2.2h-8.3zM455.4 315.2h4.3v2.2h-4.3zM471.5 315.2h4.3v2.2h-4.3zM390.9 317.2h16.4v2.2h-16.4zM419.1 317.2h4.3v2.2h-4.3zM435.2 317.2h8.3v2.2h-8.3zM455.4 317.2h4.3v2.2h-4.3zM471.5 317.2h4.3v2.2h-4.3zM395.0 319.2h16.4v2.2h-16.4zM415.1 319.2h8.3v2.2h-8.3zM435.2 319.2h16.4v2.2h-16.4zM395.0 321.2h16.4v2.2h-16.4zM415.1 321.2h8.3v2.2h-8.3zM435.2 321.2h16.4v2.2h-16.4zM415.1 323.2h20.4v2.2h-20.4zM439.3 323.2h16.4v2.2h-16.4zM415.1 325.2h20.4v2.2h-20.4zM439.3 325.2h16.4v2.2h-16.4zM435.2 327.2h20.4v2.2h-20.4zM435.2 329.2h20.4v2.2h-20.4zM435.2 331.2h20.4v2.2h-20.4zM435.2 333.1h20.4v2.2h-20.4zM435.2 335.1h14.3v2.2h-14.3zM451.4 335.1h4.3v2.2h-4.3zM435.2 337.1h12.3v2.2h-12.3zM451.4 337.1h4.3v2.2h-4.3zM435.2 339.1h16.4v2.2h-16.4zM435.2 341.1h16.4v2.2h-16.4zM386.9 343.1h8.3v2.2h-8.3zM403.0 343.1h4.3v2.2h-4.3zM386.9 345.1h8.3v2.2h-8.3zM403.0 345.1h4.3v2.2h-4.3zM382.9 347.1h8.3v2.2h-8.3zM399.0 347.1h12.3v2.2h-12.3zM382.9 349.1h8.3v2.2h-8.3zM399.0 349.1h12.3v2.2h-12.3zM390.9 351.1h8.3v2.2h-8.3zM403.0 351.1h12.3v2.2h-12.3zM390.9 353.0h8.3v2.2h-8.3zM403.0 353.0h12.3v2.2h-12.3zM403.0 355.0h4.3v2.2h-4.3zM411.1 355.0h8.3v2.2h-8.3zM403.0 357.0h4.3v2.2h-4.3zM411.1 357.0h8.3v2.2h-8.3zM411.1 359.0h8.3v2.2h-8.3zM411.1 361.0h8.3v2.2h-8.3z"/>
<path fill="#fcad62" d="M378.9 235.6h8.3v2.2h-8.3zM459.4 235.6h8.3v2.2h-8.3zM378.9 237.6h8.3v2.2h-8.3zM459.4 237.6h8.3v2.2h-8.3zM455.4 239.6h12.3v2.2h-12.3zM455.4 241.6h12.3v2.2h-12.3zM390.9 251.5h8.3v2.2h-8.3zM471.5 251.5h4.3v2.2h-4.3zM390.9 253.5h8.3v2.2h-8.3zM471.5 253.5h4.3v2.2h-4.3zM386.9 255.5h8.3v2.2h-8.3zM471.5 255.5h4.3v2.2h-4.3zM386.9 257.5h8.3v2.2h-8.3zM471.5 257.5h4.3v2.2h-4.3zM382.9 259.5h12.3v2.2h-12.3zM443.3 259.5h4.3v2.2h-4.3zM382.9 261.5h12.3v2.2h-12.3zM443.3 261.5h4.3v2.2h-4.3zM382.9 263.5h12.3v2.2h-12.3zM447.3 263.5h4.3v2.2h-4.3zM463.4 263.5h4.3v2.2h-4.3zM382.9 265.5h12.3v2.2h-12.3zM447.3 265.5h4.3v2.2h-4.3zM463.4 265.5h4.3v2.2h-4.3zM386.9 267.5h8.3v2.2h-8.3zM447.3 267.5h4.3v2.2h-4.3zM386.9 269.5h8.3v2.2h-8.3zM447.3 269.5h4.3v2.2h-4.3zM386.9 271.4h8.3v2.2h-8.3zM447.3 271.4h4.3v2.2h-4.3zM386.9 273.4h8.3v2.2h-8.3zM447.3 273.4h4.3v2.2h-4.3zM390.9 275.4h8.3v2.2h-8.3zM403.0 275.4h12.3v2.2h-12.3zM451.4 275.4h4.3v2.2h-4.3zM463.4 275.4h8.3v2.2h-8.3zM390.9 277.4h8.3v2.2h-8.3zM403.0 277.4h12.3v2.2h-12.3zM451.4 277.4h4.3v2.2h-4.3zM463.4 277.4h8.3v2.2h-8.3zM390.9 279.4h4.3v2.2h-4.3zM403.0 279.4h16.4v2.2h-16.4zM447.3 279.4h4.3v2.2h-4.3zM463.4 279.4h8.3v2.2h-8.3zM390.9 281.4h4.3v2.2h-4.3zM403.0 281.4h16.4v2.2h-16.4zM447.3 281.4h4.3v2.2h-4.3zM463.4 281.4h8.3v2.2h-8.3zM395.0 283.4h4.3v2.2h-4.3zM427.2 283.4h8.3v2.2h-8.3zM443.3 283.4h4.3v2.2h-4.3zM395.0 285.4h4.3v2.2h-4.3zM427.2 285.4h8.3v2.2h-8.3zM443.3 285.4h4.3v2.2h-4.3zM390.9 287.4h8.3v2.2h-8.3zM431.2 287.4h4.3v2.2h-4.3zM439.3 287.4h4.3v2.2h-4.3zM390.9 289.4h8.3v2.2h-8.3zM431.2 289.4h4.3v2.2h-4.3zM439.3 289.4h4.3v2.2h-4.3zM378.9 291.4h24.4v2.2h-24.4zM407.1 291.4h12.3v2.2h-12.3zM447.3 291.4h8.3v2.2h-8.3zM378.9 293.3h24.4v2.2h-24.4zM407.1 293.3h12.3v2.2h-12.3zM447.3 293.3h8.3v2.2h-8.3zM382.9 295.3h16.4v2.2h-16.4zM415.1 295.3h4.3v2.2h-4.3zM443.3 295.3h12.3v2.2h-12.3zM382.9 297.3h16.4v2.2h-16.4zM415.1 297.3h4.3v2.2h-4.3zM443.3 297.3h12.3v2.2h-12.3zM370.8 299.3h4.3v2.2h-4.3zM382.9 299.3h12.3v2.2h-12.3zM439.3 299.3h20.4v2.2h-20.4zM487.6 299.3h4.3v2.2h-4.3zM370.8 301.3h4.3v2.2h-4.3zM382.9 301.3h12.3v2.2h-12.3zM439.3 301.3h20.4v2.2h-20.4zM487.6 301.3h4.3v2.2h-4.3zM378.9 303.3h8.3v2.2h-8.3zM439.3 303.3h24.4v2.2h-24.4zM467.5 303.3h24.4v2.2h-24.4zM378.9 305.3h8.3v2.2h-8.3zM439.3 305.3h24.4v2.2h-24.4zM467.5 305.3h24.4v2.2h-24.4zM378.9 307.3h4.3v2.2h-4.3zM435.2 307.3h56.6v2.2h-56.6zM378.9 309.3h4.3v2.2h-4.3zM435.2 309.3h56.6v2.2h-56.6zM374.8 311.3h8.3v2.2h-8.3zM435.2 311.3h20.4v2.2h-20.4zM475.5 311.3h20.4v2.2h-20.4zM374.8 313.2h8.3v2.2h-8.3zM435.2 313.2h20.4v2.2h-20.4zM475.5 313.2h20.4v2.2h-20.4zM374.8 315.2h4.3v2.2h-4.3zM443.3 315.2h12.3v2.2h-12.3zM475.5 315.2h20.4v2.2h-20.4zM374.8 317.2h4.3v2.2h-4.3zM443.3 317.2h12.3v2.2h-12.3zM475.5 317.2h20.4v2.2h-20.4zM386.9 319.2h8.3v2.2h-8.3zM451.4 319.2h36.5v2.2h-36.5zM386.9 321.2h8.3v2.2h-8.3zM451.4 321.2h36.5v2.2h-36.5zM382.9 323.2h12.3v2.2h-12.3zM403.0 323.2h12.3v2.2h-12.3zM455.4 323.2h4.3v2.2h-4.3zM467.5 323.2h16.4v2.2h-16.4zM382.9 325.2h12.3v2.2h-12.3zM403.0 325.2h12.3v2.2h-12.3zM455.4 325.2h4.3v2.2h-4.3zM467.5 325.2h16.4v2.2h-16.4zM382.9 327.2h8.3v2.2h-8.3zM411.1 327.2h24.4v2.2h-24.4zM455.4 327.2h4.3v2.2h-4.3zM382.9 329.2h8.3v2.2h-8.3zM411.1 329.2h24.4v2.2h-24.4zM455.4 329.2h4.3v2.2h-4.3zM419.1 331.2h8.3v2.2h-8.3zM455.4 331.2h4.3v2.2h-4.3zM419.1 333.1h8.3v2.2h-8.3zM455.4 333.1h4.3v2.2h-4.3zM386.9 339.1h4.3v2.2h-4.3zM451.4 339.1h4.3v2.2h-4.3zM386.9 341.1h4.3v2.2h-4.3zM451.4 341.1h4.3v2.2h-4.3zM378.9 343.1h8.3v2.2h-8.3zM435.2 343.1h20.4v2.2h-20.4zM378.9 345.1h8.3v2.2h-8.3zM435.2 345.1h20.4v2.2h-20.4zM370.8 347.1h12.3v2.2h-12.3zM411.1 347.1h4.3v2.2h-4.3zM447.3 347.1h4.3v2.2h-4.3zM370.8 349.1h12.3v2.2h-12.3zM411.1 349.1h4.3v2.2h-4.3zM447.3 349.1h4.3v2.2h-4.3zM370.8 351.1h20.4v2.2h-20.4zM399.0 351.1h4.3v2.2h-4.3zM370.8 353.0h20.4v2.2h-20.4zM399.0 353.0h4.3v2.2h-4.3zM374.8 355.0h28.4v2.2h-28.4zM374.8 357.0h28.4v2.2h-28.4zM378.9 359.0h24.4v2.2h-24.4zM378.9 361.0h24.4v2.2h-24.4z"/>
<path fill="#fdfcb6" d="M370.8 219.7h4.3v2.2h-4.3zM378.9 219.7h4.3v2.2h-4.3zM427.2 219.7h4.3v2.2h-4.3zM370.8 221.7h4.3v2.2h-4.3zM378.9 221.7h4.3v2.2h-4.3zM427.2 221.7h4.3v2.2h-4.3zM370.8 223.7h8.3v2.2h-8.3zM370.8 225.7h8.3v2.2h-8.3zM370.8 227.7h8.3v2.2h-8.3zM370.8 229.7h8.3v2.2h-8.3zM370.8 231.6h8.3v2.2h-8.3zM455.4 231.6h24.4v2.2h-24.4zM370.8 233.6h8.3v2.2h-8.3zM455.4 233.6h24.4v2.2h-24.4zM370.8 235.6h8.3v2.2h-8.3zM386.9 235.6h8.3v2.2h-8.3zM407.1 235.6h8.3v2.2h-8.3zM451.4 235.6h8.3v2.2h-8.3zM479.6 235.6h4.3v2.2h-4.3zM370.8 237.6h8.3v2.2h-8.3zM386.9 237.6h8.3v2.2h-8.3zM407.1 237.6h8.3v2.2h-8.3zM451.4 237.6h8.3v2.2h-8.3zM479.6 237.6h4.3v2.2h-4.3zM374.8 239.6h4.3v2.2h-4.3zM390.9 239.6h4.3v2.2h-4.3zM407.1 239.6h8.3v2.2h-8.3zM451.4 239.6h4.3v2.2h-4.3zM479.6 239.6h4.3v2.2h-4.3zM374.8 241.6h4.3v2.2h-4.3zM390.9 241.6h4.3v2.2h-4.3zM407.1 241.6h8.3v2.2h-8.3zM451.4 241.6h4.3v2.2h-4.3zM479.6 241.6h4.3v2.2h-4.3zM378.9 243.6h12.3v2.2h-12.3zM463.4 243.6h12.3v2.2h-12.3zM378.9 245.6h12.3v2.2h-12.3zM463.4 245.6h12.3v2.2h-12.3zM467.5 247.6h4.3v2.2h-4.3zM467.5 249.6h4.3v2.2h-4.3zM386.9 251.5h4.3v2.2h-4.3zM467.5 251.5h4.3v2.2h-4.3zM487.6 251.5h8.3v2.2h-8.3zM386.9 253.5h4.3v2.2h-4.3zM467.5 253.5h4.3v2.2h-4.3zM487.6 253.5h8.3v2.2h-8.3zM382.9 255.5h4.3v2.2h-4.3zM395.0 255.5h8.3v2.2h-8.3zM463.4 255.5h8.3v2.2h-8.3zM382.9 257.5h4.3v2.2h-4.3zM395.0 257.5h8.3v2.2h-8.3zM463.4 257.5h8.3v2.2h-8.3zM395.0 259.5h8.3v2.2h-8.3zM447.3 259.5h28.4v2.2h-28.4zM395.0 261.5h8.3v2.2h-8.3zM447.3 261.5h28.4v2.2h-28.4zM395.0 263.5h4.3v2.2h-4.3zM419.1 263.5h8.3v2.2h-8.3zM451.4 263.5h8.3v2.2h-8.3zM467.5 263.5h4.3v2.2h-4.3zM395.0 265.5h4.3v2.2h-4.3zM419.1 265.5h8.3v2.2h-8.3zM451.4 265.5h8.3v2.2h-8.3zM467.5 265.5h4.3v2.2h-4.3zM395.0 267.5h4.3v2.2h-4.3zM419.1 267.5h4.3v2.2h-4.3zM451.4 267.5h4.3v2.2h-4.3zM463.4 267.5h8.3v2.2h-8.3zM483.6 267.5h8.3v2.2h-8.3zM395.0 269.5h4.3v2.2h-4.3zM419.1 269.5h4.3v2.2h-4.3zM451.4 269.5h4.3v2.2h-4.3zM463.4 269.5h8.3v2.2h-8.3zM483.6 269.5h8.3v2.2h-8.3zM395.0 271.4h4.3v2.2h-4.3zM451.4 271.4h20.4v2.2h-20.4zM483.6 271.4h8.3v2.2h-8.3zM395.0 273.4h4.3v2.2h-4.3zM451.4 273.4h20.4v2.2h-20.4zM483.6 273.4h8.3v2.2h-8.3zM399.0 275.4h4.3v2.2h-4.3zM455.4 275.4h8.3v2.2h-8.3zM483.6 275.4h8.3v2.2h-8.3zM399.0 277.4h4.3v2.2h-4.3zM455.4 277.4h8.3v2.2h-8.3zM483.6 277.4h8.3v2.2h-8.3zM395.0 279.4h8.3v2.2h-8.3zM451.4 279.4h12.3v2.2h-12.3zM395.0 281.4h8.3v2.2h-8.3zM451.4 281.4h12.3v2.2h-12.3zM399.0 283.4h8.3v2.2h-8.3zM447.3 283.4h4.3v2.2h-4.3zM455.4 283.4h12.3v2.2h-12.3zM399.0 285.4h8.3v2.2h-8.3zM447.3 285.4h4.3v2.2h-4.3zM453.4 285.4h14.3v2.2h-14.3zM399.0 287.4h8.3v2.2h-8.3zM443.3 287.4h20.4v2.2h-20.4zM399.0 289.4h8.3v2.2h-8.3zM443.3 289.4h20.4v2.2h-20.4zM374.8 295.3h8.3v2.2h-8.3zM374.8 297.3h8.3v2.2h-8.3zM374.8 299.3h8.3v2.2h-8.3zM459.4 299.3h8.3v2.2h-8.3zM374.8 301.3h8.3v2.2h-8.3zM459.4 301.3h8.3v2.2h-8.3zM463.4 303.3h4.3v2.2h-4.3zM463.4 305.3h4.3v2.2h-4.3zM411.1 311.3h4.3v2.2h-4.3zM411.1 313.2h4.3v2.2h-4.3zM370.8 315.2h4.3v2.2h-4.3zM407.1 315.2h12.3v2.2h-12.3zM370.8 317.2h4.3v2.2h-4.3zM407.1 317.2h12.3v2.2h-12.3zM370.8 319.2h4.3v2.2h-4.3zM411.1 319.2h4.3v2.2h-4.3zM370.8 321.2h4.3v2.2h-4.3zM411.1 321.2h4.3v2.2h-4.3zM370.8 323.2h4.3v2.2h-4.3zM395.0 323.2h8.3v2.2h-8.3zM459.4 323.2h8.3v2.2h-8.3zM483.6 323.2h4.3v2.2h-4.3zM370.8 325.2h4.3v2.2h-4.3zM395.0 325.2h8.3v2.2h-8.3zM459.4 325.2h8.3v2.2h-8.3zM483.6 325.2h4.3v2.2h-4.3zM390.9 327.2h12.3v2.2h-12.3zM459.4 327.2h4.3v2.2h-4.3zM471.5 327.2h24.4v2.2h-24.4zM390.9 329.2h12.3v2.2h-12.3zM459.4 329.2h4.3v2.2h-4.3zM471.5 329.2h24.4v2.2h-24.4zM378.9 331.2h12.3v2.2h-12.3zM395.0 331.2h8.3v2.2h-8.3zM427.2 331.2h8.3v2.2h-8.3zM479.6 331.2h12.3v2.2h-12.3zM378.9 333.1h12.3v2.2h-12.3zM395.0 333.1h8.3v2.2h-8.3zM427.2 333.1h8.3v2.2h-8.3zM479.6 333.1h12.3v2.2h-12.3zM370.8 335.1h4.3v2.2h-4.3zM382.9 335.1h8.3v2.2h-8.3zM395.0 335.1h8.3v2.2h-8.3zM423.2 335.1h12.3v2.2h-12.3zM455.4 335.1h4.3v2.2h-4.3zM370.8 337.1h4.3v2.2h-4.3zM382.9 337.1h8.3v2.2h-8.3zM395.0 337.1h8.3v2.2h-8.3zM423.2 337.1h12.3v2.2h-12.3zM455.4 337.1h4.3v2.2h-4.3zM378.9 339.1h8.3v2.2h-8.3zM390.9 339.1h16.4v2.2h-16.4zM423.2 339.1h12.3v2.2h-12.3zM455.4 339.1h4.3v2.2h-4.3zM487.6 339.1h8.3v2.2h-8.3zM378.9 341.1h8.3v2.2h-8.3zM390.9 341.1h16.4v2.2h-16.4zM423.2 341.1h12.3v2.2h-12.3zM455.4 341.1h4.3v2.2h-4.3zM487.6 341.1h8.3v2.2h-8.3zM370.8 343.1h4.3v2.2h-4.3zM407.1 343.1h4.3v2.2h-4.3zM427.2 343.1h8.3v2.2h-8.3zM455.4 343.1h4.3v2.2h-4.3zM487.6 343.1h8.3v2.2h-8.3zM370.8 345.1h4.3v2.2h-4.3zM407.1 345.1h4.3v2.2h-4.3zM427.2 345.1h8.3v2.2h-8.3zM455.4 345.1h4.3v2.2h-4.3zM487.6 345.1h8.3v2.2h-8.3zM415.1 347.1h32.5v2.2h-32.5zM451.4 347.1h4.3v2.2h-4.3zM467.5 347.1h8.3v2.2h-8.3zM415.1 349.1h32.5v2.2h-32.5zM451.4 349.1h4.3v2.2h-4.3zM467.5 349.1h8.3v2.2h-8.3zM415.1 351.1h20.4v2.2h-20.4zM439.3 351.1h12.3v2.2h-12.3zM415.1 353.0h20.4v2.2h-20.4zM439.3 353.0h12.3v2.2h-12.3zM370.8 355.0h4.3v2.2h-4.3zM419.1 355.0h16.4v2.2h-16.4zM370.8 357.0h4.3v2.2h-4.3zM419.1 357.0h16.4v2.2h-16.4zM370.8 359.0h8.3v2.2h-8.3zM419.1 359.0h16.4v2.2h-16.4zM370.8 361.0h8.3v2.2h-8.3zM419.1 361.0h16.4v2.2h-16.4z"/>
<path fill="#3ea4ac" d="M390.9 219.7h24.4v2.2h-24.4zM439.3 219.7h20.4v2.2h-20.4zM479.6 219.7h20.4v2.2h-20.4zM390.9 221.7h24.4v2.2h-24.4zM439.3 221.7h20.4v2.2h-20.4zM479.6 221.7h20.4v2.2h-20.4zM378.9 223.7h44.6v2.2h-44.6zM435.2 223.7h28.4v2.2h-28.4zM483.6 223.7h16.4v2.2h-16.4zM378.9 225.7h44.6v2.2h-44.6zM435.2 225.7h28.4v2.2h-28.4zM483.6 225.7h16.4v2.2h-16.4zM378.9 227.7h8.3v2.2h-8.3zM390.9 227.7h36.5v2.2h-36.5zM439.3 227.7h20.4v2.2h-20.4zM495.7 227.7h4.3v2.2h-4.3zM378.9 229.7h8.3v2.2h-8.3zM390.9 229.7h36.5v2.2h-36.5zM439.3 229.7h20.4v2.2h-20.4zM495.7 229.7h4.3v2.2h-4.3zM390.9 231.6h14.3v2.2h-14.3zM407.1 231.6h20.4v2.2h-20.4zM491.6 231.6h8.3v2.2h-8.3zM390.9 233.6h12.3v2.2h-12.3zM407.1 233.6h20.4v2.2h-20.4zM491.6 233.6h8.3v2.2h-8.3zM395.0 235.6h12.3v2.2h-12.3zM487.6 235.6h12.3v2.2h-12.3zM395.0 237.6h12.3v2.2h-12.3zM487.6 237.6h12.3v2.2h-12.3zM370.8 239.6h4.3v2.2h-4.3zM487.6 239.6h12.3v2.2h-12.3zM370.8 241.6h4.3v2.2h-4.3zM487.6 241.6h12.3v2.2h-12.3zM370.8 243.6h8.3v2.2h-8.3zM435.2 243.6h20.4v2.2h-20.4zM487.6 243.6h12.3v2.2h-12.3zM370.8 245.6h8.3v2.2h-8.3zM435.2 245.6h20.4v2.2h-20.4zM487.6 245.6h12.3v2.2h-12.3zM370.8 247.6h4.3v2.2h-4.3zM411.1 247.6h16.4v2.2h-16.4zM455.4 247.6h4.3v2.2h-4.3zM479.6 247.6h8.3v2.2h-8.3zM491.6 247.6h8.3v2.2h-8.3zM370.8 249.6h4.3v2.2h-4.3zM411.1 249.6h16.4v2.2h-16.4zM455.4 249.6h4.3v2.2h-4.3zM479.6 249.6h8.3v2.2h-8.3zM491.6 249.6h8.3v2.2h-8.3zM382.9 251.5h4.3v2.2h-4.3zM411.1 251.5h8.3v2.2h-8.3zM455.4 251.5h8.3v2.2h-8.3zM479.6 251.5h8.3v2.2h-8.3zM495.7 251.5h4.3v2.2h-4.3zM382.9 253.5h4.3v2.2h-4.3zM411.1 253.5h8.3v2.2h-8.3zM455.4 253.5h8.3v2.2h-8.3zM479.6 253.5h8.3v2.2h-8.3zM495.7 253.5h4.3v2.2h-4.3zM411.1 255.5h4.3v2.2h-4.3zM427.2 255.5h32.5v2.2h-32.5zM479.6 255.5h8.3v2.2h-8.3zM491.6 255.5h8.3v2.2h-8.3zM411.1 257.5h4.3v2.2h-4.3zM427.2 257.5h32.5v2.2h-32.5zM479.6 257.5h8.3v2.2h-8.3zM491.6 257.5h8.3v2.2h-8.3zM411.1 259.5h4.3v2.2h-4.3zM419.1 259.5h12.3v2.2h-12.3zM475.5 259.5h24.4v2.2h-24.4zM411.1 261.5h4.3v2.2h-4.3zM419.1 261.5h12.3v2.2h-12.3zM475.5 261.5h24.4v2.2h-24.4zM411.1 263.5h8.3v2.2h-8.3zM471.5 263.5h12.3v2.2h-12.3zM495.7 263.5h4.3v2.2h-4.3zM411.1 265.5h8.3v2.2h-8.3zM471.5 265.5h12.3v2.2h-12.3zM495.7 265.5h4.3v2.2h-4.3zM471.5 267.5h8.3v2.2h-8.3zM495.7 267.5h4.3v2.2h-4.3zM471.5 269.5h8.3v2.2h-8.3zM495.7 269.5h4.3v2.2h-4.3zM475.5 271.4h4.3v2.2h-4.3zM475.5 273.4h4.3v2.2h-4.3zM471.5 275.4h4.3v2.2h-4.3zM471.5 277.4h4.3v2.2h-4.3zM471.5 279.4h4.3v2.2h-4.3zM471.5 281.4h4.3v2.2h-4.3zM423.2 283.4h4.3v2.2h-4.3zM451.4 283.4h4.3v2.2h-4.3zM471.5 283.4h8.3v2.2h-8.3zM423.2 285.4h4.3v2.2h-4.3zM451.4 285.4h2.3v2.2h-2.3zM471.5 285.4h8.3v2.2h-8.3zM423.2 287.4h8.3v2.2h-8.3zM471.5 287.4h8.3v2.2h-8.3zM423.2 289.4h8.3v2.2h-8.3zM471.5 289.4h8.3v2.2h-8.3zM419.1 291.4h8.3v2.2h-8.3zM491.6 291.4h8.3v2.2h-8.3zM419.1 293.3h8.3v2.2h-8.3zM491.6 293.3h8.3v2.2h-8.3zM479.6 295.3h4.3v2.2h-4.3zM479.6 297.3h4.3v2.2h-4.3zM475.5 299.3h4.3v2.2h-4.3zM475.5 301.3h4.3v2.2h-4.3zM386.9 303.3h8.3v2.2h-8.3zM386.9 305.3h8.3v2.2h-8.3zM382.9 307.3h8.3v2.2h-8.3zM382.9 309.3h8.3v2.2h-8.3zM382.9 311.3h8.3v2.2h-8.3zM382.9 313.2h8.3v2.2h-8.3zM378.9 315.2h12.3v2.2h-12.3zM378.9 317.2h12.3v2.2h-12.3zM374.8 319.2h12.3v2.2h-12.3zM374.8 321.2h12.3v2.2h-12.3zM374.8 323.2h8.3v2.2h-8.3zM374.8 325.2h8.3v2.2h-8.3zM370.8 327.2h12.3v2.2h-12.3zM403.0 327.2h8.3v2.2h-8.3zM370.8 329.2h12.3v2.2h-12.3zM403.0 329.2h8.3v2.2h-8.3zM370.8 331.2h8.3v2.2h-8.3zM403.0 331.2h8.3v2.2h-8.3zM467.5 331.2h8.3v2.2h-8.3zM370.8 333.1h8.3v2.2h-8.3zM403.0 333.1h8.3v2.2h-8.3zM467.5 333.1h8.3v2.2h-8.3zM403.0 335.1h12.3v2.2h-12.3zM419.1 335.1h4.3v2.2h-4.3zM467.5 335.1h8.3v2.2h-8.3zM403.0 337.1h12.3v2.2h-12.3zM419.1 337.1h4.3v2.2h-4.3zM467.5 337.1h8.3v2.2h-8.3zM407.1 339.1h8.3v2.2h-8.3zM419.1 339.1h4.3v2.2h-4.3zM407.1 341.1h8.3v2.2h-8.3zM419.1 341.1h4.3v2.2h-4.3zM475.5 347.1h8.3v2.2h-8.3zM475.5 349.1h8.3v2.2h-8.3zM475.5 351.1h8.3v2.2h-8.3zM475.5 353.0h8.3v2.2h-8.3zM455.4 355.0h12.3v2.2h-12.3zM475.5 355.0h8.3v2.2h-8.3zM455.4 357.0h12.3v2.2h-12.3zM475.5 357.0h8.3v2.2h-8.3zM455.4 359.0h16.4v2.2h-16.4zM475.5 359.0h8.3v2.2h-8.3zM455.4 361.0h16.4v2.2h-16.4zM475.5 361.0h8.3v2.2h-8.3z"/>
<path fill="#5b4ca2" d="M386.9 231.6h4.3v2.2h-4.3zM405.0 231.6h2.3v2.2h-2.3zM386.9 233.6h4.3v2.2h-4.3zM403.0 233.6h4.3v2.2h-4.3zM427.2 247.6h28.4v2.2h-28.4zM427.2 249.6h28.4v2.2h-28.4zM419.1 251.5h36.5v2.2h-36.5zM419.1 253.5h36.5v2.2h-36.5zM415.1 255.5h12.3v2.2h-12.3zM415.1 257.5h12.3v2.2h-12.3zM415.1 259.5h4.3v2.2h-4.3zM415.1 261.5h4.3v2.2h-4.3zM475.5 275.4h4.3v2.2h-4.3zM475.5 277.4h4.3v2.2h-4.3zM475.5 279.4h4.3v2.2h-4.3zM475.5 281.4h4.3v2.2h-4.3zM483.6 287.4h8.3v2.2h-8.3zM483.6 289.4h8.3v2.2h-8.3zM483.6 291.4h8.3v2.2h-8.3zM483.6 293.3h8.3v2.2h-8.3z"/>
</g></g>
<rect x="370.80" y="219.70" width="128.90" height="143.30" fill="none" stroke="#1c1c1c" stroke-width="1.4"/>
<path d="M391.8 217.1V219.7 M433.4 217.1V219.7 M475.3 217.1V219.7 M396.4 363.0V366.0 M438.8 363.0V366.0 M480.5 363.0V366.0 M368.0 242.9H370.8 M368.0 294.9H370.8 M368.0 349.8H370.8 M499.7 237.2H502.5 M499.7 288.6H502.5 M499.7 343.9H502.5" stroke="#1c1c1c" stroke-width="1" fill="none"/>
<text x="391.7" y="214.8" font-size="8.5" text-anchor="middle">114°15'0&quot;E</text>
<text x="476.1" y="214.8" font-size="8.5" text-anchor="middle">114°35'0&quot;E</text>
<text x="398.3" y="374.5" font-size="8.5" text-anchor="middle">114°15'0&quot;E</text>
<text x="484.1" y="374.5" font-size="8.5" text-anchor="middle">114°35'0&quot;E</text>
<text x="0" y="0" font-size="8.5" text-anchor="middle" transform="translate(365.8,242.6) rotate(-90)">30°45'0&quot;N</text>
<text x="0" y="0" font-size="8.5" text-anchor="middle" transform="translate(365.8,294.9) rotate(-90)">30°35'0&quot;N</text>
<text x="0" y="0" font-size="8.5" text-anchor="middle" transform="translate(365.8,343.9) rotate(-90)">30°25'0&quot;N</text>
<text x="0" y="0" font-size="8.5" text-anchor="middle" transform="translate(510.9,233.0) rotate(-90)">30°45'0&quot;N</text>
<text x="0" y="0" font-size="8.5" text-anchor="middle" transform="translate(510.9,285.9) rotate(-90)">30°35'0&quot;N</text>
<text x="0" y="0" font-size="8.5" text-anchor="middle" transform="translate(510.9,340.2) rotate(-90)">30°25'0&quot;N</text>
<text x="432.9" y="206.3" font-size="11.5" text-anchor="middle">(f)</text>
<g fill="#1c1c1c">
<text x="517.5" y="267.8" font-size="10.5" text-anchor="start">Class</text>
<rect x="517.5" y="277.0" width="17" height="8" fill="#9e0142"/>
<text x="538.5" y="285.2" font-size="8.8" text-anchor="start">1</text>
<rect x="517.5" y="290.0" width="17" height="8" fill="#e95b3d"/>
<text x="538.5" y="298.2" font-size="8.8" text-anchor="start">2</text>
<rect x="517.5" y="303.0" width="17" height="8" fill="#fcad62"/>
<text x="538.5" y="311.2" font-size="8.8" text-anchor="start">3</text>
<rect x="517.5" y="316.0" width="17" height="8" fill="#fdfcb6"/>
<text x="538.5" y="324.2" font-size="8.8" text-anchor="start">4</text>
<rect x="517.5" y="329.0" width="17" height="8" fill="#afdb9a"/>
<text x="538.5" y="337.2" font-size="8.8" text-anchor="start">5</text>
<rect x="517.5" y="342.0" width="17" height="8" fill="#3ea4ac"/>
<text x="538.5" y="350.2" font-size="8.8" text-anchor="start">6</text>
<rect x="517.5" y="355.0" width="17" height="8" fill="#5b4ca2"/>
<text x="538.5" y="363.2" font-size="8.8" text-anchor="start">7</text>
<rect x="441.1" y="387.6" width="59.8" height="5.3" fill="#111"/>
<rect x="456.6" y="388.7" width="14.7" height="3.1" fill="#fff"/>
<text x="441.7" y="385.5" font-size="7.6" text-anchor="middle">0</text>
<text x="457.8" y="385.5" font-size="7.6" text-anchor="middle">5</text>
<text x="472.5" y="385.5" font-size="7.6" text-anchor="middle">10</text>
<text x="498.5" y="385.5" font-size="7.6" text-anchor="middle">20</text>
<text x="467.9" y="400.6" font-size="7.5" text-anchor="middle">Kilometers</text>
<text x="535.2" y="22.6" font-size="11.2" text-anchor="middle">N</text>
<path d="M535.5 24.5 L528.5 50.7 L535.5 47.8 Z" fill="#fff" stroke="#1c1c1c" stroke-width="0.6"/>
<path d="M535.5 24.5 L542.5 51.5 L535.5 47.8 Z" fill="#111"/>
</g>
</svg>
</body></html>
